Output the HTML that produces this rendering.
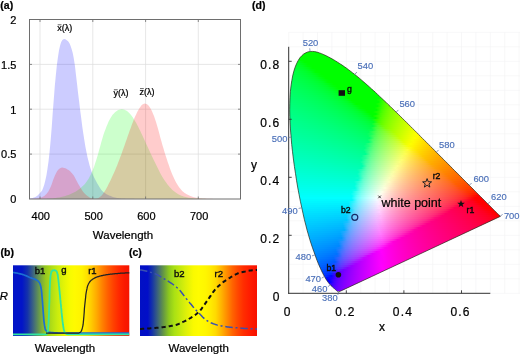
<!DOCTYPE html>
<html><head><meta charset="utf-8"><title>Figure</title>
<style>
html,body{margin:0;padding:0;background:#fff;}
body{width:520px;height:355px;overflow:hidden;}
svg{display:block;font-family:"Liberation Sans", Arial, Helvetica, sans-serif;}
svg text{fill:#000;stroke:#000;stroke-width:.22px;}
svg text.bl{fill:#4a6fb8;stroke:#4a6fb8;stroke-width:.15px;}
svg text.ml{fill:#0c0c0c;stroke:#0c0c0c;stroke-width:.38px;}

</style></head><body>
<svg width="520" height="355" viewBox="0 0 520 355">
<rect width="520" height="355" fill="#fff"/>
<g id="pa">
<line x1="40.0" y1="19.5" x2="40.0" y2="199.0" stroke="#dcdcdc" stroke-width="0.7"/>
<line x1="92.8" y1="19.5" x2="92.8" y2="199.0" stroke="#dcdcdc" stroke-width="0.7"/>
<line x1="145.6" y1="19.5" x2="145.6" y2="199.0" stroke="#dcdcdc" stroke-width="0.7"/>
<line x1="198.3" y1="19.5" x2="198.3" y2="199.0" stroke="#dcdcdc" stroke-width="0.7"/>
<line x1="29.5" y1="154.1" x2="240.5" y2="154.1" stroke="#dcdcdc" stroke-width="0.7"/>
<line x1="29.5" y1="109.2" x2="240.5" y2="109.2" stroke="#dcdcdc" stroke-width="0.7"/>
<line x1="29.5" y1="64.4" x2="240.5" y2="64.4" stroke="#dcdcdc" stroke-width="0.7"/>
<path d="M29.5,199.0 L29.5,198.4 30.6,198.3 31.6,198.2 32.7,197.9 33.7,197.6 34.8,197.2 35.8,196.7 36.9,196.1 37.9,195.3 39.0,194.1 40.0,192.9 41.1,191.7 42.2,190.2 43.2,187.8 44.3,184.5 45.3,180.4 46.4,175.4 47.4,169.3 48.5,161.6 49.5,152.4 50.6,141.1 51.7,127.5 52.7,112.9 53.8,98.9 54.8,86.1 55.9,74.6 56.9,64.8 58.0,56.8 59.0,50.3 60.1,45.5 61.1,42.2 62.2,40.2 63.3,39.2 64.3,39.0 65.4,39.3 66.4,40.0 67.5,40.7 68.5,41.7 69.6,43.4 70.6,45.9 71.7,49.2 72.8,53.3 73.8,58.6 74.9,65.6 75.9,74.3 77.0,83.4 78.0,92.4 79.1,101.2 80.1,109.8 81.2,118.1 82.2,126.0 83.3,133.5 84.4,140.5 85.4,146.7 86.5,152.3 87.5,157.3 88.6,161.6 89.6,165.5 90.7,168.9 91.7,172.0 92.8,174.6 93.9,176.9 94.9,178.9 96.0,180.9 97.0,182.9 98.1,184.8 99.1,186.6 100.2,188.2 101.2,189.7 102.3,190.9 103.3,192.0 104.4,192.8 105.5,193.5 106.5,194.2 107.6,194.7 108.6,195.2 109.7,195.7 110.7,196.1 111.8,196.5 112.8,196.9 113.9,197.2 115.0,197.5 116.0,197.7 117.1,197.9 118.1,198.1 119.2,198.2 120.2,198.3 121.3,198.4 122.3,198.5 123.4,198.6 124.5,198.6 125.5,198.7 126.6,198.7 127.6,198.8 128.7,198.8 129.7,198.8 130.8,198.8 131.8,198.8 132.9,198.8 133.9,198.8 135.0,198.9 136.1,198.9 137.1,198.9 138.2,198.9 139.2,198.9 140.3,198.9 141.3,198.9 142.4,198.9 143.4,198.9 144.5,198.9 145.6,198.9 146.6,198.9 147.7,198.9 148.7,199.0 149.8,199.0 150.8,199.0 151.9,199.0 152.9,199.0 154.0,199.0 155.0,199.0 156.1,199.0 157.2,199.0 158.2,199.0 159.3,199.0 160.3,199.0 161.4,199.0 162.4,199.0 163.5,199.0 164.5,199.0 165.6,199.0 166.7,199.0 167.7,199.0 168.8,199.0 169.8,199.0 170.9,199.0 171.9,199.0 173.0,199.0 174.0,199.0 175.1,199.0 176.1,199.0 177.2,199.0 178.3,199.0 179.3,199.0 180.4,199.0 181.4,199.0 182.5,199.0 183.5,199.0 184.6,199.0 185.6,199.0 186.7,199.0 187.8,199.0 188.8,199.0 189.9,199.0 190.9,199.0 192.0,199.0 193.0,199.0 194.1,199.0 195.1,199.0 196.2,199.0 197.2,199.0 198.3,199.0 199.4,199.0 200.4,199.0 201.5,199.0 202.5,199.0 203.6,199.0 204.6,199.0 205.7,199.0 206.7,199.0 207.8,199.0 208.8,199.0 209.9,199.0 211.0,199.0 212.0,199.0 213.1,199.0 214.1,199.0 215.2,199.0 216.2,199.0 217.3,199.0 218.3,199.0 219.4,199.0 220.5,199.0 221.5,199.0 222.6,199.0 223.6,199.0 224.7,199.0 225.7,199.0 226.8,199.0 227.8,199.0 228.9,199.0 229.9,199.0 231.0,199.0 232.1,199.0 233.1,199.0 234.2,199.0 235.2,199.0 236.3,199.0 237.3,199.0 238.4,199.0 239.4,199.0 240.5,199.0 L240.5,199.0 Z" fill="#0000ff" fill-opacity="0.2"/>
<path d="M29.5,199.0 L29.5,199.0 30.6,199.0 31.6,199.0 32.7,199.0 33.7,199.0 34.8,199.0 35.8,199.0 36.9,199.0 37.9,199.0 39.0,199.0 40.0,199.0 41.1,199.0 42.2,198.9 43.2,198.9 44.3,198.9 45.3,198.9 46.4,198.9 47.4,198.8 48.5,198.8 49.5,198.7 50.6,198.6 51.7,198.5 52.7,198.4 53.8,198.3 54.8,198.1 55.9,198.0 56.9,197.8 58.0,197.6 59.0,197.4 60.1,197.2 61.1,196.9 62.2,196.7 63.3,196.5 64.3,196.2 65.4,195.9 66.4,195.6 67.5,195.3 68.5,194.9 69.6,194.5 70.6,194.1 71.7,193.6 72.8,193.1 73.8,192.6 74.9,192.1 75.9,191.5 77.0,190.8 78.0,190.1 79.1,189.3 80.1,188.5 81.2,187.5 82.2,186.5 83.3,185.5 84.4,184.4 85.4,183.2 86.5,181.8 87.5,180.3 88.6,178.7 89.6,176.8 90.7,174.8 91.7,172.5 92.8,170.0 93.9,167.2 94.9,164.1 96.0,160.8 97.0,157.4 98.1,153.9 99.1,150.1 100.2,146.3 101.2,142.5 102.3,138.8 103.3,135.3 104.4,132.1 105.5,129.2 106.5,126.5 107.6,123.9 108.6,121.6 109.7,119.6 110.7,117.7 111.8,116.1 112.8,114.6 113.9,113.4 115.0,112.3 116.0,111.4 117.1,110.7 118.1,110.1 119.2,109.7 120.2,109.4 121.3,109.3 122.3,109.3 123.4,109.4 124.5,109.7 125.5,110.2 126.6,110.8 127.6,111.6 128.7,112.5 129.7,113.6 130.8,114.8 131.8,116.1 132.9,117.6 133.9,119.2 135.0,120.9 136.1,122.8 137.1,124.7 138.2,126.8 139.2,128.9 140.3,131.1 141.3,133.3 142.4,135.5 143.4,137.8 144.5,140.1 145.6,142.4 146.6,144.7 147.7,147.0 148.7,149.3 149.8,151.6 150.8,153.9 151.9,156.1 152.9,158.3 154.0,160.5 155.0,162.6 156.1,164.8 157.2,167.0 158.2,169.1 159.3,171.2 160.3,173.3 161.4,175.2 162.4,177.0 163.5,178.7 164.5,180.3 165.6,181.8 166.7,183.3 167.7,184.7 168.8,186.0 169.8,187.2 170.9,188.3 171.9,189.4 173.0,190.4 174.0,191.3 175.1,192.1 176.1,192.8 177.2,193.5 178.3,194.2 179.3,194.7 180.4,195.3 181.4,195.7 182.5,196.1 183.5,196.5 184.6,196.8 185.6,197.0 186.7,197.3 187.8,197.5 188.8,197.7 189.9,197.8 190.9,198.0 192.0,198.1 193.0,198.3 194.1,198.4 195.1,198.4 196.2,198.5 197.2,198.6 198.3,198.6 199.4,198.7 200.4,198.7 201.5,198.8 202.5,198.8 203.6,198.8 204.6,198.8 205.7,198.9 206.7,198.9 207.8,198.9 208.8,198.9 209.9,198.9 211.0,198.9 212.0,198.9 213.1,198.9 214.1,199.0 215.2,199.0 216.2,199.0 217.3,199.0 218.3,199.0 219.4,199.0 220.5,199.0 221.5,199.0 222.6,199.0 223.6,199.0 224.7,199.0 225.7,199.0 226.8,199.0 227.8,199.0 228.9,199.0 229.9,199.0 231.0,199.0 232.1,199.0 233.1,199.0 234.2,199.0 235.2,199.0 236.3,199.0 237.3,199.0 238.4,199.0 239.4,199.0 240.5,199.0 L240.5,199.0 Z" fill="#00ff00" fill-opacity="0.2"/>
<path d="M29.5,199.0 L29.5,198.9 30.6,198.9 31.6,198.8 32.7,198.8 33.7,198.7 34.8,198.6 35.8,198.5 36.9,198.4 37.9,198.2 39.0,198.0 40.0,197.7 41.1,197.5 42.2,197.1 43.2,196.6 44.3,196.0 45.3,195.1 46.4,194.1 47.4,192.8 48.5,191.2 49.5,189.3 50.6,186.9 51.7,184.2 52.7,181.2 53.8,178.3 54.8,175.8 55.9,173.5 56.9,171.6 58.0,170.1 59.0,169.0 60.1,168.2 61.1,167.7 62.2,167.6 63.3,167.7 64.3,167.9 65.4,168.3 66.4,168.8 67.5,169.4 68.5,170.0 69.6,170.8 70.6,171.8 71.7,172.9 72.8,174.2 73.8,175.6 74.9,177.4 75.9,179.4 77.0,181.5 78.0,183.4 79.1,185.3 80.1,187.1 81.2,188.8 82.2,190.4 83.3,191.9 84.4,193.2 85.4,194.3 86.5,195.3 87.5,196.1 88.6,196.8 89.6,197.4 90.7,197.9 91.7,198.3 92.8,198.6 93.9,198.7 94.9,198.8 96.0,198.7 97.0,198.5 98.1,198.2 99.1,197.6 100.2,196.8 101.2,195.9 102.3,194.7 103.3,193.3 104.4,191.8 105.5,190.1 106.5,188.2 107.6,186.2 108.6,184.1 109.7,182.0 110.7,179.9 111.8,177.6 112.8,175.3 113.9,172.9 115.0,170.5 116.0,168.0 117.1,165.4 118.1,162.8 119.2,160.1 120.2,157.3 121.3,154.5 122.3,151.6 123.4,148.6 124.5,145.6 125.5,142.6 126.6,139.6 127.6,136.6 128.7,133.6 129.7,130.6 130.8,127.7 131.8,124.8 132.9,122.0 133.9,119.3 135.0,116.8 136.1,114.4 137.1,112.2 138.2,110.2 139.2,108.4 140.3,106.9 141.3,105.6 142.4,104.5 143.4,103.9 144.5,103.6 145.6,103.7 146.6,104.0 147.7,104.7 148.7,105.7 149.8,107.2 150.8,109.0 151.9,111.1 152.9,113.5 154.0,116.1 155.0,119.1 156.1,122.3 157.2,125.9 158.2,129.6 159.3,133.5 160.3,137.5 161.4,141.3 162.4,145.1 163.5,148.6 164.5,152.1 165.6,155.5 166.7,158.8 167.7,162.0 168.8,165.1 169.8,168.1 170.9,170.9 171.9,173.6 173.0,176.0 174.0,178.3 175.1,180.4 176.1,182.4 177.2,184.2 178.3,185.9 179.3,187.4 180.4,188.8 181.4,190.1 182.5,191.2 183.5,192.1 184.6,192.9 185.6,193.6 186.7,194.2 187.8,194.8 188.8,195.3 189.9,195.8 190.9,196.3 192.0,196.6 193.0,197.0 194.1,197.2 195.1,197.5 196.2,197.7 197.2,197.8 198.3,198.0 199.4,198.1 200.4,198.2 201.5,198.3 202.5,198.4 203.6,198.5 204.6,198.5 205.7,198.6 206.7,198.7 207.8,198.7 208.8,198.7 209.9,198.8 211.0,198.8 212.0,198.8 213.1,198.9 214.1,198.9 215.2,198.9 216.2,198.9 217.3,198.9 218.3,198.9 219.4,198.9 220.5,198.9 221.5,199.0 222.6,199.0 223.6,199.0 224.7,199.0 225.7,199.0 226.8,199.0 227.8,199.0 228.9,199.0 229.9,199.0 231.0,199.0 232.1,199.0 233.1,199.0 234.2,199.0 235.2,199.0 236.3,199.0 237.3,199.0 238.4,199.0 239.4,199.0 240.5,199.0 L240.5,199.0 Z" fill="#ff0000" fill-opacity="0.2"/>
<rect x="29.5" y="19.5" width="211.0" height="179.5" fill="none" stroke="#6e6e6e" stroke-width="1"/>
<line x1="40.0" y1="199.0" x2="40.0" y2="196.5" stroke="#6e6e6e" stroke-width="0.8"/>
<line x1="40.0" y1="19.5" x2="40.0" y2="22.0" stroke="#6e6e6e" stroke-width="0.8"/>
<text x="40.8" y="220" font-size="11" text-anchor="middle">400</text>
<line x1="92.8" y1="199.0" x2="92.8" y2="196.5" stroke="#6e6e6e" stroke-width="0.8"/>
<line x1="92.8" y1="19.5" x2="92.8" y2="22.0" stroke="#6e6e6e" stroke-width="0.8"/>
<text x="93.6" y="220" font-size="11" text-anchor="middle">500</text>
<line x1="145.6" y1="199.0" x2="145.6" y2="196.5" stroke="#6e6e6e" stroke-width="0.8"/>
<line x1="145.6" y1="19.5" x2="145.6" y2="22.0" stroke="#6e6e6e" stroke-width="0.8"/>
<text x="146.4" y="220" font-size="11" text-anchor="middle">600</text>
<line x1="198.3" y1="199.0" x2="198.3" y2="196.5" stroke="#6e6e6e" stroke-width="0.8"/>
<line x1="198.3" y1="19.5" x2="198.3" y2="22.0" stroke="#6e6e6e" stroke-width="0.8"/>
<text x="199.1" y="220" font-size="11" text-anchor="middle">700</text>
<text x="16.4" y="203.3" font-size="11" text-anchor="end">0</text>
<line x1="29.5" y1="154.1" x2="32.0" y2="154.1" stroke="#6e6e6e" stroke-width="0.8"/>
<line x1="240.5" y1="154.1" x2="238.0" y2="154.1" stroke="#6e6e6e" stroke-width="0.8"/>
<text x="16.4" y="158.4" font-size="11" text-anchor="end">0.5</text>
<line x1="29.5" y1="109.2" x2="32.0" y2="109.2" stroke="#6e6e6e" stroke-width="0.8"/>
<line x1="240.5" y1="109.2" x2="238.0" y2="109.2" stroke="#6e6e6e" stroke-width="0.8"/>
<text x="16.4" y="113.5" font-size="11" text-anchor="end">1</text>
<line x1="29.5" y1="64.4" x2="32.0" y2="64.4" stroke="#6e6e6e" stroke-width="0.8"/>
<line x1="240.5" y1="64.4" x2="238.0" y2="64.4" stroke="#6e6e6e" stroke-width="0.8"/>
<text x="16.4" y="68.7" font-size="11" text-anchor="end">1.5</text>
<text x="16.4" y="23.8" font-size="11" text-anchor="end">2</text>
<text x="123" y="239" font-size="11.5" text-anchor="middle">Wavelength</text>
<text x="0.3" y="8.5" font-size="10.5" font-weight="bold">(a)</text>
<text x="57.3" y="31.2" font-size="9">x(&#955;)</text>
<line x1="57.7" y1="24.8" x2="61.5" y2="24.8" stroke="#222" stroke-width="0.7"/>
<text x="113.5" y="96.2" font-size="9">y(&#955;)</text>
<line x1="113.9" y1="89.8" x2="117.7" y2="89.8" stroke="#222" stroke-width="0.7"/>
<text x="139.6" y="95.0" font-size="9">z(&#955;)</text>
<line x1="140.0" y1="88.6" x2="143.8" y2="88.6" stroke="#222" stroke-width="0.7"/>
</g>
<defs>
<linearGradient id="rb" x1="0" x2="1" y1="0" y2="0">
<stop offset="0.000" stop-color="#0410be"/>
<stop offset="0.012" stop-color="#0214c8"/>
<stop offset="0.077" stop-color="#0214c8"/>
<stop offset="0.125" stop-color="#1432aa"/>
<stop offset="0.173" stop-color="#3c6482"/>
<stop offset="0.220" stop-color="#649650"/>
<stop offset="0.278" stop-color="#96c81e"/>
<stop offset="0.345" stop-color="#b6e214"/>
<stop offset="0.383" stop-color="#caec0e"/>
<stop offset="0.450" stop-color="#e8f604"/>
<stop offset="0.494" stop-color="#f8fb00"/>
<stop offset="0.530" stop-color="#fffa00"/>
<stop offset="0.593" stop-color="#fff300"/>
<stop offset="0.630" stop-color="#ffe400"/>
<stop offset="0.670" stop-color="#ffcd00"/>
<stop offset="0.719" stop-color="#ffaa00"/>
<stop offset="0.767" stop-color="#ff8200"/>
<stop offset="0.815" stop-color="#ff5f00"/>
<stop offset="0.863" stop-color="#ff4100"/>
<stop offset="0.911" stop-color="#ff2800"/>
<stop offset="0.959" stop-color="#fa1900"/>
<stop offset="1.000" stop-color="#f51400"/>
</linearGradient>
<linearGradient id="rc" x1="0" x2="1" y1="0" y2="0">
<stop offset="0.000" stop-color="#0210c4"/>
<stop offset="0.066" stop-color="#020ec8"/>
<stop offset="0.103" stop-color="#1432aa"/>
<stop offset="0.151" stop-color="#3c647a"/>
<stop offset="0.199" stop-color="#649646"/>
<stop offset="0.247" stop-color="#8cc81e"/>
<stop offset="0.294" stop-color="#aae114"/>
<stop offset="0.390" stop-color="#dcf00a"/>
<stop offset="0.456" stop-color="#fafa00"/>
<stop offset="0.500" stop-color="#fffc00"/>
<stop offset="0.560" stop-color="#fff600"/>
<stop offset="0.600" stop-color="#ffec00"/>
<stop offset="0.647" stop-color="#ffda00"/>
<stop offset="0.695" stop-color="#ffb400"/>
<stop offset="0.743" stop-color="#ff8c00"/>
<stop offset="0.790" stop-color="#ff6400"/>
<stop offset="0.838" stop-color="#ff4600"/>
<stop offset="0.885" stop-color="#ff2d00"/>
<stop offset="0.933" stop-color="#ff1e00"/>
<stop offset="0.980" stop-color="#fa1400"/>
<stop offset="1.000" stop-color="#f61200"/>
</linearGradient>
</defs>
<rect x="13.0" y="265.3" width="116.3" height="70.7" fill="url(#rb)"/>
<rect x="140.0" y="265.3" width="117.0" height="70.7" fill="url(#rc)"/>
<path d="M13.0,272.4 L13.6,272.5 L14.2,272.6 L14.7,272.7 L15.3,272.8 L15.9,272.9 L16.5,273.0 L17.1,273.1 L17.7,273.3 L18.2,273.4 L18.8,273.5 L19.4,273.7 L20.0,273.8 L20.6,273.9 L21.2,274.1 L21.7,274.3 L22.3,274.4 L22.9,274.6 L23.5,274.8 L24.1,275.0 L24.7,275.2 L25.2,275.4 L25.8,275.6 L26.4,275.9 L27.0,276.1 L27.6,276.4 L28.2,276.7 L28.7,277.0 L29.3,277.2 L29.9,277.5 L30.5,277.7 L31.1,277.9 L31.7,278.1 L32.2,278.3 L32.8,278.5 L33.4,278.7 L34.0,278.9 L34.6,279.1 L35.2,279.4 L35.7,279.6 L36.3,279.9 L36.9,280.2 L37.5,280.6 L38.1,281.1 L38.6,281.6 L39.2,282.4 L39.8,283.4 L40.4,285.0 L41.0,287.7 L41.6,291.5 L42.1,297.5 L42.7,305.1 L43.3,313.4 L43.9,321.1 L44.5,325.4 L45.1,328.5 L45.6,330.0 L46.2,330.8 L46.8,331.4 L47.4,331.8 L48.0,332.0 L48.6,332.1 L49.1,332.2 L49.7,332.3 L50.3,332.4 L50.9,332.5 L51.5,332.5 L52.1,332.6 L52.6,332.6 L53.2,332.7 L53.8,332.8 L54.4,332.8 L55.0,332.8 L55.6,332.9 L56.1,332.9 L56.7,332.9 L57.3,332.9 L57.9,333.0 L58.5,333.0 L59.1,333.0 L59.6,333.0 L60.2,333.0 L60.8,333.0 L61.4,333.0 L62.0,333.0 L62.5,333.0 L63.1,333.0 L63.7,333.0 L64.3,333.0 L64.9,333.0 L65.5,333.0 L66.0,333.0 L66.6,333.0 L67.2,333.0 L67.8,333.1 L68.4,333.1 L69.0,333.1 L69.5,333.1 L70.1,333.1 L70.7,333.1 L71.3,333.1 L71.9,333.1 L72.5,333.1 L73.0,333.1 L73.6,333.1 L74.2,333.1 L74.8,333.1 L75.4,333.1 L76.0,333.1 L76.5,333.1 L77.1,333.1 L77.7,333.1 L78.3,333.1 L78.9,333.1 L79.5,333.1 L80.0,333.1 L80.6,333.1 L81.2,333.1 L81.8,333.1 L82.4,333.1 L82.9,333.1 L83.5,333.1 L84.1,333.1 L84.7,333.1 L85.3,333.1 L85.9,333.1 L86.4,333.1 L87.0,333.1 L87.6,333.1 L88.2,333.1 L88.8,333.1 L89.4,333.1 L89.9,333.1 L90.5,333.2 L91.1,333.2 L91.7,333.2 L92.3,333.2 L92.9,333.2 L93.4,333.2 L94.0,333.2 L94.6,333.2 L95.2,333.2 L95.8,333.2 L96.4,333.2 L96.9,333.2 L97.5,333.2 L98.1,333.2 L98.7,333.2 L99.3,333.2 L99.9,333.2 L100.4,333.2 L101.0,333.2 L101.6,333.2 L102.2,333.2 L102.8,333.2 L103.4,333.2 L103.9,333.2 L104.5,333.2 L105.1,333.2 L105.7,333.2 L106.3,333.2 L106.8,333.2 L107.4,333.2 L108.0,333.2 L108.6,333.2 L109.2,333.2 L109.8,333.2 L110.3,333.2 L110.9,333.2 L111.5,333.2 L112.1,333.2 L112.7,333.2 L113.3,333.2 L113.8,333.2 L114.4,333.2 L115.0,333.2 L115.6,333.2 L116.2,333.2 L116.8,333.2 L117.3,333.2 L117.9,333.2 L118.5,333.2 L119.1,333.2 L119.7,333.2 L120.3,333.2 L120.8,333.2 L121.4,333.2 L122.0,333.2 L122.6,333.2 L123.2,333.2 L123.8,333.2 L124.3,333.2 L124.9,333.2 L125.5,333.2 L126.1,333.2 L126.7,333.2 L127.3,333.2 L127.8,333.2 L128.4,333.2 L129.0,333.2" fill="none" stroke="#1c6ed2" stroke-width="1.7"/>
<path d="M13.0,334.3 L13.1,334.3 L13.3,334.3 L13.4,334.3 L13.5,334.3 L13.6,334.3 L13.8,334.3 L13.9,334.3 L14.0,334.3 L14.2,334.3 L14.3,334.3 L14.4,334.3 L14.6,334.3 L14.7,334.3 L14.8,334.3 L14.9,334.3 L15.1,334.3 L15.2,334.3 L15.3,334.3 L15.5,334.3 L15.6,334.3 L15.7,334.3 L15.8,334.3 L16.0,334.3 L16.1,334.3 L16.2,334.3 L16.4,334.3 L16.5,334.3 L16.6,334.3 L16.8,334.3 L16.9,334.3 L17.0,334.3 L17.1,334.3 L17.3,334.3 L17.4,334.3 L17.5,334.3 L17.7,334.3 L17.8,334.3 L17.9,334.3 L18.0,334.3 L18.2,334.3 L18.3,334.3 L18.4,334.3 L18.6,334.3 L18.7,334.3 L18.8,334.3 L19.0,334.3 L19.1,334.3 L19.2,334.3 L19.3,334.3 L19.5,334.3 L19.6,334.3 L19.7,334.3 L19.9,334.3 L20.0,334.3 L20.1,334.3 L20.2,334.3 L20.4,334.3 L20.5,334.3 L20.6,334.3 L20.8,334.3 L20.9,334.3 L21.0,334.3 L21.2,334.3 L21.3,334.3 L21.4,334.3 L21.5,334.3 L21.7,334.3 L21.8,334.3 L21.9,334.3 L22.1,334.3 L22.2,334.3 L22.3,334.3 L22.4,334.3 L22.6,334.3 L22.7,334.3 L22.8,334.3 L23.0,334.3 L23.1,334.3 L23.2,334.3 L23.3,334.3 L23.5,334.3 L23.6,334.3 L23.7,334.3 L23.9,334.3 L24.0,334.3 L24.1,334.3 L24.3,334.3 L24.4,334.3 L24.5,334.3 L24.6,334.3 L24.8,334.3 L24.9,334.3 L25.0,334.3 L25.2,334.3 L25.3,334.3 L25.4,334.3 L25.5,334.3 L25.7,334.3 L25.8,334.3 L25.9,334.3 L26.1,334.3 L26.2,334.3 L26.3,334.3 L26.5,334.3 L26.6,334.3 L26.7,334.3 L26.8,334.3 L27.0,334.3 L27.1,334.3 L27.2,334.3 L27.4,334.3 L27.5,334.3 L27.6,334.3 L27.7,334.3 L27.9,334.3 L28.0,334.3 L28.1,334.3 L28.3,334.3 L28.4,334.3 L28.5,334.3 L28.7,334.3 L28.8,334.3 L28.9,334.3 L29.0,334.3 L29.2,334.3 L29.3,334.3 L29.4,334.3 L29.6,334.3 L29.7,334.3 L29.8,334.3 L29.9,334.3 L30.1,334.3 L30.2,334.3 L30.3,334.3 L30.5,334.3 L30.6,334.3 L30.7,334.3 L30.9,334.3 L31.0,334.3 L31.1,334.3 L31.2,334.3 L31.4,334.3 L31.5,334.3 L31.6,334.3 L31.8,334.3 L31.9,334.3 L32.0,334.3 L32.1,334.3 L32.3,334.3 L32.4,334.3 L32.5,334.3 L32.7,334.3 L32.8,334.3 L32.9,334.3 L33.1,334.3 L33.2,334.3 L33.3,334.3 L33.4,334.3 L33.6,334.3 L33.7,334.3 L33.8,334.3 L34.0,334.3 L34.1,334.3 L34.2,334.3 L34.3,334.3 L34.5,334.3 L34.6,334.3 L34.7,334.3 L34.9,334.3 L35.0,334.3 L35.1,334.3 L35.3,334.3 L35.4,334.3 L35.5,334.3 L35.6,334.3 L35.8,334.3 L35.9,334.3 L36.0,334.3 L36.2,334.3 L36.3,334.3 L36.4,334.3 L36.5,334.3 L36.7,334.3 L36.8,334.3 L36.9,334.3 L37.1,334.3 L37.2,334.3 L37.3,334.3 L37.5,334.3 L37.6,334.3 L37.7,334.3 L37.8,334.3 L38.0,334.3 L38.1,334.3 L38.2,334.3 L38.4,334.3 L38.5,334.3 L38.6,334.3 L38.7,334.3 L38.9,334.3 L39.0,334.3 L39.1,334.3 L39.3,334.3 L39.4,334.3 L39.5,334.3 L39.6,334.3 L39.8,334.3 L39.9,334.3 L40.0,334.3 L40.2,334.3 L40.3,334.3 L40.4,334.3 L40.6,334.3 L40.7,334.3 L40.8,334.3 L40.9,334.3 L41.1,334.3 L41.2,334.3 L41.3,334.3 L41.5,334.3 L41.6,334.3 L41.7,334.3 L41.8,334.3 L42.0,334.3 L42.1,334.3 L42.2,334.3 L42.4,334.3 L42.5,334.3 L42.6,334.3 L42.8,334.3 L42.9,334.3 L43.0,334.3 L43.1,334.3 L43.3,334.3 L43.4,334.3 L43.5,334.3 L43.7,334.3 L43.8,334.3 L43.9,334.3 L44.0,334.3 L44.2,334.3 L44.3,334.3 L44.4,334.3 L44.6,334.3 L44.7,334.3 L44.8,334.3 L45.0,334.3 L45.1,334.3 L45.2,334.3 L45.3,334.3 L45.5,334.3 L45.6,334.3 L45.7,334.3 L45.9,334.3 L46.0,334.3 L46.1,334.3 L46.2,334.3 L46.4,334.3 L46.5,334.2 L46.6,334.1 L46.8,334.0 L46.9,333.8 L47.0,333.5 L47.2,333.2 L47.3,332.9 L47.4,332.6 L47.5,332.2 L47.7,331.7 L47.8,331.0 L47.9,330.1 L48.1,328.9 L48.2,327.5 L48.3,326.0 L48.4,324.2 L48.6,322.4 L48.7,320.1 L48.8,317.0 L49.0,313.3 L49.1,309.3 L49.2,305.3 L49.4,301.5 L49.5,297.2 L49.6,292.9 L49.7,288.8 L49.9,285.6 L50.0,283.3 L50.1,281.2 L50.3,279.3 L50.4,277.7 L50.5,276.3 L50.6,275.3 L50.8,274.6 L50.9,274.0 L51.0,273.4 L51.2,272.8 L51.3,272.3 L51.4,271.9 L51.6,271.5 L51.7,271.2 L51.8,271.0 L51.9,270.8 L52.1,270.8 L52.2,270.7 L52.3,270.6 L52.5,270.6 L52.6,270.5 L52.7,270.5 L52.8,270.4 L53.0,270.4 L53.1,270.4 L53.2,270.3 L53.4,270.3 L53.5,270.3 L53.6,270.3 L53.8,270.2 L53.9,270.2 L54.0,270.2 L54.1,270.2 L54.3,270.2 L54.4,270.2 L54.5,270.2 L54.7,270.2 L54.8,270.3 L54.9,270.3 L55.0,270.3 L55.2,270.4 L55.3,270.4 L55.4,270.5 L55.6,270.5 L55.7,270.6 L55.8,270.7 L55.9,270.8 L56.1,270.8 L56.2,270.9 L56.3,271.0 L56.5,271.2 L56.6,271.4 L56.7,271.6 L56.9,272.0 L57.0,272.3 L57.1,272.7 L57.2,273.1 L57.4,273.6 L57.5,274.1 L57.6,274.6 L57.8,275.3 L57.9,276.1 L58.0,277.0 L58.1,278.1 L58.3,279.2 L58.4,280.4 L58.5,281.6 L58.7,282.8 L58.8,284.1 L58.9,285.2 L59.1,286.4 L59.2,287.6 L59.3,288.9 L59.4,290.1 L59.6,291.4 L59.7,292.7 L59.8,294.1 L60.0,295.4 L60.1,296.7 L60.2,298.1 L60.3,299.4 L60.5,300.7 L60.6,302.1 L60.7,303.4 L60.9,304.7 L61.0,306.0 L61.1,307.4 L61.3,308.8 L61.4,310.1 L61.5,311.5 L61.6,312.9 L61.8,314.2 L61.9,315.5 L62.0,316.7 L62.2,317.9 L62.3,319.1 L62.4,320.1 L62.5,321.2 L62.7,322.3 L62.8,323.3 L62.9,324.3 L63.1,325.3 L63.2,326.2 L63.3,327.1 L63.5,327.8 L63.6,328.5 L63.7,329.0 L63.8,329.5 L64.0,330.0 L64.1,330.5 L64.2,330.9 L64.4,331.3 L64.5,331.7 L64.6,332.0 L64.7,332.3 L64.9,332.6 L65.0,332.8 L65.1,333.0 L65.3,333.2 L65.4,333.3 L65.5,333.4 L65.7,333.5 L65.8,333.5 L65.9,333.6 L66.0,333.7 L66.2,333.8 L66.3,333.8 L66.4,333.9 L66.6,334.0 L66.7,334.0 L66.8,334.1 L66.9,334.1 L67.1,334.2 L67.2,334.2 L67.3,334.2 L67.5,334.3 L67.6,334.3 L67.7,334.3 L67.9,334.3 L68.0,334.3 L68.1,334.3 L68.2,334.3 L68.4,334.3 L68.5,334.3 L68.6,334.3 L68.8,334.3 L68.9,334.3 L69.0,334.3 L69.1,334.3 L69.3,334.3 L69.4,334.3 L69.5,334.3 L69.7,334.3 L69.8,334.3 L69.9,334.3 L70.1,334.3 L70.2,334.3 L70.3,334.3 L70.4,334.3 L70.6,334.3 L70.7,334.3 L70.8,334.3 L71.0,334.3 L71.1,334.3 L71.2,334.3 L71.3,334.3 L71.5,334.3 L71.6,334.3 L71.7,334.3 L71.9,334.3 L72.0,334.3 L72.1,334.3 L72.2,334.3 L72.4,334.3 L72.5,334.3 L72.6,334.3 L72.8,334.3 L72.9,334.3 L73.0,334.3 L73.2,334.3 L73.3,334.3 L73.4,334.3 L73.5,334.3 L73.7,334.3 L73.8,334.3 L73.9,334.3 L74.1,334.3 L74.2,334.3 L74.3,334.3 L74.4,334.3 L74.6,334.3 L74.7,334.3 L74.8,334.3 L75.0,334.3 L75.1,334.3 L75.2,334.3 L75.4,334.3 L75.5,334.3 L75.6,334.3 L75.7,334.3 L75.9,334.3 L76.0,334.3 L76.1,334.3 L76.3,334.3 L76.4,334.3 L76.5,334.3 L76.6,334.3 L76.8,334.3 L76.9,334.3 L77.0,334.3 L77.2,334.3 L77.3,334.3 L77.4,334.3 L77.6,334.3 L77.7,334.3 L77.8,334.3 L77.9,334.3 L78.1,334.3 L78.2,334.3 L78.3,334.3 L78.5,334.3 L78.6,334.3 L78.7,334.3 L78.8,334.3 L79.0,334.3 L79.1,334.3 L79.2,334.3 L79.4,334.3 L79.5,334.3 L79.6,334.3 L79.8,334.3 L79.9,334.3 L80.0,334.3 L80.1,334.3 L80.3,334.3 L80.4,334.3 L80.5,334.3 L80.7,334.3 L80.8,334.3 L80.9,334.3 L81.0,334.3 L81.2,334.3 L81.3,334.3 L81.4,334.3 L81.6,334.3 L81.7,334.3 L81.8,334.3 L82.0,334.3 L82.1,334.3 L82.2,334.3 L82.3,334.3 L82.5,334.3 L82.6,334.3 L82.7,334.3 L82.9,334.3 L83.0,334.3 L83.1,334.3 L83.2,334.3 L83.4,334.3 L83.5,334.3 L83.6,334.3 L83.8,334.3 L83.9,334.3 L84.0,334.3 L84.2,334.3 L84.3,334.3 L84.4,334.3 L84.5,334.3 L84.7,334.3 L84.8,334.3 L84.9,334.3 L85.1,334.3 L85.2,334.3 L85.3,334.3 L85.4,334.3 L85.6,334.3 L85.7,334.3 L85.8,334.3 L86.0,334.3 L86.1,334.3 L86.2,334.3 L86.4,334.3 L86.5,334.3 L86.6,334.3 L86.7,334.3 L86.9,334.3 L87.0,334.3 L87.1,334.3 L87.3,334.3 L87.4,334.3 L87.5,334.3 L87.6,334.3 L87.8,334.3 L87.9,334.3 L88.0,334.3 L88.2,334.3 L88.3,334.3 L88.4,334.3 L88.5,334.3 L88.7,334.3 L88.8,334.3 L88.9,334.3 L89.1,334.3 L89.2,334.3 L89.3,334.3 L89.5,334.3 L89.6,334.3 L89.7,334.3 L89.8,334.3 L90.0,334.3 L90.1,334.3 L90.2,334.3 L90.4,334.3 L90.5,334.3 L90.6,334.3 L90.7,334.3 L90.9,334.3 L91.0,334.3 L91.1,334.3 L91.3,334.3 L91.4,334.3 L91.5,334.3 L91.7,334.3 L91.8,334.3 L91.9,334.3 L92.0,334.3 L92.2,334.3 L92.3,334.3 L92.4,334.3 L92.6,334.3 L92.7,334.3 L92.8,334.3 L92.9,334.3 L93.1,334.3 L93.2,334.3 L93.3,334.3 L93.5,334.3 L93.6,334.3 L93.7,334.3 L93.9,334.3 L94.0,334.3 L94.1,334.3 L94.2,334.3 L94.4,334.3 L94.5,334.3 L94.6,334.3 L94.8,334.3 L94.9,334.3 L95.0,334.3 L95.1,334.3 L95.3,334.3 L95.4,334.3 L95.5,334.3 L95.7,334.3 L95.8,334.3 L95.9,334.3 L96.1,334.3 L96.2,334.3 L96.3,334.3 L96.4,334.3 L96.6,334.3 L96.7,334.3 L96.8,334.3 L97.0,334.3 L97.1,334.3 L97.2,334.3 L97.3,334.3 L97.5,334.3 L97.6,334.3 L97.7,334.3 L97.9,334.3 L98.0,334.3 L98.1,334.3 L98.3,334.3 L98.4,334.3 L98.5,334.3 L98.6,334.3 L98.8,334.3 L98.9,334.3 L99.0,334.3 L99.2,334.3 L99.3,334.3 L99.4,334.3 L99.5,334.3 L99.7,334.3 L99.8,334.3 L99.9,334.3 L100.1,334.3 L100.2,334.3 L100.3,334.3 L100.5,334.3 L100.6,334.3 L100.7,334.3 L100.8,334.3 L101.0,334.3 L101.1,334.3 L101.2,334.3 L101.4,334.3 L101.5,334.3 L101.6,334.3 L101.7,334.3 L101.9,334.3 L102.0,334.3 L102.1,334.3 L102.3,334.3 L102.4,334.3 L102.5,334.3 L102.7,334.3 L102.8,334.3 L102.9,334.3 L103.0,334.3 L103.2,334.3 L103.3,334.3 L103.4,334.3 L103.6,334.3 L103.7,334.3 L103.8,334.3 L103.9,334.3 L104.1,334.3 L104.2,334.3 L104.3,334.3 L104.5,334.3 L104.6,334.3 L104.7,334.3 L104.8,334.3 L105.0,334.3 L105.1,334.3 L105.2,334.3 L105.4,334.3 L105.5,334.3 L105.6,334.3 L105.8,334.3 L105.9,334.3 L106.0,334.3 L106.1,334.3 L106.3,334.3 L106.4,334.3 L106.5,334.3 L106.7,334.3 L106.8,334.3 L106.9,334.3 L107.0,334.3 L107.2,334.3 L107.3,334.3 L107.4,334.3 L107.6,334.3 L107.7,334.3 L107.8,334.3 L108.0,334.3 L108.1,334.3 L108.2,334.3 L108.3,334.3 L108.5,334.3 L108.6,334.3 L108.7,334.3 L108.9,334.3 L109.0,334.3 L109.1,334.3 L109.2,334.3 L109.4,334.3 L109.5,334.3 L109.6,334.3 L109.8,334.3 L109.9,334.3 L110.0,334.3 L110.2,334.3 L110.3,334.3 L110.4,334.3 L110.5,334.3 L110.7,334.3 L110.8,334.3 L110.9,334.3 L111.1,334.3 L111.2,334.3 L111.3,334.3 L111.4,334.3 L111.6,334.3 L111.7,334.3 L111.8,334.3 L112.0,334.3 L112.1,334.3 L112.2,334.3 L112.4,334.3 L112.5,334.3 L112.6,334.3 L112.7,334.3 L112.9,334.3 L113.0,334.3 L113.1,334.3 L113.3,334.3 L113.4,334.3 L113.5,334.3 L113.6,334.3 L113.8,334.3 L113.9,334.3 L114.0,334.3 L114.2,334.3 L114.3,334.3 L114.4,334.3 L114.6,334.3 L114.7,334.3 L114.8,334.3 L114.9,334.3 L115.1,334.3 L115.2,334.3 L115.3,334.3 L115.5,334.3 L115.6,334.3 L115.7,334.3 L115.8,334.3 L116.0,334.3 L116.1,334.3 L116.2,334.3 L116.4,334.3 L116.5,334.3 L116.6,334.3 L116.8,334.3 L116.9,334.3 L117.0,334.3 L117.1,334.3 L117.3,334.3 L117.4,334.3 L117.5,334.3 L117.7,334.3 L117.8,334.3 L117.9,334.3 L118.0,334.3 L118.2,334.3 L118.3,334.3 L118.4,334.3 L118.6,334.3 L118.7,334.3 L118.8,334.3 L119.0,334.3 L119.1,334.3 L119.2,334.3 L119.3,334.3 L119.5,334.3 L119.6,334.3 L119.7,334.3 L119.9,334.3 L120.0,334.3 L120.1,334.3 L120.2,334.3 L120.4,334.3 L120.5,334.3 L120.6,334.3 L120.8,334.3 L120.9,334.3 L121.0,334.3 L121.1,334.3 L121.3,334.3 L121.4,334.3 L121.5,334.3 L121.7,334.3 L121.8,334.3 L121.9,334.3 L122.1,334.3 L122.2,334.3 L122.3,334.3 L122.4,334.3 L122.6,334.3 L122.7,334.3 L122.8,334.3 L123.0,334.3 L123.1,334.3 L123.2,334.3 L123.3,334.3 L123.5,334.3 L123.6,334.3 L123.7,334.3 L123.9,334.3 L124.0,334.3 L124.1,334.3 L124.3,334.3 L124.4,334.3 L124.5,334.3 L124.6,334.3 L124.8,334.3 L124.9,334.3 L125.0,334.3 L125.2,334.3 L125.3,334.3 L125.4,334.3 L125.5,334.3 L125.7,334.3 L125.8,334.3 L125.9,334.3 L126.1,334.3 L126.2,334.3 L126.3,334.3 L126.5,334.3 L126.6,334.3 L126.7,334.3 L126.8,334.3 L127.0,334.3 L127.1,334.3 L127.2,334.3 L127.4,334.3 L127.5,334.3 L127.6,334.3 L127.7,334.3 L127.9,334.3 L128.0,334.3 L128.1,334.3 L128.3,334.3 L128.4,334.3 L128.5,334.3 L128.7,334.3 L128.8,334.3 L128.9,334.3 L129.0,334.3 L129.2,334.3 L129.3,334.3" fill="none" stroke="#30e6a0" stroke-width="1.8" stroke-linejoin="round"/>
<path d="M46.0,333.2 L46.3,333.2 L46.6,333.2 L46.8,333.2 L47.1,333.2 L47.4,333.2 L47.7,333.2 L48.0,333.2 L48.2,333.2 L48.5,333.2 L48.8,333.2 L49.1,333.2 L49.3,333.2 L49.6,333.2 L49.9,333.2 L50.2,333.2 L50.5,333.2 L50.7,333.2 L51.0,333.2 L51.3,333.2 L51.6,333.2 L51.9,333.2 L52.1,333.2 L52.4,333.2 L52.7,333.2 L53.0,333.2 L53.2,333.2 L53.5,333.2 L53.8,333.2 L54.1,333.2 L54.4,333.2 L54.6,333.2 L54.9,333.2 L55.2,333.2 L55.5,333.2 L55.8,333.2 L56.0,333.2 L56.3,333.2 L56.6,333.2 L56.9,333.2 L57.1,333.2 L57.4,333.2 L57.7,333.2 L58.0,333.2 L58.3,333.2 L58.5,333.2 L58.8,333.2 L59.1,333.2 L59.4,333.2 L59.7,333.2 L59.9,333.2 L60.2,333.2 L60.5,333.2 L60.8,333.2 L61.0,333.2 L61.3,333.2 L61.6,333.2 L61.9,333.2 L62.2,333.2 L62.4,333.2 L62.7,333.2 L63.0,333.2 L63.3,333.2 L63.6,333.2 L63.8,333.2 L64.1,333.2 L64.4,333.2 L64.7,333.2 L64.9,333.2 L65.2,333.2 L65.5,333.2 L65.8,333.2 L66.1,333.2 L66.3,333.2 L66.6,333.2 L66.9,333.2 L67.2,333.2 L67.5,333.2 L67.7,333.2 L68.0,333.2 L68.3,333.2 L68.6,333.2 L68.8,333.2 L69.1,333.2 L69.4,333.2 L69.7,333.2 L70.0,333.2 L70.2,333.2 L70.5,333.2 L70.8,333.2 L71.1,333.2 L71.4,333.2 L71.6,333.2 L71.9,333.2 L72.2,333.2 L72.5,333.2 L72.7,333.2 L73.0,333.2 L73.3,333.2 L73.6,333.2 L73.9,333.2 L74.1,333.2 L74.4,333.2 L74.7,333.2 L75.0,333.2 L75.3,333.2 L75.5,333.2 L75.8,333.2 L76.1,333.2 L76.4,333.2 L76.6,333.2 L76.9,333.2 L77.2,333.2 L77.5,333.2 L77.8,333.2 L78.0,333.2 L78.3,333.2 L78.6,333.1 L78.9,333.0 L79.2,332.9 L79.4,332.8 L79.7,332.6 L80.0,332.4 L80.3,332.2 L80.5,331.9 L80.8,331.7 L81.1,331.4 L81.4,330.9 L81.7,330.3 L81.9,329.5 L82.2,328.5 L82.5,327.4 L82.8,326.1 L83.1,324.7 L83.3,322.6 L83.6,319.6 L83.9,316.2 L84.2,312.5 L84.4,308.9 L84.7,305.8 L85.0,303.0 L85.3,300.3 L85.6,297.6 L85.8,295.2 L86.1,293.1 L86.4,291.5 L86.7,290.0 L87.0,288.7 L87.2,287.5 L87.5,286.4 L87.8,285.5 L88.1,284.8 L88.3,284.2 L88.6,283.7 L88.9,283.2 L89.2,282.7 L89.5,282.3 L89.7,281.9 L90.0,281.5 L90.3,281.2 L90.6,280.9 L90.9,280.6 L91.1,280.4 L91.4,280.1 L91.7,279.9 L92.0,279.7 L92.2,279.5 L92.5,279.3 L92.8,279.1 L93.1,278.9 L93.4,278.7 L93.6,278.6 L93.9,278.4 L94.2,278.2 L94.5,278.1 L94.8,278.0 L95.0,277.8 L95.3,277.7 L95.6,277.6 L95.9,277.4 L96.1,277.3 L96.4,277.2 L96.7,277.1 L97.0,277.0 L97.3,276.9 L97.5,276.8 L97.8,276.7 L98.1,276.6 L98.4,276.5 L98.7,276.5 L98.9,276.4 L99.2,276.3 L99.5,276.2 L99.8,276.1 L100.0,276.1 L100.3,276.0 L100.6,275.9 L100.9,275.9 L101.2,275.8 L101.4,275.7 L101.7,275.7 L102.0,275.6 L102.3,275.5 L102.6,275.5 L102.8,275.4 L103.1,275.4 L103.4,275.3 L103.7,275.2 L103.9,275.2 L104.2,275.1 L104.5,275.1 L104.8,275.0 L105.1,275.0 L105.3,274.9 L105.6,274.9 L105.9,274.8 L106.2,274.8 L106.5,274.7 L106.7,274.7 L107.0,274.7 L107.3,274.6 L107.6,274.6 L107.8,274.5 L108.1,274.5 L108.4,274.4 L108.7,274.4 L109.0,274.4 L109.2,274.3 L109.5,274.3 L109.8,274.3 L110.1,274.2 L110.4,274.2 L110.6,274.1 L110.9,274.1 L111.2,274.1 L111.5,274.1 L111.7,274.0 L112.0,274.0 L112.3,274.0 L112.6,273.9 L112.9,273.9 L113.1,273.9 L113.4,273.9 L113.7,273.8 L114.0,273.8 L114.3,273.8 L114.5,273.8 L114.8,273.7 L115.1,273.7 L115.4,273.7 L115.6,273.6 L115.9,273.6 L116.2,273.6 L116.5,273.6 L116.8,273.5 L117.0,273.5 L117.3,273.5 L117.6,273.5 L117.9,273.4 L118.2,273.4 L118.4,273.4 L118.7,273.4 L119.0,273.4 L119.3,273.3 L119.5,273.3 L119.8,273.3 L120.1,273.3 L120.4,273.2 L120.7,273.2 L120.9,273.2 L121.2,273.2 L121.5,273.2 L121.8,273.1 L122.1,273.1 L122.3,273.1 L122.6,273.1 L122.9,273.1 L123.2,273.1 L123.4,273.0 L123.7,273.0 L124.0,273.0 L124.3,273.0 L124.6,273.0 L124.8,273.0 L125.1,272.9 L125.4,272.9 L125.7,272.9 L126.0,272.9 L126.2,272.9 L126.5,272.9 L126.8,272.9 L127.1,272.9 L127.3,272.8 L127.6,272.8 L127.9,272.8 L128.2,272.8 L128.5,272.8 L128.7,272.8 L129.0,272.8 L129.3,272.8" fill="none" stroke="#222" stroke-width="1.25"/>
<path d="M140.0,328.9 L141.2,328.9 L142.4,328.8 L143.5,328.8 L144.7,328.7 L145.9,328.6 L147.1,328.6 L148.3,328.5 L149.5,328.4 L150.6,328.3 L151.8,328.2 L153.0,328.1 L154.2,328.0 L155.4,327.9 L156.5,327.8 L157.7,327.7 L158.9,327.6 L160.1,327.4 L161.3,327.3 L162.5,327.2 L163.6,327.1 L164.8,326.9 L166.0,326.7 L167.2,326.6 L168.4,326.4 L169.5,326.2 L170.7,326.0 L171.9,325.8 L173.1,325.6 L174.3,325.3 L175.5,325.0 L176.6,324.7 L177.8,324.3 L179.0,323.8 L180.2,323.3 L181.4,322.8 L182.5,322.2 L183.7,321.7 L184.9,321.1 L186.1,320.5 L187.3,319.9 L188.5,319.2 L189.6,318.5 L190.8,317.8 L192.0,317.0 L193.2,316.2 L194.4,315.5 L195.5,314.7 L196.7,313.8 L197.9,312.8 L199.1,311.7 L200.3,310.4 L201.5,308.9 L202.6,307.3 L203.8,305.6 L205.0,303.9 L206.2,302.2 L207.4,300.5 L208.5,298.9 L209.7,297.1 L210.9,295.4 L212.1,293.6 L213.3,291.9 L214.5,290.3 L215.6,288.9 L216.8,287.7 L218.0,286.5 L219.2,285.4 L220.4,284.4 L221.5,283.4 L222.7,282.5 L223.9,281.6 L225.1,280.8 L226.3,280.0 L227.5,279.2 L228.6,278.5 L229.8,277.8 L231.0,277.0 L232.2,276.3 L233.4,275.6 L234.5,275.0 L235.7,274.4 L236.9,273.8 L238.1,273.3 L239.3,272.9 L240.5,272.5 L241.6,272.3 L242.8,272.0 L244.0,271.7 L245.2,271.5 L246.4,271.2 L247.5,271.0 L248.7,270.8 L249.9,270.6 L251.1,270.4 L252.3,270.3 L253.5,270.2 L254.6,270.1 L255.8,270.0 L257.0,270.0" fill="none" stroke="#111" stroke-width="2" stroke-dasharray="4.2,3"/>
<path d="M140.0,270.0 L141.2,270.1 L142.4,270.3 L143.5,270.5 L144.7,270.7 L145.9,271.0 L147.1,271.3 L148.3,271.6 L149.5,271.9 L150.6,272.3 L151.8,272.6 L153.0,273.0 L154.2,273.4 L155.4,273.9 L156.5,274.4 L157.7,275.0 L158.9,275.7 L160.1,276.4 L161.3,277.1 L162.5,277.8 L163.6,278.5 L164.8,279.2 L166.0,279.9 L167.2,280.6 L168.4,281.4 L169.5,282.1 L170.7,282.9 L171.9,283.7 L173.1,284.5 L174.3,285.4 L175.5,286.3 L176.6,287.3 L177.8,288.3 L179.0,289.5 L180.2,290.8 L181.4,292.2 L182.5,293.7 L183.7,295.3 L184.9,296.8 L186.1,298.4 L187.3,299.9 L188.5,301.3 L189.6,302.7 L190.8,304.1 L192.0,305.5 L193.2,306.9 L194.4,308.2 L195.5,309.6 L196.7,310.9 L197.9,312.1 L199.1,313.3 L200.3,314.6 L201.5,315.8 L202.6,317.0 L203.8,318.1 L205.0,319.2 L206.2,320.1 L207.4,320.8 L208.5,321.5 L209.7,322.1 L210.9,322.7 L212.1,323.2 L213.3,323.7 L214.5,324.1 L215.6,324.5 L216.8,324.9 L218.0,325.2 L219.2,325.4 L220.4,325.7 L221.5,325.9 L222.7,326.1 L223.9,326.3 L225.1,326.5 L226.3,326.7 L227.5,326.9 L228.6,327.0 L229.8,327.2 L231.0,327.3 L232.2,327.4 L233.4,327.5 L234.5,327.6 L235.7,327.7 L236.9,327.8 L238.1,327.9 L239.3,328.0 L240.5,328.1 L241.6,328.2 L242.8,328.3 L244.0,328.4 L245.2,328.4 L246.4,328.5 L247.5,328.6 L248.7,328.7 L249.9,328.7 L251.1,328.8 L252.3,328.8 L253.5,328.8 L254.6,328.9 L255.8,328.9 L257.0,328.9" fill="none" stroke="#3a50b0" stroke-width="1.5" stroke-dasharray="7.5,2.8,2,2.8"/>
<text x="0.5" y="255.5" font-size="10.5" font-weight="bold">(b)</text>
<text x="129" y="255.5" font-size="10.5" font-weight="bold">(c)</text>
<text x="-0.3" y="300.3" font-size="11.3" font-style="italic">R</text>
<text x="65" y="351.8" font-size="11.5" text-anchor="middle">Wavelength</text>
<text x="198.7" y="351.8" font-size="11.5" text-anchor="middle">Wavelength</text>
<text x="34.8" y="274.0" font-size="9.5" class="ml">b1</text>
<text x="61.3" y="272.5" font-size="9.5" class="ml">g</text>
<text x="88.2" y="274.0" font-size="9.5" class="ml">r1</text>
<text x="173.9" y="276.9" font-size="9.5" class="ml">b2</text>
<text x="214.5" y="276.9" font-size="9.5" class="ml">r2</text>
<defs><clipPath id="lc"><path d="M338.8,291.9 L338.8,291.9 L338.8,291.9 L338.8,291.9 L338.8,291.9 L338.8,291.9 L338.8,291.9 L338.8,291.9 L338.8,291.9 L338.8,291.9 L338.8,291.9 L338.7,291.9 L338.7,291.9 L338.7,291.9 L338.7,291.9 L338.7,291.9 L338.7,291.9 L338.7,291.9 L338.6,291.9 L338.6,291.9 L338.6,291.9 L338.6,291.9 L338.6,291.9 L338.6,291.9 L338.6,291.9 L338.5,291.9 L338.5,291.9 L338.5,291.9 L338.5,291.9 L338.4,291.9 L338.4,291.9 L338.4,291.9 L338.3,291.9 L338.3,291.9 L338.3,291.9 L338.3,291.9 L338.2,291.9 L338.2,291.9 L338.2,291.9 L338.1,291.8 L338.1,291.8 L338.0,291.8 L337.9,291.8 L337.9,291.7 L337.8,291.7 L337.7,291.6 L337.7,291.6 L337.6,291.5 L337.5,291.4 L337.4,291.4 L337.3,291.3 L337.2,291.2 L337.1,291.1 L337.0,291.0 L336.9,290.9 L336.8,290.8 L336.6,290.7 L336.5,290.6 L336.4,290.4 L336.2,290.3 L336.1,290.2 L335.9,290.0 L335.7,289.8 L335.5,289.7 L335.3,289.5 L335.1,289.3 L334.9,289.1 L334.6,288.9 L334.4,288.7 L334.1,288.4 L333.8,288.2 L333.5,287.9 L333.2,287.6 L332.9,287.3 L332.5,287.0 L332.2,286.7 L331.8,286.4 L331.4,286.0 L331.0,285.6 L330.6,285.1 L330.2,284.7 L329.7,284.2 L329.2,283.7 L328.8,283.1 L328.3,282.5 L327.7,281.7 L327.2,280.9 L326.5,280.0 L325.9,279.0 L325.2,277.8 L324.4,276.5 L323.7,275.1 L322.9,273.6 L322.1,272.0 L321.2,270.1 L320.3,268.1 L319.3,265.9 L318.3,263.5 L317.2,260.8 L316.1,257.9 L315.0,254.8 L313.8,251.4 L312.5,247.8 L311.2,243.9 L309.8,239.6 L308.5,235.1 L307.1,230.2 L305.8,225.1 L304.4,219.6 L303.1,213.8 L301.8,207.8 L300.4,201.4 L299.1,194.7 L297.8,187.9 L296.6,180.8 L295.5,173.6 L294.4,166.4 L293.4,159.0 L292.5,151.7 L291.7,144.4 L291.1,137.2 L290.5,130.0 L290.1,123.0 L289.8,116.3 L289.7,109.7 L289.8,103.4 L290.0,97.3 L290.4,91.4 L291.0,85.9 L291.8,80.6 L292.7,75.7 L293.8,71.3 L295.1,67.2 L296.6,63.6 L298.2,60.5 L299.9,57.8 L301.8,55.7 L303.7,54.0 L305.8,52.8 L307.9,51.9 L310.1,51.5 L312.3,51.4 L314.6,51.6 L316.9,52.1 L319.2,52.8 L321.6,53.7 L323.9,54.7 L326.3,55.8 L328.6,57.0 L331.0,58.3 L333.3,59.6 L335.5,60.9 L337.7,62.3 L339.9,63.7 L342.1,65.1 L344.2,66.6 L346.4,68.1 L348.5,69.7 L350.6,71.3 L352.7,72.9 L354.8,74.5 L356.9,76.2 L359.0,77.9 L361.1,79.7 L363.2,81.5 L365.2,83.2 L367.3,85.1 L369.4,86.9 L371.4,88.8 L373.5,90.6 L375.6,92.5 L377.6,94.4 L379.7,96.4 L381.7,98.3 L383.8,100.3 L385.9,102.2 L387.9,104.2 L390.0,106.2 L392.0,108.2 L394.1,110.2 L396.2,112.2 L398.2,114.2 L400.3,116.2 L402.3,118.3 L404.4,120.3 L406.4,122.3 L408.5,124.3 L410.5,126.4 L412.5,128.4 L414.6,130.4 L416.6,132.4 L418.6,134.4 L420.6,136.5 L422.6,138.5 L424.6,140.5 L426.6,142.4 L428.6,144.4 L430.5,146.4 L432.5,148.3 L434.4,150.3 L436.3,152.2 L438.2,154.1 L440.1,156.0 L441.9,157.8 L443.8,159.7 L445.6,161.5 L447.4,163.3 L449.2,165.1 L450.9,166.8 L452.6,168.6 L454.3,170.3 L456.0,172.0 L457.7,173.6 L459.3,175.2 L460.8,176.8 L462.3,178.3 L463.8,179.8 L465.2,181.2 L466.6,182.6 L468.0,184.0 L469.3,185.3 L470.6,186.6 L471.8,187.8 L473.1,189.1 L474.3,190.3 L475.4,191.4 L476.5,192.5 L477.5,193.5 L478.5,194.5 L479.5,195.5 L480.4,196.4 L481.3,197.3 L482.2,198.2 L483.0,199.0 L483.8,199.8 L484.6,200.6 L485.3,201.3 L486.0,202.0 L486.6,202.7 L487.3,203.3 L487.9,203.9 L488.4,204.5 L489.0,205.0 L489.5,205.5 L490.0,206.0 L490.5,206.5 L490.9,207.0 L491.4,207.4 L491.8,207.8 L492.2,208.2 L492.6,208.6 L493.0,209.0 L493.3,209.4 L493.7,209.7 L494.0,210.1 L494.3,210.4 L494.7,210.7 L495.0,211.0 L495.2,211.3 L495.5,211.6 L495.8,211.8 L496.0,212.1 L496.3,212.3 L496.5,212.6 L496.7,212.8 L496.9,213.0 L497.1,213.2 L497.3,213.4 L497.5,213.5 L497.6,213.7 L497.8,213.8 L497.9,214.0 L498.1,214.1 L498.2,214.3 L498.3,214.4 L498.4,214.5 L498.6,214.6 L498.7,214.7 L498.8,214.8 L498.8,214.9 L498.9,215.0 L499.0,215.1 L499.1,215.1 L499.1,215.2 L499.2,215.3 L499.3,215.3 L499.3,215.4 L499.4,215.4 L499.4,215.5 L499.5,215.5 L499.5,215.6 L499.6,215.6 L499.6,215.7 L499.6,215.7 L499.7,215.7 L499.7,215.8 L499.8,215.8 L499.8,215.9 L499.8,215.9 L499.9,216.0 L499.9,216.0 L500.0,216.0 L500.0,216.1 L500.0,216.1 L500.1,216.1 L500.1,216.2 L500.1,216.2 L500.2,216.2 L500.2,216.2 L500.2,216.3 L500.2,216.3 L500.2,216.3 L500.2,216.3 L500.2,216.3 L500.3,216.3 L500.3,216.3 L500.3,216.3 L500.3,216.3 L500.3,216.4 L500.3,216.4 L500.3,216.4 Z"/></clipPath>
<linearGradient id="g0" gradientUnits="userSpaceOnUse" x1="305.0" x2="319.0" y1="0" y2="0">
<stop offset="0.000" stop-color="#00ff00"/>
<stop offset="0.333" stop-color="#00ff00"/>
<stop offset="0.667" stop-color="#00ff00"/>
<stop offset="1.000" stop-color="#00ff00"/>
</linearGradient>
<linearGradient id="g1" gradientUnits="userSpaceOnUse" x1="301.0" x2="325.0" y1="0" y2="0">
<stop offset="0.000" stop-color="#00ff00"/>
<stop offset="0.200" stop-color="#00ff00"/>
<stop offset="0.400" stop-color="#00ff00"/>
<stop offset="0.600" stop-color="#00ff00"/>
<stop offset="0.800" stop-color="#00ff00"/>
<stop offset="1.000" stop-color="#00ff00"/>
</linearGradient>
<linearGradient id="g2" gradientUnits="userSpaceOnUse" x1="298.5" x2="329.5" y1="0" y2="0">
<stop offset="0.000" stop-color="#00ff00"/>
<stop offset="0.167" stop-color="#00ff00"/>
<stop offset="0.333" stop-color="#00ff00"/>
<stop offset="0.500" stop-color="#00ff00"/>
<stop offset="0.667" stop-color="#00ff00"/>
<stop offset="0.833" stop-color="#00ff00"/>
<stop offset="1.000" stop-color="#00ff00"/>
</linearGradient>
<linearGradient id="g3" gradientUnits="userSpaceOnUse" x1="297.0" x2="333.0" y1="0" y2="0">
<stop offset="0.000" stop-color="#00ff0b"/>
<stop offset="0.143" stop-color="#00ff00"/>
<stop offset="0.286" stop-color="#00ff00"/>
<stop offset="0.429" stop-color="#00ff00"/>
<stop offset="0.571" stop-color="#00ff00"/>
<stop offset="0.714" stop-color="#00ff00"/>
<stop offset="0.857" stop-color="#00ff00"/>
<stop offset="1.000" stop-color="#00ff00"/>
</linearGradient>
<linearGradient id="g4" gradientUnits="userSpaceOnUse" x1="295.5" x2="336.5" y1="0" y2="0">
<stop offset="0.000" stop-color="#00ff1e"/>
<stop offset="0.125" stop-color="#00ff02"/>
<stop offset="0.250" stop-color="#00ff00"/>
<stop offset="0.375" stop-color="#00ff00"/>
<stop offset="0.500" stop-color="#00ff00"/>
<stop offset="0.625" stop-color="#00ff00"/>
<stop offset="0.750" stop-color="#00ff00"/>
<stop offset="0.875" stop-color="#00ff00"/>
<stop offset="1.000" stop-color="#00ff00"/>
</linearGradient>
<linearGradient id="g5" gradientUnits="userSpaceOnUse" x1="294.5" x2="340.0" y1="0" y2="0">
<stop offset="0.000" stop-color="#00ff28"/>
<stop offset="0.111" stop-color="#00ff18"/>
<stop offset="0.222" stop-color="#00ff00"/>
<stop offset="0.333" stop-color="#00ff00"/>
<stop offset="0.444" stop-color="#00ff00"/>
<stop offset="0.556" stop-color="#00ff00"/>
<stop offset="0.667" stop-color="#00ff00"/>
<stop offset="0.778" stop-color="#00ff00"/>
<stop offset="0.889" stop-color="#00ff00"/>
<stop offset="1.000" stop-color="#00ff00"/>
</linearGradient>
<linearGradient id="g6" gradientUnits="userSpaceOnUse" x1="293.5" x2="343.0" y1="0" y2="0">
<stop offset="0.000" stop-color="#00ff30"/>
<stop offset="0.100" stop-color="#00ff24"/>
<stop offset="0.200" stop-color="#00ff12"/>
<stop offset="0.300" stop-color="#00ff00"/>
<stop offset="0.400" stop-color="#00ff00"/>
<stop offset="0.500" stop-color="#00ff00"/>
<stop offset="0.600" stop-color="#00ff00"/>
<stop offset="0.700" stop-color="#00ff00"/>
<stop offset="0.800" stop-color="#00ff00"/>
<stop offset="0.900" stop-color="#00ff00"/>
<stop offset="1.000" stop-color="#00ff00"/>
</linearGradient>
<linearGradient id="g7" gradientUnits="userSpaceOnUse" x1="293.0" x2="346.0" y1="0" y2="0">
<stop offset="0.000" stop-color="#00ff36"/>
<stop offset="0.091" stop-color="#00ff2c"/>
<stop offset="0.182" stop-color="#00ff20"/>
<stop offset="0.273" stop-color="#00ff08"/>
<stop offset="0.364" stop-color="#00ff00"/>
<stop offset="0.455" stop-color="#00ff00"/>
<stop offset="0.545" stop-color="#00ff00"/>
<stop offset="0.636" stop-color="#00ff00"/>
<stop offset="0.727" stop-color="#00ff00"/>
<stop offset="0.818" stop-color="#00ff00"/>
<stop offset="0.909" stop-color="#00ff00"/>
<stop offset="1.000" stop-color="#00ff00"/>
</linearGradient>
<linearGradient id="g8" gradientUnits="userSpaceOnUse" x1="292.0" x2="349.0" y1="0" y2="0">
<stop offset="0.000" stop-color="#00ff3c"/>
<stop offset="0.091" stop-color="#00ff33"/>
<stop offset="0.182" stop-color="#00ff28"/>
<stop offset="0.273" stop-color="#00ff17"/>
<stop offset="0.364" stop-color="#00ff00"/>
<stop offset="0.455" stop-color="#00ff00"/>
<stop offset="0.545" stop-color="#00ff00"/>
<stop offset="0.636" stop-color="#00ff00"/>
<stop offset="0.727" stop-color="#00ff00"/>
<stop offset="0.818" stop-color="#00ff00"/>
<stop offset="0.909" stop-color="#00ff00"/>
<stop offset="1.000" stop-color="#00ff00"/>
</linearGradient>
<linearGradient id="g9" gradientUnits="userSpaceOnUse" x1="291.5" x2="351.5" y1="0" y2="0">
<stop offset="0.000" stop-color="#00ff41"/>
<stop offset="0.083" stop-color="#00ff39"/>
<stop offset="0.167" stop-color="#00ff30"/>
<stop offset="0.250" stop-color="#00ff24"/>
<stop offset="0.333" stop-color="#00ff0f"/>
<stop offset="0.417" stop-color="#00ff00"/>
<stop offset="0.500" stop-color="#00ff00"/>
<stop offset="0.583" stop-color="#00ff00"/>
<stop offset="0.667" stop-color="#00ff00"/>
<stop offset="0.750" stop-color="#00ff00"/>
<stop offset="0.833" stop-color="#00ff00"/>
<stop offset="0.917" stop-color="#00ff00"/>
<stop offset="1.000" stop-color="#00ff00"/>
</linearGradient>
<linearGradient id="g10" gradientUnits="userSpaceOnUse" x1="291.0" x2="354.5" y1="0" y2="0">
<stop offset="0.000" stop-color="#00ff46"/>
<stop offset="0.077" stop-color="#00ff3f"/>
<stop offset="0.154" stop-color="#00ff37"/>
<stop offset="0.231" stop-color="#00ff2d"/>
<stop offset="0.308" stop-color="#00ff1f"/>
<stop offset="0.385" stop-color="#00ff04"/>
<stop offset="0.462" stop-color="#00ff00"/>
<stop offset="0.538" stop-color="#00ff00"/>
<stop offset="0.615" stop-color="#00ff00"/>
<stop offset="0.692" stop-color="#00ff00"/>
<stop offset="0.769" stop-color="#00ff00"/>
<stop offset="0.846" stop-color="#00ff00"/>
<stop offset="0.923" stop-color="#00ff00"/>
<stop offset="1.000" stop-color="#00ff00"/>
</linearGradient>
<linearGradient id="g11" gradientUnits="userSpaceOnUse" x1="290.5" x2="357.0" y1="0" y2="0">
<stop offset="0.000" stop-color="#00ff4a"/>
<stop offset="0.077" stop-color="#00ff43"/>
<stop offset="0.154" stop-color="#00ff3b"/>
<stop offset="0.231" stop-color="#00ff32"/>
<stop offset="0.308" stop-color="#00ff26"/>
<stop offset="0.385" stop-color="#00ff12"/>
<stop offset="0.462" stop-color="#00ff00"/>
<stop offset="0.538" stop-color="#00ff00"/>
<stop offset="0.615" stop-color="#00ff00"/>
<stop offset="0.692" stop-color="#00ff00"/>
<stop offset="0.769" stop-color="#00ff00"/>
<stop offset="0.846" stop-color="#00ff00"/>
<stop offset="0.923" stop-color="#00ff00"/>
<stop offset="1.000" stop-color="#00ff00"/>
</linearGradient>
<linearGradient id="g12" gradientUnits="userSpaceOnUse" x1="290.0" x2="359.5" y1="0" y2="0">
<stop offset="0.000" stop-color="#00ff4e"/>
<stop offset="0.071" stop-color="#00ff48"/>
<stop offset="0.143" stop-color="#00ff41"/>
<stop offset="0.214" stop-color="#00ff39"/>
<stop offset="0.286" stop-color="#00ff2f"/>
<stop offset="0.357" stop-color="#00ff22"/>
<stop offset="0.429" stop-color="#00ff0a"/>
<stop offset="0.500" stop-color="#00ff00"/>
<stop offset="0.571" stop-color="#00ff00"/>
<stop offset="0.643" stop-color="#00ff00"/>
<stop offset="0.714" stop-color="#00ff00"/>
<stop offset="0.786" stop-color="#00ff00"/>
<stop offset="0.857" stop-color="#00ff00"/>
<stop offset="0.929" stop-color="#00ff00"/>
<stop offset="1.000" stop-color="#00ff00"/>
</linearGradient>
<linearGradient id="g13" gradientUnits="userSpaceOnUse" x1="289.5" x2="362.0" y1="0" y2="0">
<stop offset="0.000" stop-color="#00ff52"/>
<stop offset="0.071" stop-color="#00ff4c"/>
<stop offset="0.143" stop-color="#00ff45"/>
<stop offset="0.214" stop-color="#00ff3e"/>
<stop offset="0.286" stop-color="#00ff34"/>
<stop offset="0.357" stop-color="#00ff28"/>
<stop offset="0.429" stop-color="#00ff15"/>
<stop offset="0.500" stop-color="#00ff00"/>
<stop offset="0.571" stop-color="#00ff00"/>
<stop offset="0.643" stop-color="#00ff00"/>
<stop offset="0.714" stop-color="#00ff00"/>
<stop offset="0.786" stop-color="#00ff00"/>
<stop offset="0.857" stop-color="#00ff00"/>
<stop offset="0.929" stop-color="#00ff00"/>
<stop offset="1.000" stop-color="#00ff00"/>
</linearGradient>
<linearGradient id="g14" gradientUnits="userSpaceOnUse" x1="289.0" x2="364.0" y1="0" y2="0">
<stop offset="0.000" stop-color="#00ff56"/>
<stop offset="0.067" stop-color="#00ff50"/>
<stop offset="0.133" stop-color="#00ff4a"/>
<stop offset="0.200" stop-color="#00ff44"/>
<stop offset="0.267" stop-color="#00ff3c"/>
<stop offset="0.333" stop-color="#00ff32"/>
<stop offset="0.400" stop-color="#00ff25"/>
<stop offset="0.467" stop-color="#00ff10"/>
<stop offset="0.533" stop-color="#00ff00"/>
<stop offset="0.600" stop-color="#00ff00"/>
<stop offset="0.667" stop-color="#00ff00"/>
<stop offset="0.733" stop-color="#00ff00"/>
<stop offset="0.800" stop-color="#00ff00"/>
<stop offset="0.867" stop-color="#00ff00"/>
<stop offset="0.933" stop-color="#00ff00"/>
<stop offset="1.000" stop-color="#00ff00"/>
</linearGradient>
<linearGradient id="g15" gradientUnits="userSpaceOnUse" x1="289.0" x2="366.5" y1="0" y2="0">
<stop offset="0.000" stop-color="#00ff59"/>
<stop offset="0.062" stop-color="#00ff54"/>
<stop offset="0.125" stop-color="#00ff4e"/>
<stop offset="0.188" stop-color="#00ff48"/>
<stop offset="0.250" stop-color="#00ff41"/>
<stop offset="0.312" stop-color="#00ff39"/>
<stop offset="0.375" stop-color="#00ff2f"/>
<stop offset="0.438" stop-color="#00ff21"/>
<stop offset="0.500" stop-color="#00ff06"/>
<stop offset="0.562" stop-color="#00ff00"/>
<stop offset="0.625" stop-color="#00ff00"/>
<stop offset="0.688" stop-color="#00ff00"/>
<stop offset="0.750" stop-color="#00ff00"/>
<stop offset="0.812" stop-color="#00ff00"/>
<stop offset="0.875" stop-color="#00ff00"/>
<stop offset="0.938" stop-color="#00ff00"/>
<stop offset="1.000" stop-color="#00ff00"/>
</linearGradient>
<linearGradient id="g16" gradientUnits="userSpaceOnUse" x1="288.5" x2="369.0" y1="0" y2="0">
<stop offset="0.000" stop-color="#00ff5c"/>
<stop offset="0.062" stop-color="#00ff58"/>
<stop offset="0.125" stop-color="#00ff52"/>
<stop offset="0.188" stop-color="#00ff4c"/>
<stop offset="0.250" stop-color="#00ff45"/>
<stop offset="0.312" stop-color="#00ff3d"/>
<stop offset="0.375" stop-color="#00ff34"/>
<stop offset="0.438" stop-color="#00ff27"/>
<stop offset="0.500" stop-color="#00ff12"/>
<stop offset="0.562" stop-color="#00ff00"/>
<stop offset="0.625" stop-color="#00ff00"/>
<stop offset="0.688" stop-color="#00ff00"/>
<stop offset="0.750" stop-color="#00ff00"/>
<stop offset="0.812" stop-color="#00ff00"/>
<stop offset="0.875" stop-color="#00ff00"/>
<stop offset="0.938" stop-color="#00ff00"/>
<stop offset="1.000" stop-color="#00ff00"/>
</linearGradient>
<linearGradient id="g17" gradientUnits="userSpaceOnUse" x1="288.0" x2="371.0" y1="0" y2="0">
<stop offset="0.000" stop-color="#00ff60"/>
<stop offset="0.059" stop-color="#00ff5b"/>
<stop offset="0.118" stop-color="#00ff56"/>
<stop offset="0.176" stop-color="#00ff51"/>
<stop offset="0.235" stop-color="#00ff4b"/>
<stop offset="0.294" stop-color="#00ff44"/>
<stop offset="0.353" stop-color="#00ff3c"/>
<stop offset="0.412" stop-color="#00ff32"/>
<stop offset="0.471" stop-color="#00ff25"/>
<stop offset="0.529" stop-color="#00ff0e"/>
<stop offset="0.588" stop-color="#00ff00"/>
<stop offset="0.647" stop-color="#00ff00"/>
<stop offset="0.706" stop-color="#00ff00"/>
<stop offset="0.765" stop-color="#00ff00"/>
<stop offset="0.824" stop-color="#00ff00"/>
<stop offset="0.882" stop-color="#00ff00"/>
<stop offset="0.941" stop-color="#00ff00"/>
<stop offset="1.000" stop-color="#00ff00"/>
</linearGradient>
<linearGradient id="g18" gradientUnits="userSpaceOnUse" x1="288.0" x2="373.5" y1="0" y2="0">
<stop offset="0.000" stop-color="#00ff63"/>
<stop offset="0.059" stop-color="#00ff5e"/>
<stop offset="0.118" stop-color="#00ff59"/>
<stop offset="0.176" stop-color="#00ff54"/>
<stop offset="0.235" stop-color="#00ff4e"/>
<stop offset="0.294" stop-color="#00ff47"/>
<stop offset="0.353" stop-color="#00ff3f"/>
<stop offset="0.412" stop-color="#00ff36"/>
<stop offset="0.471" stop-color="#00ff29"/>
<stop offset="0.529" stop-color="#00ff16"/>
<stop offset="0.588" stop-color="#00ff00"/>
<stop offset="0.647" stop-color="#00ff00"/>
<stop offset="0.706" stop-color="#00ff00"/>
<stop offset="0.765" stop-color="#00ff00"/>
<stop offset="0.824" stop-color="#00ff00"/>
<stop offset="0.882" stop-color="#00ff00"/>
<stop offset="0.941" stop-color="#00ff00"/>
<stop offset="1.000" stop-color="#00ff00"/>
</linearGradient>
<linearGradient id="g19" gradientUnits="userSpaceOnUse" x1="288.0" x2="375.5" y1="0" y2="0">
<stop offset="0.000" stop-color="#00ff66"/>
<stop offset="0.056" stop-color="#00ff61"/>
<stop offset="0.111" stop-color="#00ff5d"/>
<stop offset="0.167" stop-color="#00ff58"/>
<stop offset="0.222" stop-color="#00ff53"/>
<stop offset="0.278" stop-color="#00ff4c"/>
<stop offset="0.333" stop-color="#00ff45"/>
<stop offset="0.389" stop-color="#00ff3d"/>
<stop offset="0.444" stop-color="#00ff33"/>
<stop offset="0.500" stop-color="#00ff26"/>
<stop offset="0.556" stop-color="#00ff11"/>
<stop offset="0.611" stop-color="#00ff00"/>
<stop offset="0.667" stop-color="#00ff00"/>
<stop offset="0.722" stop-color="#00ff00"/>
<stop offset="0.778" stop-color="#00ff00"/>
<stop offset="0.833" stop-color="#00ff00"/>
<stop offset="0.889" stop-color="#00ff00"/>
<stop offset="0.944" stop-color="#00ff00"/>
<stop offset="1.000" stop-color="#00ff00"/>
</linearGradient>
<linearGradient id="g20" gradientUnits="userSpaceOnUse" x1="287.5" x2="377.5" y1="0" y2="0">
<stop offset="0.000" stop-color="#00ff69"/>
<stop offset="0.056" stop-color="#00ff65"/>
<stop offset="0.111" stop-color="#00ff60"/>
<stop offset="0.167" stop-color="#00ff5b"/>
<stop offset="0.222" stop-color="#00ff56"/>
<stop offset="0.278" stop-color="#00ff50"/>
<stop offset="0.333" stop-color="#00ff49"/>
<stop offset="0.389" stop-color="#00ff41"/>
<stop offset="0.444" stop-color="#00ff38"/>
<stop offset="0.500" stop-color="#00ff2c"/>
<stop offset="0.556" stop-color="#00ff1a"/>
<stop offset="0.611" stop-color="#00ff00"/>
<stop offset="0.667" stop-color="#00ff00"/>
<stop offset="0.722" stop-color="#00ff00"/>
<stop offset="0.778" stop-color="#00ff00"/>
<stop offset="0.833" stop-color="#00ff00"/>
<stop offset="0.889" stop-color="#00ff00"/>
<stop offset="0.944" stop-color="#00ff00"/>
<stop offset="1.000" stop-color="#00ff00"/>
</linearGradient>
<linearGradient id="g21" gradientUnits="userSpaceOnUse" x1="287.5" x2="380.0" y1="0" y2="0">
<stop offset="0.000" stop-color="#00ff6c"/>
<stop offset="0.056" stop-color="#00ff68"/>
<stop offset="0.111" stop-color="#00ff63"/>
<stop offset="0.167" stop-color="#00ff5e"/>
<stop offset="0.222" stop-color="#00ff59"/>
<stop offset="0.278" stop-color="#00ff53"/>
<stop offset="0.333" stop-color="#00ff4c"/>
<stop offset="0.389" stop-color="#00ff45"/>
<stop offset="0.444" stop-color="#00ff3b"/>
<stop offset="0.500" stop-color="#00ff30"/>
<stop offset="0.556" stop-color="#00ff20"/>
<stop offset="0.611" stop-color="#00ff00"/>
<stop offset="0.667" stop-color="#00ff00"/>
<stop offset="0.722" stop-color="#00ff00"/>
<stop offset="0.778" stop-color="#00ff00"/>
<stop offset="0.833" stop-color="#00ff00"/>
<stop offset="0.889" stop-color="#00ff00"/>
<stop offset="0.944" stop-color="#00ff00"/>
<stop offset="1.000" stop-color="#00ff00"/>
</linearGradient>
<linearGradient id="g22" gradientUnits="userSpaceOnUse" x1="287.5" x2="382.0" y1="0" y2="0">
<stop offset="0.000" stop-color="#00ff6e"/>
<stop offset="0.053" stop-color="#00ff6b"/>
<stop offset="0.105" stop-color="#00ff66"/>
<stop offset="0.158" stop-color="#00ff62"/>
<stop offset="0.211" stop-color="#00ff5d"/>
<stop offset="0.263" stop-color="#00ff58"/>
<stop offset="0.316" stop-color="#00ff52"/>
<stop offset="0.368" stop-color="#00ff4b"/>
<stop offset="0.421" stop-color="#00ff43"/>
<stop offset="0.474" stop-color="#00ff3a"/>
<stop offset="0.526" stop-color="#00ff2e"/>
<stop offset="0.579" stop-color="#00ff1c"/>
<stop offset="0.632" stop-color="#00ff00"/>
<stop offset="0.684" stop-color="#00ff00"/>
<stop offset="0.737" stop-color="#00ff00"/>
<stop offset="0.789" stop-color="#00ff00"/>
<stop offset="0.842" stop-color="#00ff00"/>
<stop offset="0.895" stop-color="#00ff00"/>
<stop offset="0.947" stop-color="#00ff00"/>
<stop offset="1.000" stop-color="#13ff00"/>
</linearGradient>
<linearGradient id="g23" gradientUnits="userSpaceOnUse" x1="287.5" x2="384.0" y1="0" y2="0">
<stop offset="0.000" stop-color="#00ff71"/>
<stop offset="0.053" stop-color="#00ff6d"/>
<stop offset="0.105" stop-color="#00ff69"/>
<stop offset="0.158" stop-color="#00ff65"/>
<stop offset="0.211" stop-color="#00ff60"/>
<stop offset="0.263" stop-color="#00ff5b"/>
<stop offset="0.316" stop-color="#00ff55"/>
<stop offset="0.368" stop-color="#00ff4e"/>
<stop offset="0.421" stop-color="#00ff46"/>
<stop offset="0.474" stop-color="#00ff3d"/>
<stop offset="0.526" stop-color="#00ff32"/>
<stop offset="0.579" stop-color="#00ff22"/>
<stop offset="0.632" stop-color="#00ff00"/>
<stop offset="0.684" stop-color="#00ff00"/>
<stop offset="0.737" stop-color="#00ff00"/>
<stop offset="0.789" stop-color="#00ff00"/>
<stop offset="0.842" stop-color="#00ff00"/>
<stop offset="0.895" stop-color="#00ff00"/>
<stop offset="0.947" stop-color="#00ff00"/>
<stop offset="1.000" stop-color="#3aff00"/>
</linearGradient>
<linearGradient id="g24" gradientUnits="userSpaceOnUse" x1="287.0" x2="386.5" y1="0" y2="0">
<stop offset="0.000" stop-color="#00ff74"/>
<stop offset="0.050" stop-color="#00ff71"/>
<stop offset="0.100" stop-color="#00ff6d"/>
<stop offset="0.150" stop-color="#00ff69"/>
<stop offset="0.200" stop-color="#00ff64"/>
<stop offset="0.250" stop-color="#00ff5f"/>
<stop offset="0.300" stop-color="#00ff5a"/>
<stop offset="0.350" stop-color="#00ff54"/>
<stop offset="0.400" stop-color="#00ff4d"/>
<stop offset="0.450" stop-color="#00ff45"/>
<stop offset="0.500" stop-color="#00ff3c"/>
<stop offset="0.550" stop-color="#00ff30"/>
<stop offset="0.600" stop-color="#00ff1f"/>
<stop offset="0.650" stop-color="#00ff00"/>
<stop offset="0.700" stop-color="#00ff00"/>
<stop offset="0.750" stop-color="#00ff00"/>
<stop offset="0.800" stop-color="#00ff00"/>
<stop offset="0.850" stop-color="#00ff00"/>
<stop offset="0.900" stop-color="#00ff00"/>
<stop offset="0.950" stop-color="#21ff00"/>
<stop offset="1.000" stop-color="#53ff00"/>
</linearGradient>
<linearGradient id="g25" gradientUnits="userSpaceOnUse" x1="287.0" x2="388.5" y1="0" y2="0">
<stop offset="0.000" stop-color="#00ff77"/>
<stop offset="0.050" stop-color="#00ff73"/>
<stop offset="0.100" stop-color="#00ff6f"/>
<stop offset="0.150" stop-color="#00ff6b"/>
<stop offset="0.200" stop-color="#00ff67"/>
<stop offset="0.250" stop-color="#00ff62"/>
<stop offset="0.300" stop-color="#00ff5d"/>
<stop offset="0.350" stop-color="#00ff57"/>
<stop offset="0.400" stop-color="#00ff50"/>
<stop offset="0.450" stop-color="#00ff49"/>
<stop offset="0.500" stop-color="#00ff40"/>
<stop offset="0.550" stop-color="#00ff34"/>
<stop offset="0.600" stop-color="#00ff25"/>
<stop offset="0.650" stop-color="#00ff05"/>
<stop offset="0.700" stop-color="#00ff00"/>
<stop offset="0.750" stop-color="#00ff00"/>
<stop offset="0.800" stop-color="#00ff00"/>
<stop offset="0.850" stop-color="#00ff00"/>
<stop offset="0.900" stop-color="#00ff00"/>
<stop offset="0.950" stop-color="#3fff00"/>
<stop offset="1.000" stop-color="#63ff00"/>
</linearGradient>
<linearGradient id="g26" gradientUnits="userSpaceOnUse" x1="287.0" x2="390.5" y1="0" y2="0">
<stop offset="0.000" stop-color="#00ff79"/>
<stop offset="0.048" stop-color="#00ff76"/>
<stop offset="0.095" stop-color="#00ff72"/>
<stop offset="0.143" stop-color="#00ff6f"/>
<stop offset="0.190" stop-color="#00ff6b"/>
<stop offset="0.238" stop-color="#00ff66"/>
<stop offset="0.286" stop-color="#00ff61"/>
<stop offset="0.333" stop-color="#00ff5c"/>
<stop offset="0.381" stop-color="#00ff56"/>
<stop offset="0.429" stop-color="#00ff4f"/>
<stop offset="0.476" stop-color="#00ff47"/>
<stop offset="0.524" stop-color="#00ff3e"/>
<stop offset="0.571" stop-color="#00ff33"/>
<stop offset="0.619" stop-color="#00ff23"/>
<stop offset="0.667" stop-color="#00ff00"/>
<stop offset="0.714" stop-color="#00ff00"/>
<stop offset="0.762" stop-color="#00ff00"/>
<stop offset="0.810" stop-color="#00ff00"/>
<stop offset="0.857" stop-color="#00ff00"/>
<stop offset="0.905" stop-color="#25ff00"/>
<stop offset="0.952" stop-color="#55ff00"/>
<stop offset="1.000" stop-color="#71ff00"/>
</linearGradient>
<linearGradient id="g27" gradientUnits="userSpaceOnUse" x1="287.0" x2="392.5" y1="0" y2="0">
<stop offset="0.000" stop-color="#00ff7c"/>
<stop offset="0.048" stop-color="#00ff79"/>
<stop offset="0.095" stop-color="#00ff75"/>
<stop offset="0.143" stop-color="#00ff71"/>
<stop offset="0.190" stop-color="#00ff6d"/>
<stop offset="0.238" stop-color="#00ff69"/>
<stop offset="0.286" stop-color="#00ff64"/>
<stop offset="0.333" stop-color="#00ff5f"/>
<stop offset="0.381" stop-color="#00ff59"/>
<stop offset="0.429" stop-color="#00ff52"/>
<stop offset="0.476" stop-color="#00ff4b"/>
<stop offset="0.524" stop-color="#00ff42"/>
<stop offset="0.571" stop-color="#00ff37"/>
<stop offset="0.619" stop-color="#00ff28"/>
<stop offset="0.667" stop-color="#00ff0d"/>
<stop offset="0.714" stop-color="#00ff00"/>
<stop offset="0.762" stop-color="#00ff00"/>
<stop offset="0.810" stop-color="#00ff00"/>
<stop offset="0.857" stop-color="#00ff00"/>
<stop offset="0.905" stop-color="#41ff00"/>
<stop offset="0.952" stop-color="#64ff00"/>
<stop offset="1.000" stop-color="#7dff00"/>
</linearGradient>
<linearGradient id="g28" gradientUnits="userSpaceOnUse" x1="287.0" x2="394.5" y1="0" y2="0">
<stop offset="0.000" stop-color="#00ff7f"/>
<stop offset="0.045" stop-color="#00ff7b"/>
<stop offset="0.091" stop-color="#00ff78"/>
<stop offset="0.136" stop-color="#00ff75"/>
<stop offset="0.182" stop-color="#00ff71"/>
<stop offset="0.227" stop-color="#00ff6d"/>
<stop offset="0.273" stop-color="#00ff68"/>
<stop offset="0.318" stop-color="#00ff63"/>
<stop offset="0.364" stop-color="#00ff5e"/>
<stop offset="0.409" stop-color="#00ff58"/>
<stop offset="0.455" stop-color="#00ff51"/>
<stop offset="0.500" stop-color="#00ff4a"/>
<stop offset="0.545" stop-color="#00ff41"/>
<stop offset="0.591" stop-color="#00ff36"/>
<stop offset="0.636" stop-color="#00ff26"/>
<stop offset="0.682" stop-color="#00ff08"/>
<stop offset="0.727" stop-color="#00ff00"/>
<stop offset="0.773" stop-color="#00ff00"/>
<stop offset="0.818" stop-color="#00ff00"/>
<stop offset="0.864" stop-color="#2aff00"/>
<stop offset="0.909" stop-color="#57ff00"/>
<stop offset="0.955" stop-color="#73ff00"/>
<stop offset="1.000" stop-color="#89ff00"/>
</linearGradient>
<linearGradient id="g29" gradientUnits="userSpaceOnUse" x1="287.0" x2="396.5" y1="0" y2="0">
<stop offset="0.000" stop-color="#00ff81"/>
<stop offset="0.045" stop-color="#00ff7e"/>
<stop offset="0.091" stop-color="#00ff7b"/>
<stop offset="0.136" stop-color="#00ff77"/>
<stop offset="0.182" stop-color="#00ff73"/>
<stop offset="0.227" stop-color="#00ff6f"/>
<stop offset="0.273" stop-color="#00ff6b"/>
<stop offset="0.318" stop-color="#00ff66"/>
<stop offset="0.364" stop-color="#00ff61"/>
<stop offset="0.409" stop-color="#00ff5b"/>
<stop offset="0.455" stop-color="#00ff55"/>
<stop offset="0.500" stop-color="#00ff4d"/>
<stop offset="0.545" stop-color="#00ff44"/>
<stop offset="0.591" stop-color="#00ff3a"/>
<stop offset="0.636" stop-color="#00ff2b"/>
<stop offset="0.682" stop-color="#00ff13"/>
<stop offset="0.727" stop-color="#00ff00"/>
<stop offset="0.773" stop-color="#00ff00"/>
<stop offset="0.818" stop-color="#00ff00"/>
<stop offset="0.864" stop-color="#44ff00"/>
<stop offset="0.909" stop-color="#67ff00"/>
<stop offset="0.955" stop-color="#80ff00"/>
<stop offset="1.000" stop-color="#94ff00"/>
</linearGradient>
<linearGradient id="g30" gradientUnits="userSpaceOnUse" x1="287.0" x2="398.5" y1="0" y2="0">
<stop offset="0.000" stop-color="#00ff84"/>
<stop offset="0.045" stop-color="#00ff81"/>
<stop offset="0.091" stop-color="#00ff7d"/>
<stop offset="0.136" stop-color="#00ff7a"/>
<stop offset="0.182" stop-color="#00ff76"/>
<stop offset="0.227" stop-color="#00ff72"/>
<stop offset="0.273" stop-color="#00ff6e"/>
<stop offset="0.318" stop-color="#00ff69"/>
<stop offset="0.364" stop-color="#00ff64"/>
<stop offset="0.409" stop-color="#00ff5e"/>
<stop offset="0.455" stop-color="#00ff58"/>
<stop offset="0.500" stop-color="#00ff50"/>
<stop offset="0.545" stop-color="#00ff48"/>
<stop offset="0.591" stop-color="#00ff3d"/>
<stop offset="0.636" stop-color="#00ff30"/>
<stop offset="0.682" stop-color="#00ff1b"/>
<stop offset="0.727" stop-color="#00ff00"/>
<stop offset="0.773" stop-color="#00ff00"/>
<stop offset="0.818" stop-color="#23ff00"/>
<stop offset="0.864" stop-color="#56ff00"/>
<stop offset="0.909" stop-color="#74ff00"/>
<stop offset="0.955" stop-color="#8bff00"/>
<stop offset="1.000" stop-color="#9fff00"/>
</linearGradient>
<linearGradient id="g31" gradientUnits="userSpaceOnUse" x1="287.0" x2="400.5" y1="0" y2="0">
<stop offset="0.000" stop-color="#00ff86"/>
<stop offset="0.043" stop-color="#00ff83"/>
<stop offset="0.087" stop-color="#00ff80"/>
<stop offset="0.130" stop-color="#00ff7d"/>
<stop offset="0.174" stop-color="#00ff7a"/>
<stop offset="0.217" stop-color="#00ff76"/>
<stop offset="0.261" stop-color="#00ff72"/>
<stop offset="0.304" stop-color="#00ff6d"/>
<stop offset="0.348" stop-color="#00ff69"/>
<stop offset="0.391" stop-color="#00ff63"/>
<stop offset="0.435" stop-color="#00ff5e"/>
<stop offset="0.478" stop-color="#00ff57"/>
<stop offset="0.522" stop-color="#00ff50"/>
<stop offset="0.565" stop-color="#00ff47"/>
<stop offset="0.609" stop-color="#00ff3c"/>
<stop offset="0.652" stop-color="#00ff2f"/>
<stop offset="0.696" stop-color="#00ff19"/>
<stop offset="0.739" stop-color="#00ff00"/>
<stop offset="0.783" stop-color="#00ff00"/>
<stop offset="0.826" stop-color="#48ff00"/>
<stop offset="0.870" stop-color="#69ff00"/>
<stop offset="0.913" stop-color="#82ff00"/>
<stop offset="0.957" stop-color="#97ff00"/>
<stop offset="1.000" stop-color="#a9ff00"/>
</linearGradient>
<linearGradient id="g32" gradientUnits="userSpaceOnUse" x1="287.0" x2="403.0" y1="0" y2="0">
<stop offset="0.000" stop-color="#00ff89"/>
<stop offset="0.043" stop-color="#00ff86"/>
<stop offset="0.087" stop-color="#00ff83"/>
<stop offset="0.130" stop-color="#00ff80"/>
<stop offset="0.174" stop-color="#00ff7c"/>
<stop offset="0.217" stop-color="#00ff78"/>
<stop offset="0.261" stop-color="#00ff74"/>
<stop offset="0.304" stop-color="#00ff70"/>
<stop offset="0.348" stop-color="#00ff6b"/>
<stop offset="0.391" stop-color="#00ff66"/>
<stop offset="0.435" stop-color="#00ff60"/>
<stop offset="0.478" stop-color="#00ff5a"/>
<stop offset="0.522" stop-color="#00ff52"/>
<stop offset="0.565" stop-color="#00ff4a"/>
<stop offset="0.609" stop-color="#00ff3f"/>
<stop offset="0.652" stop-color="#00ff32"/>
<stop offset="0.696" stop-color="#00ff1e"/>
<stop offset="0.739" stop-color="#00ff00"/>
<stop offset="0.783" stop-color="#2eff00"/>
<stop offset="0.826" stop-color="#5cff00"/>
<stop offset="0.870" stop-color="#78ff00"/>
<stop offset="0.913" stop-color="#8fff00"/>
<stop offset="0.957" stop-color="#a3ff00"/>
<stop offset="1.000" stop-color="#b5ff00"/>
</linearGradient>
<linearGradient id="g33" gradientUnits="userSpaceOnUse" x1="287.0" x2="405.0" y1="0" y2="0">
<stop offset="0.000" stop-color="#00ff8b"/>
<stop offset="0.042" stop-color="#00ff89"/>
<stop offset="0.083" stop-color="#00ff86"/>
<stop offset="0.125" stop-color="#00ff83"/>
<stop offset="0.167" stop-color="#00ff7f"/>
<stop offset="0.208" stop-color="#00ff7c"/>
<stop offset="0.250" stop-color="#00ff78"/>
<stop offset="0.292" stop-color="#00ff74"/>
<stop offset="0.333" stop-color="#00ff70"/>
<stop offset="0.375" stop-color="#00ff6b"/>
<stop offset="0.417" stop-color="#00ff66"/>
<stop offset="0.458" stop-color="#00ff60"/>
<stop offset="0.500" stop-color="#00ff59"/>
<stop offset="0.542" stop-color="#00ff52"/>
<stop offset="0.583" stop-color="#00ff49"/>
<stop offset="0.625" stop-color="#00ff3f"/>
<stop offset="0.667" stop-color="#00ff31"/>
<stop offset="0.708" stop-color="#00ff1c"/>
<stop offset="0.750" stop-color="#02ff00"/>
<stop offset="0.792" stop-color="#4fff00"/>
<stop offset="0.833" stop-color="#6fff00"/>
<stop offset="0.875" stop-color="#87ff00"/>
<stop offset="0.917" stop-color="#9bff00"/>
<stop offset="0.958" stop-color="#aeff00"/>
<stop offset="1.000" stop-color="#beff00"/>
</linearGradient>
<linearGradient id="g34" gradientUnits="userSpaceOnUse" x1="287.0" x2="407.0" y1="0" y2="0">
<stop offset="0.000" stop-color="#00ff8e"/>
<stop offset="0.042" stop-color="#00ff8b"/>
<stop offset="0.083" stop-color="#00ff88"/>
<stop offset="0.125" stop-color="#00ff85"/>
<stop offset="0.167" stop-color="#00ff82"/>
<stop offset="0.208" stop-color="#00ff7f"/>
<stop offset="0.250" stop-color="#00ff7b"/>
<stop offset="0.292" stop-color="#00ff77"/>
<stop offset="0.333" stop-color="#00ff72"/>
<stop offset="0.375" stop-color="#00ff6e"/>
<stop offset="0.417" stop-color="#00ff69"/>
<stop offset="0.458" stop-color="#00ff63"/>
<stop offset="0.500" stop-color="#00ff5c"/>
<stop offset="0.542" stop-color="#00ff55"/>
<stop offset="0.583" stop-color="#00ff4d"/>
<stop offset="0.625" stop-color="#00ff42"/>
<stop offset="0.667" stop-color="#00ff35"/>
<stop offset="0.708" stop-color="#00ff22"/>
<stop offset="0.750" stop-color="#33ff00"/>
<stop offset="0.792" stop-color="#5fff00"/>
<stop offset="0.833" stop-color="#7bff00"/>
<stop offset="0.875" stop-color="#92ff00"/>
<stop offset="0.917" stop-color="#a5ff00"/>
<stop offset="0.958" stop-color="#b7ff00"/>
<stop offset="1.000" stop-color="#c8ff00"/>
</linearGradient>
<linearGradient id="g35" gradientUnits="userSpaceOnUse" x1="287.5" x2="409.0" y1="0" y2="0">
<stop offset="0.000" stop-color="#00ff90"/>
<stop offset="0.042" stop-color="#00ff8e"/>
<stop offset="0.083" stop-color="#00ff8b"/>
<stop offset="0.125" stop-color="#00ff88"/>
<stop offset="0.167" stop-color="#00ff84"/>
<stop offset="0.208" stop-color="#00ff81"/>
<stop offset="0.250" stop-color="#00ff7d"/>
<stop offset="0.292" stop-color="#00ff79"/>
<stop offset="0.333" stop-color="#00ff75"/>
<stop offset="0.375" stop-color="#00ff70"/>
<stop offset="0.417" stop-color="#00ff6b"/>
<stop offset="0.458" stop-color="#00ff65"/>
<stop offset="0.500" stop-color="#00ff5f"/>
<stop offset="0.542" stop-color="#00ff58"/>
<stop offset="0.583" stop-color="#00ff50"/>
<stop offset="0.625" stop-color="#00ff46"/>
<stop offset="0.667" stop-color="#00ff39"/>
<stop offset="0.708" stop-color="#00ff27"/>
<stop offset="0.750" stop-color="#4aff00"/>
<stop offset="0.792" stop-color="#6dff00"/>
<stop offset="0.833" stop-color="#87ff00"/>
<stop offset="0.875" stop-color="#9cff00"/>
<stop offset="0.917" stop-color="#afff00"/>
<stop offset="0.958" stop-color="#c1ff00"/>
<stop offset="1.000" stop-color="#d1ff00"/>
</linearGradient>
<linearGradient id="g36" gradientUnits="userSpaceOnUse" x1="287.5" x2="411.0" y1="0" y2="0">
<stop offset="0.000" stop-color="#00ff93"/>
<stop offset="0.040" stop-color="#00ff90"/>
<stop offset="0.080" stop-color="#00ff8e"/>
<stop offset="0.120" stop-color="#00ff8b"/>
<stop offset="0.160" stop-color="#00ff88"/>
<stop offset="0.200" stop-color="#00ff84"/>
<stop offset="0.240" stop-color="#00ff81"/>
<stop offset="0.280" stop-color="#00ff7d"/>
<stop offset="0.320" stop-color="#00ff79"/>
<stop offset="0.360" stop-color="#00ff75"/>
<stop offset="0.400" stop-color="#00ff70"/>
<stop offset="0.440" stop-color="#00ff6b"/>
<stop offset="0.480" stop-color="#00ff65"/>
<stop offset="0.520" stop-color="#00ff5f"/>
<stop offset="0.560" stop-color="#00ff58"/>
<stop offset="0.600" stop-color="#00ff4f"/>
<stop offset="0.640" stop-color="#00ff45"/>
<stop offset="0.680" stop-color="#00ff38"/>
<stop offset="0.720" stop-color="#3aff26"/>
<stop offset="0.760" stop-color="#63ff00"/>
<stop offset="0.800" stop-color="#7fff00"/>
<stop offset="0.840" stop-color="#95ff00"/>
<stop offset="0.880" stop-color="#a9ff00"/>
<stop offset="0.920" stop-color="#bbff00"/>
<stop offset="0.960" stop-color="#cbff00"/>
<stop offset="1.000" stop-color="#dbff00"/>
</linearGradient>
<linearGradient id="g37" gradientUnits="userSpaceOnUse" x1="287.5" x2="413.0" y1="0" y2="0">
<stop offset="0.000" stop-color="#00ff95"/>
<stop offset="0.040" stop-color="#00ff93"/>
<stop offset="0.080" stop-color="#00ff90"/>
<stop offset="0.120" stop-color="#00ff8d"/>
<stop offset="0.160" stop-color="#00ff8a"/>
<stop offset="0.200" stop-color="#00ff87"/>
<stop offset="0.240" stop-color="#00ff84"/>
<stop offset="0.280" stop-color="#00ff80"/>
<stop offset="0.320" stop-color="#00ff7c"/>
<stop offset="0.360" stop-color="#00ff78"/>
<stop offset="0.400" stop-color="#00ff73"/>
<stop offset="0.440" stop-color="#00ff6e"/>
<stop offset="0.480" stop-color="#00ff68"/>
<stop offset="0.520" stop-color="#00ff62"/>
<stop offset="0.560" stop-color="#00ff5b"/>
<stop offset="0.600" stop-color="#00ff53"/>
<stop offset="0.640" stop-color="#00ff49"/>
<stop offset="0.680" stop-color="#00ff3d"/>
<stop offset="0.720" stop-color="#4eff2c"/>
<stop offset="0.760" stop-color="#70ff09"/>
<stop offset="0.800" stop-color="#8aff00"/>
<stop offset="0.840" stop-color="#9fff00"/>
<stop offset="0.880" stop-color="#b2ff00"/>
<stop offset="0.920" stop-color="#c4ff00"/>
<stop offset="0.960" stop-color="#d4ff00"/>
<stop offset="1.000" stop-color="#e4ff00"/>
</linearGradient>
<linearGradient id="g38" gradientUnits="userSpaceOnUse" x1="287.5" x2="415.0" y1="0" y2="0">
<stop offset="0.000" stop-color="#00ff98"/>
<stop offset="0.038" stop-color="#00ff96"/>
<stop offset="0.077" stop-color="#00ff93"/>
<stop offset="0.115" stop-color="#00ff90"/>
<stop offset="0.154" stop-color="#00ff8d"/>
<stop offset="0.192" stop-color="#00ff8a"/>
<stop offset="0.231" stop-color="#00ff87"/>
<stop offset="0.269" stop-color="#00ff84"/>
<stop offset="0.308" stop-color="#00ff80"/>
<stop offset="0.346" stop-color="#00ff7c"/>
<stop offset="0.385" stop-color="#00ff78"/>
<stop offset="0.423" stop-color="#00ff73"/>
<stop offset="0.462" stop-color="#00ff6e"/>
<stop offset="0.500" stop-color="#00ff68"/>
<stop offset="0.538" stop-color="#00ff62"/>
<stop offset="0.577" stop-color="#00ff5b"/>
<stop offset="0.615" stop-color="#00ff52"/>
<stop offset="0.654" stop-color="#00ff49"/>
<stop offset="0.692" stop-color="#40ff3c"/>
<stop offset="0.731" stop-color="#67ff2b"/>
<stop offset="0.769" stop-color="#82ff06"/>
<stop offset="0.808" stop-color="#98ff00"/>
<stop offset="0.846" stop-color="#acff00"/>
<stop offset="0.885" stop-color="#beff00"/>
<stop offset="0.923" stop-color="#cfff00"/>
<stop offset="0.962" stop-color="#dfff00"/>
<stop offset="1.000" stop-color="#eeff00"/>
</linearGradient>
<linearGradient id="g39" gradientUnits="userSpaceOnUse" x1="288.0" x2="417.0" y1="0" y2="0">
<stop offset="0.000" stop-color="#00ff9a"/>
<stop offset="0.038" stop-color="#00ff98"/>
<stop offset="0.077" stop-color="#00ff95"/>
<stop offset="0.115" stop-color="#00ff93"/>
<stop offset="0.154" stop-color="#00ff90"/>
<stop offset="0.192" stop-color="#00ff8d"/>
<stop offset="0.231" stop-color="#00ff8a"/>
<stop offset="0.269" stop-color="#00ff86"/>
<stop offset="0.308" stop-color="#00ff83"/>
<stop offset="0.346" stop-color="#00ff7f"/>
<stop offset="0.385" stop-color="#00ff7a"/>
<stop offset="0.423" stop-color="#00ff76"/>
<stop offset="0.462" stop-color="#00ff71"/>
<stop offset="0.500" stop-color="#00ff6b"/>
<stop offset="0.538" stop-color="#00ff65"/>
<stop offset="0.577" stop-color="#00ff5e"/>
<stop offset="0.615" stop-color="#00ff55"/>
<stop offset="0.654" stop-color="#0bff4c"/>
<stop offset="0.692" stop-color="#54ff40"/>
<stop offset="0.731" stop-color="#74ff2f"/>
<stop offset="0.769" stop-color="#8eff12"/>
<stop offset="0.808" stop-color="#a3ff00"/>
<stop offset="0.846" stop-color="#b6ff00"/>
<stop offset="0.885" stop-color="#c8ff00"/>
<stop offset="0.923" stop-color="#d8ff00"/>
<stop offset="0.962" stop-color="#e8ff00"/>
<stop offset="1.000" stop-color="#f7ff00"/>
</linearGradient>
<linearGradient id="g40" gradientUnits="userSpaceOnUse" x1="288.0" x2="419.0" y1="0" y2="0">
<stop offset="0.000" stop-color="#00ff9d"/>
<stop offset="0.038" stop-color="#00ff9a"/>
<stop offset="0.077" stop-color="#00ff98"/>
<stop offset="0.115" stop-color="#00ff95"/>
<stop offset="0.154" stop-color="#00ff93"/>
<stop offset="0.192" stop-color="#00ff90"/>
<stop offset="0.231" stop-color="#00ff8c"/>
<stop offset="0.269" stop-color="#00ff89"/>
<stop offset="0.308" stop-color="#00ff85"/>
<stop offset="0.346" stop-color="#00ff82"/>
<stop offset="0.385" stop-color="#00ff7d"/>
<stop offset="0.423" stop-color="#00ff79"/>
<stop offset="0.462" stop-color="#00ff74"/>
<stop offset="0.500" stop-color="#00ff6e"/>
<stop offset="0.538" stop-color="#00ff68"/>
<stop offset="0.577" stop-color="#00ff61"/>
<stop offset="0.615" stop-color="#00ff59"/>
<stop offset="0.654" stop-color="#35ff4f"/>
<stop offset="0.692" stop-color="#63ff44"/>
<stop offset="0.731" stop-color="#80ff34"/>
<stop offset="0.769" stop-color="#98ff1b"/>
<stop offset="0.808" stop-color="#adff00"/>
<stop offset="0.846" stop-color="#bfff00"/>
<stop offset="0.885" stop-color="#d1ff00"/>
<stop offset="0.923" stop-color="#e2ff00"/>
<stop offset="0.962" stop-color="#f2ff00"/>
<stop offset="1.000" stop-color="#fffd00"/>
</linearGradient>
<linearGradient id="g41" gradientUnits="userSpaceOnUse" x1="288.0" x2="421.0" y1="0" y2="0">
<stop offset="0.000" stop-color="#00ff9f"/>
<stop offset="0.037" stop-color="#00ff9d"/>
<stop offset="0.074" stop-color="#00ff9b"/>
<stop offset="0.111" stop-color="#00ff98"/>
<stop offset="0.148" stop-color="#00ff96"/>
<stop offset="0.185" stop-color="#00ff93"/>
<stop offset="0.222" stop-color="#00ff90"/>
<stop offset="0.259" stop-color="#00ff8d"/>
<stop offset="0.296" stop-color="#00ff89"/>
<stop offset="0.333" stop-color="#00ff86"/>
<stop offset="0.370" stop-color="#00ff82"/>
<stop offset="0.407" stop-color="#00ff7e"/>
<stop offset="0.444" stop-color="#00ff79"/>
<stop offset="0.481" stop-color="#00ff74"/>
<stop offset="0.519" stop-color="#00ff6e"/>
<stop offset="0.556" stop-color="#00ff68"/>
<stop offset="0.593" stop-color="#00ff61"/>
<stop offset="0.630" stop-color="#1cff59"/>
<stop offset="0.667" stop-color="#58ff4f"/>
<stop offset="0.704" stop-color="#78ff44"/>
<stop offset="0.741" stop-color="#91ff34"/>
<stop offset="0.778" stop-color="#a7ff1a"/>
<stop offset="0.815" stop-color="#baff00"/>
<stop offset="0.852" stop-color="#cbff00"/>
<stop offset="0.889" stop-color="#dcff00"/>
<stop offset="0.926" stop-color="#ecff00"/>
<stop offset="0.963" stop-color="#fcff00"/>
<stop offset="1.000" stop-color="#fff400"/>
</linearGradient>
<linearGradient id="g42" gradientUnits="userSpaceOnUse" x1="288.0" x2="423.0" y1="0" y2="0">
<stop offset="0.000" stop-color="#00ffa2"/>
<stop offset="0.037" stop-color="#00ffa0"/>
<stop offset="0.074" stop-color="#00ff9d"/>
<stop offset="0.111" stop-color="#00ff9b"/>
<stop offset="0.148" stop-color="#00ff98"/>
<stop offset="0.185" stop-color="#00ff96"/>
<stop offset="0.222" stop-color="#00ff93"/>
<stop offset="0.259" stop-color="#00ff90"/>
<stop offset="0.296" stop-color="#00ff8c"/>
<stop offset="0.333" stop-color="#00ff89"/>
<stop offset="0.370" stop-color="#00ff85"/>
<stop offset="0.407" stop-color="#00ff81"/>
<stop offset="0.444" stop-color="#00ff7c"/>
<stop offset="0.481" stop-color="#00ff77"/>
<stop offset="0.519" stop-color="#00ff71"/>
<stop offset="0.556" stop-color="#00ff6b"/>
<stop offset="0.593" stop-color="#00ff64"/>
<stop offset="0.630" stop-color="#3bff5c"/>
<stop offset="0.667" stop-color="#67ff53"/>
<stop offset="0.704" stop-color="#84ff48"/>
<stop offset="0.741" stop-color="#9cff39"/>
<stop offset="0.778" stop-color="#b0ff21"/>
<stop offset="0.815" stop-color="#c3ff00"/>
<stop offset="0.852" stop-color="#d5ff00"/>
<stop offset="0.889" stop-color="#e6ff00"/>
<stop offset="0.926" stop-color="#f6ff00"/>
<stop offset="0.963" stop-color="#fff900"/>
<stop offset="1.000" stop-color="#ffeb00"/>
</linearGradient>
<linearGradient id="g43" gradientUnits="userSpaceOnUse" x1="288.5" x2="425.0" y1="0" y2="0">
<stop offset="0.000" stop-color="#00ffa4"/>
<stop offset="0.037" stop-color="#00ffa2"/>
<stop offset="0.074" stop-color="#00ffa0"/>
<stop offset="0.111" stop-color="#00ff9d"/>
<stop offset="0.148" stop-color="#00ff9b"/>
<stop offset="0.185" stop-color="#00ff98"/>
<stop offset="0.222" stop-color="#00ff95"/>
<stop offset="0.259" stop-color="#00ff92"/>
<stop offset="0.296" stop-color="#00ff8f"/>
<stop offset="0.333" stop-color="#00ff8b"/>
<stop offset="0.370" stop-color="#00ff87"/>
<stop offset="0.407" stop-color="#00ff83"/>
<stop offset="0.444" stop-color="#00ff7f"/>
<stop offset="0.481" stop-color="#00ff7a"/>
<stop offset="0.519" stop-color="#00ff74"/>
<stop offset="0.556" stop-color="#00ff6e"/>
<stop offset="0.593" stop-color="#00ff67"/>
<stop offset="0.630" stop-color="#50ff5f"/>
<stop offset="0.667" stop-color="#74ff56"/>
<stop offset="0.704" stop-color="#8fff4b"/>
<stop offset="0.741" stop-color="#a6ff3d"/>
<stop offset="0.778" stop-color="#baff27"/>
<stop offset="0.815" stop-color="#cdff00"/>
<stop offset="0.852" stop-color="#deff00"/>
<stop offset="0.889" stop-color="#efff00"/>
<stop offset="0.926" stop-color="#ffff00"/>
<stop offset="0.963" stop-color="#fff000"/>
<stop offset="1.000" stop-color="#ffe200"/>
</linearGradient>
<linearGradient id="g44" gradientUnits="userSpaceOnUse" x1="288.5" x2="427.0" y1="0" y2="0">
<stop offset="0.000" stop-color="#00ffa7"/>
<stop offset="0.036" stop-color="#00ffa5"/>
<stop offset="0.071" stop-color="#00ffa3"/>
<stop offset="0.107" stop-color="#00ffa0"/>
<stop offset="0.143" stop-color="#00ff9e"/>
<stop offset="0.179" stop-color="#00ff9b"/>
<stop offset="0.214" stop-color="#00ff99"/>
<stop offset="0.250" stop-color="#00ff96"/>
<stop offset="0.286" stop-color="#00ff93"/>
<stop offset="0.321" stop-color="#00ff8f"/>
<stop offset="0.357" stop-color="#00ff8c"/>
<stop offset="0.393" stop-color="#00ff88"/>
<stop offset="0.429" stop-color="#00ff84"/>
<stop offset="0.464" stop-color="#00ff7f"/>
<stop offset="0.500" stop-color="#00ff7a"/>
<stop offset="0.536" stop-color="#00ff75"/>
<stop offset="0.571" stop-color="#00ff6f"/>
<stop offset="0.607" stop-color="#44ff68"/>
<stop offset="0.643" stop-color="#6cff60"/>
<stop offset="0.679" stop-color="#89ff57"/>
<stop offset="0.714" stop-color="#a0ff4b"/>
<stop offset="0.750" stop-color="#b5ff3d"/>
<stop offset="0.786" stop-color="#c8ff27"/>
<stop offset="0.821" stop-color="#d9ff00"/>
<stop offset="0.857" stop-color="#eaff00"/>
<stop offset="0.893" stop-color="#fbff00"/>
<stop offset="0.929" stop-color="#fff400"/>
<stop offset="0.964" stop-color="#ffe600"/>
<stop offset="1.000" stop-color="#ffda00"/>
</linearGradient>
<linearGradient id="g45" gradientUnits="userSpaceOnUse" x1="288.5" x2="429.0" y1="0" y2="0">
<stop offset="0.000" stop-color="#00ffaa"/>
<stop offset="0.036" stop-color="#00ffa8"/>
<stop offset="0.071" stop-color="#00ffa5"/>
<stop offset="0.107" stop-color="#00ffa3"/>
<stop offset="0.143" stop-color="#00ffa1"/>
<stop offset="0.179" stop-color="#00ff9e"/>
<stop offset="0.214" stop-color="#00ff9c"/>
<stop offset="0.250" stop-color="#00ff99"/>
<stop offset="0.286" stop-color="#00ff96"/>
<stop offset="0.321" stop-color="#00ff92"/>
<stop offset="0.357" stop-color="#00ff8f"/>
<stop offset="0.393" stop-color="#00ff8b"/>
<stop offset="0.429" stop-color="#00ff87"/>
<stop offset="0.464" stop-color="#00ff82"/>
<stop offset="0.500" stop-color="#00ff7d"/>
<stop offset="0.536" stop-color="#00ff78"/>
<stop offset="0.571" stop-color="#00ff72"/>
<stop offset="0.607" stop-color="#56ff6b"/>
<stop offset="0.643" stop-color="#79ff63"/>
<stop offset="0.679" stop-color="#93ff5a"/>
<stop offset="0.714" stop-color="#aaff4f"/>
<stop offset="0.750" stop-color="#beff41"/>
<stop offset="0.786" stop-color="#d1ff2d"/>
<stop offset="0.821" stop-color="#e3ff00"/>
<stop offset="0.857" stop-color="#f4ff00"/>
<stop offset="0.893" stop-color="#fffa00"/>
<stop offset="0.929" stop-color="#ffeb00"/>
<stop offset="0.964" stop-color="#ffde00"/>
<stop offset="1.000" stop-color="#ffd300"/>
</linearGradient>
<linearGradient id="g46" gradientUnits="userSpaceOnUse" x1="289.0" x2="431.0" y1="0" y2="0">
<stop offset="0.000" stop-color="#00ffac"/>
<stop offset="0.036" stop-color="#00ffaa"/>
<stop offset="0.071" stop-color="#00ffa8"/>
<stop offset="0.107" stop-color="#00ffa6"/>
<stop offset="0.143" stop-color="#00ffa3"/>
<stop offset="0.179" stop-color="#00ffa1"/>
<stop offset="0.214" stop-color="#00ff9e"/>
<stop offset="0.250" stop-color="#00ff9b"/>
<stop offset="0.286" stop-color="#00ff98"/>
<stop offset="0.321" stop-color="#00ff95"/>
<stop offset="0.357" stop-color="#00ff92"/>
<stop offset="0.393" stop-color="#00ff8e"/>
<stop offset="0.429" stop-color="#00ff8a"/>
<stop offset="0.464" stop-color="#00ff85"/>
<stop offset="0.500" stop-color="#00ff80"/>
<stop offset="0.536" stop-color="#00ff7b"/>
<stop offset="0.571" stop-color="#34ff75"/>
<stop offset="0.607" stop-color="#66ff6e"/>
<stop offset="0.643" stop-color="#85ff67"/>
<stop offset="0.679" stop-color="#9eff5e"/>
<stop offset="0.714" stop-color="#b4ff53"/>
<stop offset="0.750" stop-color="#c8ff45"/>
<stop offset="0.786" stop-color="#dbff32"/>
<stop offset="0.821" stop-color="#ecff07"/>
<stop offset="0.857" stop-color="#feff00"/>
<stop offset="0.893" stop-color="#fff100"/>
<stop offset="0.929" stop-color="#ffe300"/>
<stop offset="0.964" stop-color="#ffd600"/>
<stop offset="1.000" stop-color="#ffcb00"/>
</linearGradient>
<linearGradient id="g47" gradientUnits="userSpaceOnUse" x1="289.0" x2="433.0" y1="0" y2="0">
<stop offset="0.000" stop-color="#00ffaf"/>
<stop offset="0.034" stop-color="#00ffad"/>
<stop offset="0.069" stop-color="#00ffab"/>
<stop offset="0.103" stop-color="#00ffa9"/>
<stop offset="0.138" stop-color="#00ffa7"/>
<stop offset="0.172" stop-color="#00ffa4"/>
<stop offset="0.207" stop-color="#00ffa2"/>
<stop offset="0.241" stop-color="#00ff9f"/>
<stop offset="0.276" stop-color="#00ff9c"/>
<stop offset="0.310" stop-color="#00ff99"/>
<stop offset="0.345" stop-color="#00ff96"/>
<stop offset="0.379" stop-color="#00ff92"/>
<stop offset="0.414" stop-color="#00ff8f"/>
<stop offset="0.448" stop-color="#00ff8b"/>
<stop offset="0.483" stop-color="#00ff86"/>
<stop offset="0.517" stop-color="#00ff81"/>
<stop offset="0.552" stop-color="#1fff7c"/>
<stop offset="0.586" stop-color="#5dff76"/>
<stop offset="0.621" stop-color="#7eff6f"/>
<stop offset="0.655" stop-color="#98ff67"/>
<stop offset="0.690" stop-color="#afff5e"/>
<stop offset="0.724" stop-color="#c3ff53"/>
<stop offset="0.759" stop-color="#d6ff46"/>
<stop offset="0.793" stop-color="#e8ff32"/>
<stop offset="0.828" stop-color="#f9ff07"/>
<stop offset="0.862" stop-color="#fff500"/>
<stop offset="0.897" stop-color="#ffe600"/>
<stop offset="0.931" stop-color="#ffda00"/>
<stop offset="0.966" stop-color="#ffce00"/>
<stop offset="1.000" stop-color="#ffc400"/>
</linearGradient>
<linearGradient id="g48" gradientUnits="userSpaceOnUse" x1="289.5" x2="435.0" y1="0" y2="0">
<stop offset="0.000" stop-color="#00ffb1"/>
<stop offset="0.034" stop-color="#00ffaf"/>
<stop offset="0.069" stop-color="#00ffad"/>
<stop offset="0.103" stop-color="#00ffab"/>
<stop offset="0.138" stop-color="#00ffa9"/>
<stop offset="0.172" stop-color="#00ffa7"/>
<stop offset="0.207" stop-color="#00ffa4"/>
<stop offset="0.241" stop-color="#00ffa2"/>
<stop offset="0.276" stop-color="#00ff9f"/>
<stop offset="0.310" stop-color="#00ff9c"/>
<stop offset="0.345" stop-color="#00ff99"/>
<stop offset="0.379" stop-color="#00ff95"/>
<stop offset="0.414" stop-color="#00ff92"/>
<stop offset="0.448" stop-color="#00ff8e"/>
<stop offset="0.483" stop-color="#00ff89"/>
<stop offset="0.517" stop-color="#00ff84"/>
<stop offset="0.552" stop-color="#3fff7f"/>
<stop offset="0.586" stop-color="#6cff79"/>
<stop offset="0.621" stop-color="#8aff72"/>
<stop offset="0.655" stop-color="#a3ff6b"/>
<stop offset="0.690" stop-color="#b9ff62"/>
<stop offset="0.724" stop-color="#cdff57"/>
<stop offset="0.759" stop-color="#e0ff4a"/>
<stop offset="0.793" stop-color="#f2ff37"/>
<stop offset="0.828" stop-color="#fffb14"/>
<stop offset="0.862" stop-color="#ffec00"/>
<stop offset="0.897" stop-color="#ffde00"/>
<stop offset="0.931" stop-color="#ffd200"/>
<stop offset="0.966" stop-color="#ffc700"/>
<stop offset="1.000" stop-color="#ffbd00"/>
</linearGradient>
<linearGradient id="g49" gradientUnits="userSpaceOnUse" x1="289.5" x2="437.0" y1="0" y2="0">
<stop offset="0.000" stop-color="#00ffb4"/>
<stop offset="0.033" stop-color="#00ffb2"/>
<stop offset="0.067" stop-color="#00ffb0"/>
<stop offset="0.100" stop-color="#00ffae"/>
<stop offset="0.133" stop-color="#00ffac"/>
<stop offset="0.167" stop-color="#00ffaa"/>
<stop offset="0.200" stop-color="#00ffa8"/>
<stop offset="0.233" stop-color="#00ffa5"/>
<stop offset="0.267" stop-color="#00ffa3"/>
<stop offset="0.300" stop-color="#00ffa0"/>
<stop offset="0.333" stop-color="#00ff9d"/>
<stop offset="0.367" stop-color="#00ff9a"/>
<stop offset="0.400" stop-color="#00ff96"/>
<stop offset="0.433" stop-color="#00ff93"/>
<stop offset="0.467" stop-color="#00ff8f"/>
<stop offset="0.500" stop-color="#00ff8a"/>
<stop offset="0.533" stop-color="#30ff85"/>
<stop offset="0.567" stop-color="#64ff80"/>
<stop offset="0.600" stop-color="#84ff7a"/>
<stop offset="0.633" stop-color="#9eff73"/>
<stop offset="0.667" stop-color="#b4ff6c"/>
<stop offset="0.700" stop-color="#c9ff63"/>
<stop offset="0.733" stop-color="#dcff58"/>
<stop offset="0.767" stop-color="#eeff4a"/>
<stop offset="0.800" stop-color="#ffff38"/>
<stop offset="0.833" stop-color="#ffef13"/>
<stop offset="0.867" stop-color="#ffe100"/>
<stop offset="0.900" stop-color="#ffd500"/>
<stop offset="0.933" stop-color="#ffca00"/>
<stop offset="0.967" stop-color="#ffbf00"/>
<stop offset="1.000" stop-color="#ffb600"/>
</linearGradient>
<linearGradient id="g50" gradientUnits="userSpaceOnUse" x1="290.0" x2="439.0" y1="0" y2="0">
<stop offset="0.000" stop-color="#00ffb7"/>
<stop offset="0.033" stop-color="#00ffb5"/>
<stop offset="0.067" stop-color="#00ffb3"/>
<stop offset="0.100" stop-color="#00ffb1"/>
<stop offset="0.133" stop-color="#00ffaf"/>
<stop offset="0.167" stop-color="#00ffad"/>
<stop offset="0.200" stop-color="#00ffab"/>
<stop offset="0.233" stop-color="#00ffa8"/>
<stop offset="0.267" stop-color="#00ffa6"/>
<stop offset="0.300" stop-color="#00ffa3"/>
<stop offset="0.333" stop-color="#00ffa0"/>
<stop offset="0.367" stop-color="#00ff9d"/>
<stop offset="0.400" stop-color="#00ff99"/>
<stop offset="0.433" stop-color="#00ff96"/>
<stop offset="0.467" stop-color="#00ff92"/>
<stop offset="0.500" stop-color="#00ff8d"/>
<stop offset="0.533" stop-color="#49ff89"/>
<stop offset="0.567" stop-color="#73ff83"/>
<stop offset="0.600" stop-color="#90ff7d"/>
<stop offset="0.633" stop-color="#a9ff77"/>
<stop offset="0.667" stop-color="#bfff6f"/>
<stop offset="0.700" stop-color="#d3ff66"/>
<stop offset="0.733" stop-color="#e5ff5c"/>
<stop offset="0.767" stop-color="#f8ff4f"/>
<stop offset="0.800" stop-color="#fff53a"/>
<stop offset="0.833" stop-color="#ffe61a"/>
<stop offset="0.867" stop-color="#ffd900"/>
<stop offset="0.900" stop-color="#ffcd00"/>
<stop offset="0.933" stop-color="#ffc200"/>
<stop offset="0.967" stop-color="#ffb800"/>
<stop offset="1.000" stop-color="#ffaf00"/>
</linearGradient>
<linearGradient id="g51" gradientUnits="userSpaceOnUse" x1="290.0" x2="441.0" y1="0" y2="0">
<stop offset="0.000" stop-color="#00ffb9"/>
<stop offset="0.033" stop-color="#00ffb8"/>
<stop offset="0.067" stop-color="#00ffb6"/>
<stop offset="0.100" stop-color="#00ffb4"/>
<stop offset="0.133" stop-color="#00ffb2"/>
<stop offset="0.167" stop-color="#00ffb0"/>
<stop offset="0.200" stop-color="#00ffae"/>
<stop offset="0.233" stop-color="#00ffab"/>
<stop offset="0.267" stop-color="#00ffa9"/>
<stop offset="0.300" stop-color="#00ffa6"/>
<stop offset="0.333" stop-color="#00ffa3"/>
<stop offset="0.367" stop-color="#00ffa0"/>
<stop offset="0.400" stop-color="#00ff9d"/>
<stop offset="0.433" stop-color="#00ff99"/>
<stop offset="0.467" stop-color="#00ff95"/>
<stop offset="0.500" stop-color="#00ff91"/>
<stop offset="0.533" stop-color="#5aff8c"/>
<stop offset="0.567" stop-color="#7fff87"/>
<stop offset="0.600" stop-color="#9bff81"/>
<stop offset="0.633" stop-color="#b3ff7a"/>
<stop offset="0.667" stop-color="#c8ff73"/>
<stop offset="0.700" stop-color="#dcff6a"/>
<stop offset="0.733" stop-color="#efff60"/>
<stop offset="0.767" stop-color="#fffd52"/>
<stop offset="0.800" stop-color="#ffec3c"/>
<stop offset="0.833" stop-color="#ffde20"/>
<stop offset="0.867" stop-color="#ffd100"/>
<stop offset="0.900" stop-color="#ffc600"/>
<stop offset="0.933" stop-color="#ffbb00"/>
<stop offset="0.967" stop-color="#ffb200"/>
<stop offset="1.000" stop-color="#ffa900"/>
</linearGradient>
<linearGradient id="g52" gradientUnits="userSpaceOnUse" x1="290.5" x2="443.0" y1="0" y2="0">
<stop offset="0.000" stop-color="#00ffbc"/>
<stop offset="0.033" stop-color="#00ffba"/>
<stop offset="0.067" stop-color="#00ffb8"/>
<stop offset="0.100" stop-color="#00ffb7"/>
<stop offset="0.133" stop-color="#00ffb5"/>
<stop offset="0.167" stop-color="#00ffb3"/>
<stop offset="0.200" stop-color="#00ffb0"/>
<stop offset="0.233" stop-color="#00ffae"/>
<stop offset="0.267" stop-color="#00ffac"/>
<stop offset="0.300" stop-color="#00ffa9"/>
<stop offset="0.333" stop-color="#00ffa6"/>
<stop offset="0.367" stop-color="#00ffa3"/>
<stop offset="0.400" stop-color="#00ffa0"/>
<stop offset="0.433" stop-color="#00ff9c"/>
<stop offset="0.467" stop-color="#00ff98"/>
<stop offset="0.500" stop-color="#35ff94"/>
<stop offset="0.533" stop-color="#6aff8f"/>
<stop offset="0.567" stop-color="#8bff8a"/>
<stop offset="0.600" stop-color="#a6ff85"/>
<stop offset="0.633" stop-color="#bdff7e"/>
<stop offset="0.667" stop-color="#d2ff77"/>
<stop offset="0.700" stop-color="#e6ff6e"/>
<stop offset="0.733" stop-color="#f9ff64"/>
<stop offset="0.767" stop-color="#fff353"/>
<stop offset="0.800" stop-color="#ffe33e"/>
<stop offset="0.833" stop-color="#ffd624"/>
<stop offset="0.867" stop-color="#ffc900"/>
<stop offset="0.900" stop-color="#ffbe00"/>
<stop offset="0.933" stop-color="#ffb400"/>
<stop offset="0.967" stop-color="#ffab00"/>
<stop offset="1.000" stop-color="#ffa300"/>
</linearGradient>
<linearGradient id="g53" gradientUnits="userSpaceOnUse" x1="290.5" x2="445.0" y1="0" y2="0">
<stop offset="0.000" stop-color="#00ffbf"/>
<stop offset="0.032" stop-color="#00ffbd"/>
<stop offset="0.065" stop-color="#00ffbb"/>
<stop offset="0.097" stop-color="#00ffba"/>
<stop offset="0.129" stop-color="#00ffb8"/>
<stop offset="0.161" stop-color="#00ffb6"/>
<stop offset="0.194" stop-color="#00ffb4"/>
<stop offset="0.226" stop-color="#00ffb2"/>
<stop offset="0.258" stop-color="#00ffaf"/>
<stop offset="0.290" stop-color="#00ffad"/>
<stop offset="0.323" stop-color="#00ffaa"/>
<stop offset="0.355" stop-color="#00ffa8"/>
<stop offset="0.387" stop-color="#00ffa4"/>
<stop offset="0.419" stop-color="#00ffa1"/>
<stop offset="0.452" stop-color="#00ff9e"/>
<stop offset="0.484" stop-color="#23ff9a"/>
<stop offset="0.516" stop-color="#63ff96"/>
<stop offset="0.548" stop-color="#85ff91"/>
<stop offset="0.581" stop-color="#a1ff8c"/>
<stop offset="0.613" stop-color="#b9ff86"/>
<stop offset="0.645" stop-color="#ceff80"/>
<stop offset="0.677" stop-color="#e2ff78"/>
<stop offset="0.710" stop-color="#f5ff6f"/>
<stop offset="0.742" stop-color="#fff662"/>
<stop offset="0.774" stop-color="#ffe64f"/>
<stop offset="0.806" stop-color="#ffd83b"/>
<stop offset="0.839" stop-color="#ffcc23"/>
<stop offset="0.871" stop-color="#ffc100"/>
<stop offset="0.903" stop-color="#ffb700"/>
<stop offset="0.935" stop-color="#ffad00"/>
<stop offset="0.968" stop-color="#ffa400"/>
<stop offset="1.000" stop-color="#ff9c00"/>
</linearGradient>
<linearGradient id="g54" gradientUnits="userSpaceOnUse" x1="291.0" x2="447.0" y1="0" y2="0">
<stop offset="0.000" stop-color="#00ffc1"/>
<stop offset="0.032" stop-color="#00ffc0"/>
<stop offset="0.065" stop-color="#00ffbe"/>
<stop offset="0.097" stop-color="#00ffbd"/>
<stop offset="0.129" stop-color="#00ffbb"/>
<stop offset="0.161" stop-color="#00ffb9"/>
<stop offset="0.194" stop-color="#00ffb7"/>
<stop offset="0.226" stop-color="#00ffb5"/>
<stop offset="0.258" stop-color="#00ffb3"/>
<stop offset="0.290" stop-color="#00ffb0"/>
<stop offset="0.323" stop-color="#00ffae"/>
<stop offset="0.355" stop-color="#00ffab"/>
<stop offset="0.387" stop-color="#00ffa8"/>
<stop offset="0.419" stop-color="#00ffa5"/>
<stop offset="0.452" stop-color="#00ffa1"/>
<stop offset="0.484" stop-color="#43ff9d"/>
<stop offset="0.516" stop-color="#72ff99"/>
<stop offset="0.548" stop-color="#92ff94"/>
<stop offset="0.581" stop-color="#acff8f"/>
<stop offset="0.613" stop-color="#c3ff8a"/>
<stop offset="0.645" stop-color="#d8ff83"/>
<stop offset="0.677" stop-color="#ecff7c"/>
<stop offset="0.710" stop-color="#fffe73"/>
<stop offset="0.742" stop-color="#ffed61"/>
<stop offset="0.774" stop-color="#ffde50"/>
<stop offset="0.806" stop-color="#ffd03d"/>
<stop offset="0.839" stop-color="#ffc426"/>
<stop offset="0.871" stop-color="#ffba00"/>
<stop offset="0.903" stop-color="#ffb000"/>
<stop offset="0.935" stop-color="#ffa700"/>
<stop offset="0.968" stop-color="#ff9e00"/>
<stop offset="1.000" stop-color="#ff9600"/>
</linearGradient>
<linearGradient id="g55" gradientUnits="userSpaceOnUse" x1="291.0" x2="449.0" y1="0" y2="0">
<stop offset="0.000" stop-color="#00ffc4"/>
<stop offset="0.031" stop-color="#00ffc3"/>
<stop offset="0.062" stop-color="#00ffc1"/>
<stop offset="0.094" stop-color="#00ffc0"/>
<stop offset="0.125" stop-color="#00ffbe"/>
<stop offset="0.156" stop-color="#00ffbc"/>
<stop offset="0.188" stop-color="#00ffba"/>
<stop offset="0.219" stop-color="#00ffb8"/>
<stop offset="0.250" stop-color="#00ffb6"/>
<stop offset="0.281" stop-color="#00ffb4"/>
<stop offset="0.312" stop-color="#00ffb2"/>
<stop offset="0.344" stop-color="#00ffaf"/>
<stop offset="0.375" stop-color="#00ffac"/>
<stop offset="0.406" stop-color="#00ffa9"/>
<stop offset="0.438" stop-color="#00ffa6"/>
<stop offset="0.469" stop-color="#36ffa3"/>
<stop offset="0.500" stop-color="#6bff9f"/>
<stop offset="0.531" stop-color="#8dff9b"/>
<stop offset="0.562" stop-color="#a8ff96"/>
<stop offset="0.594" stop-color="#bfff91"/>
<stop offset="0.625" stop-color="#d5ff8c"/>
<stop offset="0.656" stop-color="#e9ff85"/>
<stop offset="0.688" stop-color="#fcff7e"/>
<stop offset="0.719" stop-color="#fff06e"/>
<stop offset="0.750" stop-color="#ffe05d"/>
<stop offset="0.781" stop-color="#ffd34d"/>
<stop offset="0.812" stop-color="#ffc73b"/>
<stop offset="0.844" stop-color="#ffbc25"/>
<stop offset="0.875" stop-color="#ffb200"/>
<stop offset="0.906" stop-color="#ffa800"/>
<stop offset="0.938" stop-color="#ffa000"/>
<stop offset="0.969" stop-color="#ff9800"/>
<stop offset="1.000" stop-color="#ff9000"/>
</linearGradient>
<linearGradient id="g56" gradientUnits="userSpaceOnUse" x1="291.5" x2="451.0" y1="0" y2="0">
<stop offset="0.000" stop-color="#00ffc7"/>
<stop offset="0.031" stop-color="#00ffc6"/>
<stop offset="0.062" stop-color="#00ffc4"/>
<stop offset="0.094" stop-color="#00ffc3"/>
<stop offset="0.125" stop-color="#00ffc1"/>
<stop offset="0.156" stop-color="#00ffbf"/>
<stop offset="0.188" stop-color="#00ffbd"/>
<stop offset="0.219" stop-color="#00ffbc"/>
<stop offset="0.250" stop-color="#00ffba"/>
<stop offset="0.281" stop-color="#00ffb7"/>
<stop offset="0.312" stop-color="#00ffb5"/>
<stop offset="0.344" stop-color="#00ffb3"/>
<stop offset="0.375" stop-color="#00ffb0"/>
<stop offset="0.406" stop-color="#00ffad"/>
<stop offset="0.438" stop-color="#00ffaa"/>
<stop offset="0.469" stop-color="#4fffa6"/>
<stop offset="0.500" stop-color="#7affa3"/>
<stop offset="0.531" stop-color="#99ff9f"/>
<stop offset="0.562" stop-color="#b2ff9a"/>
<stop offset="0.594" stop-color="#caff95"/>
<stop offset="0.625" stop-color="#dfff90"/>
<stop offset="0.656" stop-color="#f3ff89"/>
<stop offset="0.688" stop-color="#fff77e"/>
<stop offset="0.719" stop-color="#ffe66d"/>
<stop offset="0.750" stop-color="#ffd85d"/>
<stop offset="0.781" stop-color="#ffcb4d"/>
<stop offset="0.812" stop-color="#ffbf3c"/>
<stop offset="0.844" stop-color="#ffb428"/>
<stop offset="0.875" stop-color="#ffab00"/>
<stop offset="0.906" stop-color="#ffa200"/>
<stop offset="0.938" stop-color="#ff9900"/>
<stop offset="0.969" stop-color="#ff9100"/>
<stop offset="1.000" stop-color="#ff8a00"/>
</linearGradient>
<linearGradient id="g57" gradientUnits="userSpaceOnUse" x1="291.5" x2="453.0" y1="0" y2="0">
<stop offset="0.000" stop-color="#00ffca"/>
<stop offset="0.031" stop-color="#00ffc9"/>
<stop offset="0.062" stop-color="#00ffc7"/>
<stop offset="0.094" stop-color="#00ffc6"/>
<stop offset="0.125" stop-color="#00ffc4"/>
<stop offset="0.156" stop-color="#00ffc2"/>
<stop offset="0.188" stop-color="#00ffc1"/>
<stop offset="0.219" stop-color="#00ffbf"/>
<stop offset="0.250" stop-color="#00ffbd"/>
<stop offset="0.281" stop-color="#00ffbb"/>
<stop offset="0.312" stop-color="#00ffb9"/>
<stop offset="0.344" stop-color="#00ffb6"/>
<stop offset="0.375" stop-color="#00ffb3"/>
<stop offset="0.406" stop-color="#00ffb1"/>
<stop offset="0.438" stop-color="#00ffae"/>
<stop offset="0.469" stop-color="#5fffaa"/>
<stop offset="0.500" stop-color="#85ffa7"/>
<stop offset="0.531" stop-color="#a3ffa3"/>
<stop offset="0.562" stop-color="#bcff9e"/>
<stop offset="0.594" stop-color="#d3ff99"/>
<stop offset="0.625" stop-color="#e9ff94"/>
<stop offset="0.656" stop-color="#fdff8e"/>
<stop offset="0.688" stop-color="#ffee7d"/>
<stop offset="0.719" stop-color="#ffde6d"/>
<stop offset="0.750" stop-color="#ffd05e"/>
<stop offset="0.781" stop-color="#ffc34e"/>
<stop offset="0.812" stop-color="#ffb83e"/>
<stop offset="0.844" stop-color="#ffae2a"/>
<stop offset="0.875" stop-color="#ffa409"/>
<stop offset="0.906" stop-color="#ff9b00"/>
<stop offset="0.938" stop-color="#ff9300"/>
<stop offset="0.969" stop-color="#ff8b00"/>
<stop offset="1.000" stop-color="#ff8400"/>
</linearGradient>
<linearGradient id="g58" gradientUnits="userSpaceOnUse" x1="292.0" x2="455.0" y1="0" y2="0">
<stop offset="0.000" stop-color="#00ffcd"/>
<stop offset="0.030" stop-color="#00ffcc"/>
<stop offset="0.061" stop-color="#00ffca"/>
<stop offset="0.091" stop-color="#00ffc9"/>
<stop offset="0.121" stop-color="#00ffc7"/>
<stop offset="0.152" stop-color="#00ffc6"/>
<stop offset="0.182" stop-color="#00ffc4"/>
<stop offset="0.212" stop-color="#00ffc3"/>
<stop offset="0.242" stop-color="#00ffc1"/>
<stop offset="0.273" stop-color="#00ffbf"/>
<stop offset="0.303" stop-color="#00ffbd"/>
<stop offset="0.333" stop-color="#00ffba"/>
<stop offset="0.364" stop-color="#00ffb8"/>
<stop offset="0.394" stop-color="#00ffb5"/>
<stop offset="0.424" stop-color="#00ffb3"/>
<stop offset="0.455" stop-color="#5affb0"/>
<stop offset="0.485" stop-color="#82ffac"/>
<stop offset="0.515" stop-color="#a0ffa9"/>
<stop offset="0.545" stop-color="#baffa5"/>
<stop offset="0.576" stop-color="#d1ffa0"/>
<stop offset="0.606" stop-color="#e6ff9c"/>
<stop offset="0.636" stop-color="#fbff96"/>
<stop offset="0.667" stop-color="#fff087"/>
<stop offset="0.697" stop-color="#ffe077"/>
<stop offset="0.727" stop-color="#ffd168"/>
<stop offset="0.758" stop-color="#ffc55a"/>
<stop offset="0.788" stop-color="#ffb94b"/>
<stop offset="0.818" stop-color="#ffaf3c"/>
<stop offset="0.848" stop-color="#ffa529"/>
<stop offset="0.879" stop-color="#ff9d09"/>
<stop offset="0.909" stop-color="#ff9400"/>
<stop offset="0.939" stop-color="#ff8c00"/>
<stop offset="0.970" stop-color="#ff8500"/>
<stop offset="1.000" stop-color="#ff7d00"/>
</linearGradient>
<linearGradient id="g59" gradientUnits="userSpaceOnUse" x1="292.0" x2="457.0" y1="0" y2="0">
<stop offset="0.000" stop-color="#00ffd0"/>
<stop offset="0.030" stop-color="#00ffcf"/>
<stop offset="0.061" stop-color="#00ffcd"/>
<stop offset="0.091" stop-color="#00ffcc"/>
<stop offset="0.121" stop-color="#00ffcb"/>
<stop offset="0.152" stop-color="#00ffc9"/>
<stop offset="0.182" stop-color="#00ffc8"/>
<stop offset="0.212" stop-color="#00ffc6"/>
<stop offset="0.242" stop-color="#00ffc4"/>
<stop offset="0.273" stop-color="#00ffc2"/>
<stop offset="0.303" stop-color="#00ffc0"/>
<stop offset="0.333" stop-color="#00ffbe"/>
<stop offset="0.364" stop-color="#00ffbc"/>
<stop offset="0.394" stop-color="#00ffb9"/>
<stop offset="0.424" stop-color="#27ffb7"/>
<stop offset="0.455" stop-color="#68ffb4"/>
<stop offset="0.485" stop-color="#8dffb1"/>
<stop offset="0.515" stop-color="#aaffad"/>
<stop offset="0.545" stop-color="#c3ffa9"/>
<stop offset="0.576" stop-color="#dbffa5"/>
<stop offset="0.606" stop-color="#f0ffa0"/>
<stop offset="0.636" stop-color="#fff997"/>
<stop offset="0.667" stop-color="#ffe786"/>
<stop offset="0.697" stop-color="#ffd777"/>
<stop offset="0.727" stop-color="#ffca68"/>
<stop offset="0.758" stop-color="#ffbd5a"/>
<stop offset="0.788" stop-color="#ffb24c"/>
<stop offset="0.818" stop-color="#ffa83d"/>
<stop offset="0.848" stop-color="#ff9f2b"/>
<stop offset="0.879" stop-color="#ff9610"/>
<stop offset="0.909" stop-color="#ff8e00"/>
<stop offset="0.939" stop-color="#ff8600"/>
<stop offset="0.970" stop-color="#ff7f00"/>
<stop offset="1.000" stop-color="#ff7700"/>
</linearGradient>
<linearGradient id="g60" gradientUnits="userSpaceOnUse" x1="292.5" x2="459.0" y1="0" y2="0">
<stop offset="0.000" stop-color="#00ffd3"/>
<stop offset="0.030" stop-color="#00ffd2"/>
<stop offset="0.061" stop-color="#00ffd0"/>
<stop offset="0.091" stop-color="#00ffcf"/>
<stop offset="0.121" stop-color="#00ffce"/>
<stop offset="0.152" stop-color="#00ffcc"/>
<stop offset="0.182" stop-color="#00ffcb"/>
<stop offset="0.212" stop-color="#00ffc9"/>
<stop offset="0.242" stop-color="#00ffc8"/>
<stop offset="0.273" stop-color="#00ffc6"/>
<stop offset="0.303" stop-color="#00ffc4"/>
<stop offset="0.333" stop-color="#00ffc2"/>
<stop offset="0.364" stop-color="#00ffc0"/>
<stop offset="0.394" stop-color="#00ffbd"/>
<stop offset="0.424" stop-color="#46ffbb"/>
<stop offset="0.455" stop-color="#78ffb8"/>
<stop offset="0.485" stop-color="#9affb5"/>
<stop offset="0.515" stop-color="#b6ffb1"/>
<stop offset="0.545" stop-color="#ceffae"/>
<stop offset="0.576" stop-color="#e5ffa9"/>
<stop offset="0.606" stop-color="#fbffa5"/>
<stop offset="0.636" stop-color="#ffef95"/>
<stop offset="0.667" stop-color="#ffde85"/>
<stop offset="0.697" stop-color="#ffcf76"/>
<stop offset="0.727" stop-color="#ffc268"/>
<stop offset="0.758" stop-color="#ffb65a"/>
<stop offset="0.788" stop-color="#ffab4d"/>
<stop offset="0.818" stop-color="#ffa13e"/>
<stop offset="0.848" stop-color="#ff982d"/>
<stop offset="0.879" stop-color="#ff9015"/>
<stop offset="0.909" stop-color="#ff8800"/>
<stop offset="0.939" stop-color="#ff8000"/>
<stop offset="0.970" stop-color="#ff7800"/>
<stop offset="1.000" stop-color="#ff7100"/>
</linearGradient>
<linearGradient id="g61" gradientUnits="userSpaceOnUse" x1="293.0" x2="461.0" y1="0" y2="0">
<stop offset="0.000" stop-color="#00ffd6"/>
<stop offset="0.029" stop-color="#00ffd5"/>
<stop offset="0.059" stop-color="#00ffd4"/>
<stop offset="0.088" stop-color="#00ffd2"/>
<stop offset="0.118" stop-color="#00ffd1"/>
<stop offset="0.147" stop-color="#00ffd0"/>
<stop offset="0.176" stop-color="#00ffcf"/>
<stop offset="0.206" stop-color="#00ffcd"/>
<stop offset="0.235" stop-color="#00ffcc"/>
<stop offset="0.265" stop-color="#00ffca"/>
<stop offset="0.294" stop-color="#00ffc8"/>
<stop offset="0.324" stop-color="#00ffc6"/>
<stop offset="0.353" stop-color="#00ffc4"/>
<stop offset="0.382" stop-color="#00ffc2"/>
<stop offset="0.412" stop-color="#41ffc0"/>
<stop offset="0.441" stop-color="#75ffbd"/>
<stop offset="0.471" stop-color="#97ffba"/>
<stop offset="0.500" stop-color="#b3ffb7"/>
<stop offset="0.529" stop-color="#ccffb4"/>
<stop offset="0.559" stop-color="#e4ffb0"/>
<stop offset="0.588" stop-color="#f9ffac"/>
<stop offset="0.618" stop-color="#fff09e"/>
<stop offset="0.647" stop-color="#ffdf8e"/>
<stop offset="0.676" stop-color="#ffd07f"/>
<stop offset="0.706" stop-color="#ffc371"/>
<stop offset="0.735" stop-color="#ffb764"/>
<stop offset="0.765" stop-color="#ffac57"/>
<stop offset="0.794" stop-color="#ffa24a"/>
<stop offset="0.824" stop-color="#ff993c"/>
<stop offset="0.853" stop-color="#ff902c"/>
<stop offset="0.882" stop-color="#ff8815"/>
<stop offset="0.912" stop-color="#ff8000"/>
<stop offset="0.941" stop-color="#ff7900"/>
<stop offset="0.971" stop-color="#ff7200"/>
<stop offset="1.000" stop-color="#ff6b00"/>
</linearGradient>
<linearGradient id="g62" gradientUnits="userSpaceOnUse" x1="293.0" x2="463.0" y1="0" y2="0">
<stop offset="0.000" stop-color="#00ffd9"/>
<stop offset="0.029" stop-color="#00ffd8"/>
<stop offset="0.059" stop-color="#00ffd7"/>
<stop offset="0.088" stop-color="#00ffd6"/>
<stop offset="0.118" stop-color="#00ffd5"/>
<stop offset="0.147" stop-color="#00ffd3"/>
<stop offset="0.176" stop-color="#00ffd2"/>
<stop offset="0.206" stop-color="#00ffd1"/>
<stop offset="0.235" stop-color="#00ffcf"/>
<stop offset="0.265" stop-color="#00ffce"/>
<stop offset="0.294" stop-color="#00ffcc"/>
<stop offset="0.324" stop-color="#00ffca"/>
<stop offset="0.353" stop-color="#00ffc8"/>
<stop offset="0.382" stop-color="#00ffc6"/>
<stop offset="0.412" stop-color="#54ffc4"/>
<stop offset="0.441" stop-color="#81ffc2"/>
<stop offset="0.471" stop-color="#a2ffbf"/>
<stop offset="0.500" stop-color="#beffbc"/>
<stop offset="0.529" stop-color="#d6ffb9"/>
<stop offset="0.559" stop-color="#eeffb5"/>
<stop offset="0.588" stop-color="#fffaae"/>
<stop offset="0.618" stop-color="#ffe79c"/>
<stop offset="0.647" stop-color="#ffd78d"/>
<stop offset="0.676" stop-color="#ffc87e"/>
<stop offset="0.706" stop-color="#ffbb71"/>
<stop offset="0.735" stop-color="#ffb064"/>
<stop offset="0.765" stop-color="#ffa558"/>
<stop offset="0.794" stop-color="#ff9c4b"/>
<stop offset="0.824" stop-color="#ff933d"/>
<stop offset="0.853" stop-color="#ff8a2e"/>
<stop offset="0.882" stop-color="#ff8219"/>
<stop offset="0.912" stop-color="#ff7a00"/>
<stop offset="0.941" stop-color="#ff7300"/>
<stop offset="0.971" stop-color="#ff6b00"/>
<stop offset="1.000" stop-color="#ff6400"/>
</linearGradient>
<linearGradient id="g63" gradientUnits="userSpaceOnUse" x1="293.5" x2="465.0" y1="0" y2="0">
<stop offset="0.000" stop-color="#00ffdc"/>
<stop offset="0.029" stop-color="#00ffdb"/>
<stop offset="0.059" stop-color="#00ffda"/>
<stop offset="0.088" stop-color="#00ffd9"/>
<stop offset="0.118" stop-color="#00ffd8"/>
<stop offset="0.147" stop-color="#00ffd7"/>
<stop offset="0.176" stop-color="#00ffd6"/>
<stop offset="0.206" stop-color="#00ffd4"/>
<stop offset="0.235" stop-color="#00ffd3"/>
<stop offset="0.265" stop-color="#00ffd1"/>
<stop offset="0.294" stop-color="#00ffd0"/>
<stop offset="0.324" stop-color="#00ffce"/>
<stop offset="0.353" stop-color="#00ffcc"/>
<stop offset="0.382" stop-color="#0dffca"/>
<stop offset="0.412" stop-color="#66ffc8"/>
<stop offset="0.441" stop-color="#8effc6"/>
<stop offset="0.471" stop-color="#aeffc3"/>
<stop offset="0.500" stop-color="#c9ffc1"/>
<stop offset="0.529" stop-color="#e2ffbe"/>
<stop offset="0.559" stop-color="#f9ffba"/>
<stop offset="0.588" stop-color="#fff0ab"/>
<stop offset="0.618" stop-color="#ffdd9a"/>
<stop offset="0.647" stop-color="#ffce8b"/>
<stop offset="0.676" stop-color="#ffc07d"/>
<stop offset="0.706" stop-color="#ffb470"/>
<stop offset="0.735" stop-color="#ffa964"/>
<stop offset="0.765" stop-color="#ff9e58"/>
<stop offset="0.794" stop-color="#ff954b"/>
<stop offset="0.824" stop-color="#ff8c3e"/>
<stop offset="0.853" stop-color="#ff842f"/>
<stop offset="0.882" stop-color="#ff7c1c"/>
<stop offset="0.912" stop-color="#ff7400"/>
<stop offset="0.941" stop-color="#ff6c00"/>
<stop offset="0.971" stop-color="#ff6500"/>
<stop offset="1.000" stop-color="#ff5d00"/>
</linearGradient>
<linearGradient id="g64" gradientUnits="userSpaceOnUse" x1="293.5" x2="467.0" y1="0" y2="0">
<stop offset="0.000" stop-color="#00ffdf"/>
<stop offset="0.029" stop-color="#00ffde"/>
<stop offset="0.057" stop-color="#00ffdd"/>
<stop offset="0.086" stop-color="#00ffdd"/>
<stop offset="0.114" stop-color="#00ffdc"/>
<stop offset="0.143" stop-color="#00ffdb"/>
<stop offset="0.171" stop-color="#00ffda"/>
<stop offset="0.200" stop-color="#00ffd8"/>
<stop offset="0.229" stop-color="#00ffd7"/>
<stop offset="0.257" stop-color="#00ffd6"/>
<stop offset="0.286" stop-color="#00ffd4"/>
<stop offset="0.314" stop-color="#00ffd3"/>
<stop offset="0.343" stop-color="#00ffd1"/>
<stop offset="0.371" stop-color="#00ffd0"/>
<stop offset="0.400" stop-color="#61ffce"/>
<stop offset="0.429" stop-color="#8bffcc"/>
<stop offset="0.457" stop-color="#abffc9"/>
<stop offset="0.486" stop-color="#c6ffc7"/>
<stop offset="0.514" stop-color="#dfffc4"/>
<stop offset="0.543" stop-color="#f7ffc1"/>
<stop offset="0.571" stop-color="#fff2b4"/>
<stop offset="0.600" stop-color="#ffdfa3"/>
<stop offset="0.629" stop-color="#ffcf93"/>
<stop offset="0.657" stop-color="#ffc186"/>
<stop offset="0.686" stop-color="#ffb579"/>
<stop offset="0.714" stop-color="#ffaa6d"/>
<stop offset="0.743" stop-color="#ff9f61"/>
<stop offset="0.771" stop-color="#ff9655"/>
<stop offset="0.800" stop-color="#ff8d4a"/>
<stop offset="0.829" stop-color="#ff843d"/>
<stop offset="0.857" stop-color="#ff7c2f"/>
<stop offset="0.886" stop-color="#ff741c"/>
<stop offset="0.914" stop-color="#ff6d00"/>
<stop offset="0.943" stop-color="#ff6500"/>
<stop offset="0.971" stop-color="#ff5e00"/>
<stop offset="1.000" stop-color="#ff5600"/>
</linearGradient>
<linearGradient id="g65" gradientUnits="userSpaceOnUse" x1="294.0" x2="469.0" y1="0" y2="0">
<stop offset="0.000" stop-color="#00ffe2"/>
<stop offset="0.029" stop-color="#00ffe2"/>
<stop offset="0.057" stop-color="#00ffe1"/>
<stop offset="0.086" stop-color="#00ffe0"/>
<stop offset="0.114" stop-color="#00ffdf"/>
<stop offset="0.143" stop-color="#00ffde"/>
<stop offset="0.171" stop-color="#00ffdd"/>
<stop offset="0.200" stop-color="#00ffdc"/>
<stop offset="0.229" stop-color="#00ffdb"/>
<stop offset="0.257" stop-color="#00ffda"/>
<stop offset="0.286" stop-color="#00ffd9"/>
<stop offset="0.314" stop-color="#00ffd7"/>
<stop offset="0.343" stop-color="#00ffd6"/>
<stop offset="0.371" stop-color="#31ffd4"/>
<stop offset="0.400" stop-color="#72ffd2"/>
<stop offset="0.429" stop-color="#98ffd0"/>
<stop offset="0.457" stop-color="#b7ffce"/>
<stop offset="0.486" stop-color="#d2ffcc"/>
<stop offset="0.514" stop-color="#ebffca"/>
<stop offset="0.543" stop-color="#fffcc4"/>
<stop offset="0.571" stop-color="#ffe7b1"/>
<stop offset="0.600" stop-color="#ffd6a1"/>
<stop offset="0.629" stop-color="#ffc792"/>
<stop offset="0.657" stop-color="#ffb985"/>
<stop offset="0.686" stop-color="#ffad78"/>
<stop offset="0.714" stop-color="#ffa26c"/>
<stop offset="0.743" stop-color="#ff9861"/>
<stop offset="0.771" stop-color="#ff8f56"/>
<stop offset="0.800" stop-color="#ff864a"/>
<stop offset="0.829" stop-color="#ff7e3e"/>
<stop offset="0.857" stop-color="#ff7530"/>
<stop offset="0.886" stop-color="#ff6e1e"/>
<stop offset="0.914" stop-color="#ff6600"/>
<stop offset="0.943" stop-color="#ff5e00"/>
<stop offset="0.971" stop-color="#ff5700"/>
<stop offset="1.000" stop-color="#ff4f00"/>
</linearGradient>
<linearGradient id="g66" gradientUnits="userSpaceOnUse" x1="294.5" x2="471.0" y1="0" y2="0">
<stop offset="0.000" stop-color="#00ffe6"/>
<stop offset="0.029" stop-color="#00ffe5"/>
<stop offset="0.057" stop-color="#00ffe4"/>
<stop offset="0.086" stop-color="#00ffe3"/>
<stop offset="0.114" stop-color="#00ffe3"/>
<stop offset="0.143" stop-color="#00ffe2"/>
<stop offset="0.171" stop-color="#00ffe1"/>
<stop offset="0.200" stop-color="#00ffe0"/>
<stop offset="0.229" stop-color="#00ffdf"/>
<stop offset="0.257" stop-color="#00ffde"/>
<stop offset="0.286" stop-color="#00ffdd"/>
<stop offset="0.314" stop-color="#00ffdc"/>
<stop offset="0.343" stop-color="#00ffda"/>
<stop offset="0.371" stop-color="#4effd9"/>
<stop offset="0.400" stop-color="#81ffd7"/>
<stop offset="0.429" stop-color="#a5ffd5"/>
<stop offset="0.457" stop-color="#c2ffd3"/>
<stop offset="0.486" stop-color="#ddffd1"/>
<stop offset="0.514" stop-color="#f6ffcf"/>
<stop offset="0.543" stop-color="#fff1c1"/>
<stop offset="0.571" stop-color="#ffddaf"/>
<stop offset="0.600" stop-color="#ffcd9f"/>
<stop offset="0.629" stop-color="#ffbe91"/>
<stop offset="0.657" stop-color="#ffb184"/>
<stop offset="0.686" stop-color="#ffa677"/>
<stop offset="0.714" stop-color="#ff9b6c"/>
<stop offset="0.743" stop-color="#ff9161"/>
<stop offset="0.771" stop-color="#ff8856"/>
<stop offset="0.800" stop-color="#ff7f4a"/>
<stop offset="0.829" stop-color="#ff773f"/>
<stop offset="0.857" stop-color="#ff6f31"/>
<stop offset="0.886" stop-color="#ff6721"/>
<stop offset="0.914" stop-color="#ff5f01"/>
<stop offset="0.943" stop-color="#ff5700"/>
<stop offset="0.971" stop-color="#ff4f00"/>
<stop offset="1.000" stop-color="#ff4700"/>
</linearGradient>
<linearGradient id="g67" gradientUnits="userSpaceOnUse" x1="295.0" x2="473.0" y1="0" y2="0">
<stop offset="0.000" stop-color="#00ffe9"/>
<stop offset="0.028" stop-color="#00ffe8"/>
<stop offset="0.056" stop-color="#00ffe8"/>
<stop offset="0.083" stop-color="#00ffe7"/>
<stop offset="0.111" stop-color="#00ffe6"/>
<stop offset="0.139" stop-color="#00ffe6"/>
<stop offset="0.167" stop-color="#00ffe5"/>
<stop offset="0.194" stop-color="#00ffe4"/>
<stop offset="0.222" stop-color="#00ffe3"/>
<stop offset="0.250" stop-color="#00ffe2"/>
<stop offset="0.278" stop-color="#00ffe1"/>
<stop offset="0.306" stop-color="#00ffe0"/>
<stop offset="0.333" stop-color="#00ffdf"/>
<stop offset="0.361" stop-color="#4bffde"/>
<stop offset="0.389" stop-color="#80ffdd"/>
<stop offset="0.417" stop-color="#a4ffdb"/>
<stop offset="0.444" stop-color="#c2ffda"/>
<stop offset="0.472" stop-color="#ddffd8"/>
<stop offset="0.500" stop-color="#f6ffd6"/>
<stop offset="0.528" stop-color="#fff1c8"/>
<stop offset="0.556" stop-color="#ffdeb6"/>
<stop offset="0.583" stop-color="#ffcda6"/>
<stop offset="0.611" stop-color="#ffbe97"/>
<stop offset="0.639" stop-color="#ffb28b"/>
<stop offset="0.667" stop-color="#ffa67f"/>
<stop offset="0.694" stop-color="#ff9b73"/>
<stop offset="0.722" stop-color="#ff9169"/>
<stop offset="0.750" stop-color="#ff885e"/>
<stop offset="0.778" stop-color="#ff7f53"/>
<stop offset="0.806" stop-color="#ff7749"/>
<stop offset="0.833" stop-color="#ff6f3d"/>
<stop offset="0.861" stop-color="#ff6730"/>
<stop offset="0.889" stop-color="#ff5f20"/>
<stop offset="0.917" stop-color="#ff5703"/>
<stop offset="0.944" stop-color="#ff4f00"/>
<stop offset="0.972" stop-color="#ff4700"/>
<stop offset="1.000" stop-color="#ff3e00"/>
</linearGradient>
<linearGradient id="g68" gradientUnits="userSpaceOnUse" x1="295.0" x2="475.0" y1="0" y2="0">
<stop offset="0.000" stop-color="#00ffec"/>
<stop offset="0.028" stop-color="#00ffec"/>
<stop offset="0.056" stop-color="#00ffeb"/>
<stop offset="0.083" stop-color="#00ffeb"/>
<stop offset="0.111" stop-color="#00ffea"/>
<stop offset="0.139" stop-color="#00ffea"/>
<stop offset="0.167" stop-color="#00ffe9"/>
<stop offset="0.194" stop-color="#00ffe8"/>
<stop offset="0.222" stop-color="#00ffe8"/>
<stop offset="0.250" stop-color="#00ffe7"/>
<stop offset="0.278" stop-color="#00ffe6"/>
<stop offset="0.306" stop-color="#00ffe5"/>
<stop offset="0.333" stop-color="#00ffe4"/>
<stop offset="0.361" stop-color="#5dffe3"/>
<stop offset="0.389" stop-color="#8cffe2"/>
<stop offset="0.417" stop-color="#aeffe1"/>
<stop offset="0.444" stop-color="#ccffdf"/>
<stop offset="0.472" stop-color="#e7ffde"/>
<stop offset="0.500" stop-color="#fffedb"/>
<stop offset="0.528" stop-color="#ffe7c6"/>
<stop offset="0.556" stop-color="#ffd5b4"/>
<stop offset="0.583" stop-color="#ffc5a4"/>
<stop offset="0.611" stop-color="#ffb796"/>
<stop offset="0.639" stop-color="#ffaa8a"/>
<stop offset="0.667" stop-color="#ff9f7e"/>
<stop offset="0.694" stop-color="#ff9473"/>
<stop offset="0.722" stop-color="#ff8b69"/>
<stop offset="0.750" stop-color="#ff815e"/>
<stop offset="0.778" stop-color="#ff7954"/>
<stop offset="0.806" stop-color="#ff7049"/>
<stop offset="0.833" stop-color="#ff683e"/>
<stop offset="0.861" stop-color="#ff6032"/>
<stop offset="0.889" stop-color="#ff5822"/>
<stop offset="0.917" stop-color="#ff4f09"/>
<stop offset="0.944" stop-color="#ff4700"/>
<stop offset="0.972" stop-color="#ff3e00"/>
<stop offset="1.000" stop-color="#ff3400"/>
</linearGradient>
<linearGradient id="g69" gradientUnits="userSpaceOnUse" x1="295.5" x2="476.5" y1="0" y2="0">
<stop offset="0.000" stop-color="#00fff0"/>
<stop offset="0.028" stop-color="#00fff0"/>
<stop offset="0.056" stop-color="#00ffef"/>
<stop offset="0.083" stop-color="#00ffef"/>
<stop offset="0.111" stop-color="#00ffee"/>
<stop offset="0.139" stop-color="#00ffee"/>
<stop offset="0.167" stop-color="#00ffed"/>
<stop offset="0.194" stop-color="#00ffed"/>
<stop offset="0.222" stop-color="#00ffec"/>
<stop offset="0.250" stop-color="#00ffeb"/>
<stop offset="0.278" stop-color="#00ffeb"/>
<stop offset="0.306" stop-color="#00ffea"/>
<stop offset="0.333" stop-color="#13ffe9"/>
<stop offset="0.361" stop-color="#6effe8"/>
<stop offset="0.389" stop-color="#98ffe7"/>
<stop offset="0.417" stop-color="#baffe6"/>
<stop offset="0.444" stop-color="#d7ffe5"/>
<stop offset="0.472" stop-color="#f2ffe4"/>
<stop offset="0.500" stop-color="#fff3d7"/>
<stop offset="0.528" stop-color="#ffdec3"/>
<stop offset="0.556" stop-color="#ffccb2"/>
<stop offset="0.583" stop-color="#ffbda3"/>
<stop offset="0.611" stop-color="#ffaf96"/>
<stop offset="0.639" stop-color="#ffa38a"/>
<stop offset="0.667" stop-color="#ff987e"/>
<stop offset="0.694" stop-color="#ff8e73"/>
<stop offset="0.722" stop-color="#ff8469"/>
<stop offset="0.750" stop-color="#ff7b5f"/>
<stop offset="0.778" stop-color="#ff7255"/>
<stop offset="0.806" stop-color="#ff6a4b"/>
<stop offset="0.833" stop-color="#ff6140"/>
<stop offset="0.861" stop-color="#ff5934"/>
<stop offset="0.889" stop-color="#ff5126"/>
<stop offset="0.917" stop-color="#ff4810"/>
<stop offset="0.944" stop-color="#ff3f00"/>
<stop offset="0.972" stop-color="#ff3500"/>
<stop offset="1.000" stop-color="#ff2a00"/>
</linearGradient>
<linearGradient id="g70" gradientUnits="userSpaceOnUse" x1="296.0" x2="478.5" y1="0" y2="0">
<stop offset="0.000" stop-color="#00fff3"/>
<stop offset="0.028" stop-color="#00fff3"/>
<stop offset="0.056" stop-color="#00fff3"/>
<stop offset="0.083" stop-color="#00fff3"/>
<stop offset="0.111" stop-color="#00fff2"/>
<stop offset="0.139" stop-color="#00fff2"/>
<stop offset="0.167" stop-color="#00fff1"/>
<stop offset="0.194" stop-color="#00fff1"/>
<stop offset="0.222" stop-color="#00fff0"/>
<stop offset="0.250" stop-color="#00fff0"/>
<stop offset="0.278" stop-color="#00ffef"/>
<stop offset="0.306" stop-color="#00ffef"/>
<stop offset="0.333" stop-color="#41ffee"/>
<stop offset="0.361" stop-color="#7effee"/>
<stop offset="0.389" stop-color="#a6ffed"/>
<stop offset="0.417" stop-color="#c6ffec"/>
<stop offset="0.444" stop-color="#e3ffeb"/>
<stop offset="0.472" stop-color="#feffea"/>
<stop offset="0.500" stop-color="#ffe8d4"/>
<stop offset="0.528" stop-color="#ffd4c0"/>
<stop offset="0.556" stop-color="#ffc3b0"/>
<stop offset="0.583" stop-color="#ffb5a2"/>
<stop offset="0.611" stop-color="#ffa895"/>
<stop offset="0.639" stop-color="#ff9c89"/>
<stop offset="0.667" stop-color="#ff917d"/>
<stop offset="0.694" stop-color="#ff8773"/>
<stop offset="0.722" stop-color="#ff7d69"/>
<stop offset="0.750" stop-color="#ff745f"/>
<stop offset="0.778" stop-color="#ff6b55"/>
<stop offset="0.806" stop-color="#ff624b"/>
<stop offset="0.833" stop-color="#ff5a40"/>
<stop offset="0.861" stop-color="#ff5135"/>
<stop offset="0.889" stop-color="#ff4827"/>
<stop offset="0.917" stop-color="#ff3f13"/>
<stop offset="0.944" stop-color="#ff3500"/>
<stop offset="0.972" stop-color="#ff2900"/>
<stop offset="1.000" stop-color="#ff1a00"/>
</linearGradient>
<linearGradient id="g71" gradientUnits="userSpaceOnUse" x1="296.0" x2="480.5" y1="0" y2="0">
<stop offset="0.000" stop-color="#00fff7"/>
<stop offset="0.027" stop-color="#00fff7"/>
<stop offset="0.054" stop-color="#00fff7"/>
<stop offset="0.081" stop-color="#00fff7"/>
<stop offset="0.108" stop-color="#00fff6"/>
<stop offset="0.135" stop-color="#00fff6"/>
<stop offset="0.162" stop-color="#00fff6"/>
<stop offset="0.189" stop-color="#00fff6"/>
<stop offset="0.216" stop-color="#00fff5"/>
<stop offset="0.243" stop-color="#00fff5"/>
<stop offset="0.270" stop-color="#00fff5"/>
<stop offset="0.297" stop-color="#00fff4"/>
<stop offset="0.324" stop-color="#38fff4"/>
<stop offset="0.351" stop-color="#7bfff3"/>
<stop offset="0.378" stop-color="#a3fff3"/>
<stop offset="0.405" stop-color="#c4fff2"/>
<stop offset="0.432" stop-color="#e2fff2"/>
<stop offset="0.459" stop-color="#fdfff1"/>
<stop offset="0.486" stop-color="#ffe8db"/>
<stop offset="0.514" stop-color="#ffd5c8"/>
<stop offset="0.541" stop-color="#ffc4b7"/>
<stop offset="0.568" stop-color="#ffb5a8"/>
<stop offset="0.595" stop-color="#ffa89b"/>
<stop offset="0.622" stop-color="#ff9c8f"/>
<stop offset="0.649" stop-color="#ff9184"/>
<stop offset="0.676" stop-color="#ff877a"/>
<stop offset="0.703" stop-color="#ff7d70"/>
<stop offset="0.730" stop-color="#ff7466"/>
<stop offset="0.757" stop-color="#ff6b5d"/>
<stop offset="0.784" stop-color="#ff6253"/>
<stop offset="0.811" stop-color="#ff5949"/>
<stop offset="0.838" stop-color="#ff513f"/>
<stop offset="0.865" stop-color="#ff4834"/>
<stop offset="0.892" stop-color="#ff3e27"/>
<stop offset="0.919" stop-color="#ff3414"/>
<stop offset="0.946" stop-color="#ff2800"/>
<stop offset="0.973" stop-color="#ff1800"/>
<stop offset="1.000" stop-color="#ff0000"/>
</linearGradient>
<linearGradient id="g72" gradientUnits="userSpaceOnUse" x1="296.5" x2="483.0" y1="0" y2="0">
<stop offset="0.000" stop-color="#00fffb"/>
<stop offset="0.027" stop-color="#00fffb"/>
<stop offset="0.054" stop-color="#00fffb"/>
<stop offset="0.081" stop-color="#00fffb"/>
<stop offset="0.108" stop-color="#00fffb"/>
<stop offset="0.135" stop-color="#00fffa"/>
<stop offset="0.162" stop-color="#00fffa"/>
<stop offset="0.189" stop-color="#00fffa"/>
<stop offset="0.216" stop-color="#00fffa"/>
<stop offset="0.243" stop-color="#00fffa"/>
<stop offset="0.270" stop-color="#00fffa"/>
<stop offset="0.297" stop-color="#00fffa"/>
<stop offset="0.324" stop-color="#57fff9"/>
<stop offset="0.351" stop-color="#8cfff9"/>
<stop offset="0.378" stop-color="#b2fff9"/>
<stop offset="0.405" stop-color="#d2fff9"/>
<stop offset="0.432" stop-color="#f0fff8"/>
<stop offset="0.459" stop-color="#fff3ec"/>
<stop offset="0.486" stop-color="#ffddd6"/>
<stop offset="0.514" stop-color="#ffcac4"/>
<stop offset="0.541" stop-color="#ffbab4"/>
<stop offset="0.568" stop-color="#ffaca6"/>
<stop offset="0.595" stop-color="#ff9f99"/>
<stop offset="0.622" stop-color="#ff938d"/>
<stop offset="0.649" stop-color="#ff8983"/>
<stop offset="0.676" stop-color="#ff7f78"/>
<stop offset="0.703" stop-color="#ff756f"/>
<stop offset="0.730" stop-color="#ff6c65"/>
<stop offset="0.757" stop-color="#ff635c"/>
<stop offset="0.784" stop-color="#ff5a53"/>
<stop offset="0.811" stop-color="#ff5149"/>
<stop offset="0.838" stop-color="#ff473f"/>
<stop offset="0.865" stop-color="#ff3d34"/>
<stop offset="0.892" stop-color="#ff3227"/>
<stop offset="0.919" stop-color="#ff2615"/>
<stop offset="0.946" stop-color="#ff1400"/>
<stop offset="0.973" stop-color="#ff0000"/>
<stop offset="1.000" stop-color="#ff0000"/>
</linearGradient>
<linearGradient id="g73" gradientUnits="userSpaceOnUse" x1="297.0" x2="485.0" y1="0" y2="0">
<stop offset="0.000" stop-color="#00ffff"/>
<stop offset="0.026" stop-color="#00ffff"/>
<stop offset="0.053" stop-color="#00ffff"/>
<stop offset="0.079" stop-color="#00ffff"/>
<stop offset="0.105" stop-color="#00ffff"/>
<stop offset="0.132" stop-color="#00ffff"/>
<stop offset="0.158" stop-color="#00ffff"/>
<stop offset="0.184" stop-color="#00ffff"/>
<stop offset="0.211" stop-color="#00ffff"/>
<stop offset="0.237" stop-color="#00ffff"/>
<stop offset="0.263" stop-color="#00ffff"/>
<stop offset="0.289" stop-color="#00ffff"/>
<stop offset="0.316" stop-color="#57ffff"/>
<stop offset="0.342" stop-color="#8cffff"/>
<stop offset="0.368" stop-color="#b3ffff"/>
<stop offset="0.395" stop-color="#d3ffff"/>
<stop offset="0.421" stop-color="#f0ffff"/>
<stop offset="0.447" stop-color="#fff2f3"/>
<stop offset="0.474" stop-color="#ffdcdc"/>
<stop offset="0.500" stop-color="#ffc9ca"/>
<stop offset="0.526" stop-color="#ffb9ba"/>
<stop offset="0.553" stop-color="#ffabab"/>
<stop offset="0.579" stop-color="#ff9e9f"/>
<stop offset="0.605" stop-color="#ff9393"/>
<stop offset="0.632" stop-color="#ff8889"/>
<stop offset="0.658" stop-color="#ff7e7e"/>
<stop offset="0.684" stop-color="#ff7475"/>
<stop offset="0.711" stop-color="#ff6b6c"/>
<stop offset="0.737" stop-color="#ff6263"/>
<stop offset="0.763" stop-color="#ff595a"/>
<stop offset="0.789" stop-color="#ff4f51"/>
<stop offset="0.816" stop-color="#ff4648"/>
<stop offset="0.842" stop-color="#ff3c3e"/>
<stop offset="0.868" stop-color="#ff3133"/>
<stop offset="0.895" stop-color="#ff2327"/>
<stop offset="0.921" stop-color="#ff0f15"/>
<stop offset="0.947" stop-color="#ff0000"/>
<stop offset="0.974" stop-color="#ff0000"/>
<stop offset="1.000" stop-color="#ff0000"/>
</linearGradient>
<linearGradient id="g74" gradientUnits="userSpaceOnUse" x1="297.5" x2="486.5" y1="0" y2="0">
<stop offset="0.000" stop-color="#00fbff"/>
<stop offset="0.026" stop-color="#00fbff"/>
<stop offset="0.053" stop-color="#00fbff"/>
<stop offset="0.079" stop-color="#00fbff"/>
<stop offset="0.105" stop-color="#00fbff"/>
<stop offset="0.132" stop-color="#00fbff"/>
<stop offset="0.158" stop-color="#00faff"/>
<stop offset="0.184" stop-color="#00faff"/>
<stop offset="0.211" stop-color="#00faff"/>
<stop offset="0.237" stop-color="#00faff"/>
<stop offset="0.263" stop-color="#00faff"/>
<stop offset="0.289" stop-color="#00f9ff"/>
<stop offset="0.316" stop-color="#67f9ff"/>
<stop offset="0.342" stop-color="#96f9ff"/>
<stop offset="0.368" stop-color="#baf8ff"/>
<stop offset="0.395" stop-color="#d9f8ff"/>
<stop offset="0.421" stop-color="#f5f8ff"/>
<stop offset="0.447" stop-color="#ffe7ef"/>
<stop offset="0.474" stop-color="#ffd2d9"/>
<stop offset="0.500" stop-color="#ffc0c8"/>
<stop offset="0.526" stop-color="#ffb1b8"/>
<stop offset="0.553" stop-color="#ffa3aa"/>
<stop offset="0.579" stop-color="#ff979e"/>
<stop offset="0.605" stop-color="#ff8b93"/>
<stop offset="0.632" stop-color="#ff8188"/>
<stop offset="0.658" stop-color="#ff777e"/>
<stop offset="0.684" stop-color="#ff6d75"/>
<stop offset="0.711" stop-color="#ff646c"/>
<stop offset="0.737" stop-color="#ff5a63"/>
<stop offset="0.763" stop-color="#ff515a"/>
<stop offset="0.789" stop-color="#ff4752"/>
<stop offset="0.816" stop-color="#ff3d49"/>
<stop offset="0.842" stop-color="#ff323f"/>
<stop offset="0.868" stop-color="#ff2435"/>
<stop offset="0.895" stop-color="#ff0f29"/>
<stop offset="0.921" stop-color="#ff0019"/>
<stop offset="0.947" stop-color="#ff0000"/>
<stop offset="0.974" stop-color="#ff0000"/>
<stop offset="1.000" stop-color="#ff0000"/>
</linearGradient>
<linearGradient id="g75" gradientUnits="userSpaceOnUse" x1="298.0" x2="488.5" y1="0" y2="0">
<stop offset="0.000" stop-color="#00f7ff"/>
<stop offset="0.026" stop-color="#00f7ff"/>
<stop offset="0.053" stop-color="#00f7ff"/>
<stop offset="0.079" stop-color="#00f7ff"/>
<stop offset="0.105" stop-color="#00f6ff"/>
<stop offset="0.132" stop-color="#00f6ff"/>
<stop offset="0.158" stop-color="#00f6ff"/>
<stop offset="0.184" stop-color="#00f5ff"/>
<stop offset="0.211" stop-color="#00f5ff"/>
<stop offset="0.237" stop-color="#00f5ff"/>
<stop offset="0.263" stop-color="#00f4ff"/>
<stop offset="0.289" stop-color="#2cf4ff"/>
<stop offset="0.316" stop-color="#76f3ff"/>
<stop offset="0.342" stop-color="#a0f2ff"/>
<stop offset="0.368" stop-color="#c2f2ff"/>
<stop offset="0.395" stop-color="#dff1ff"/>
<stop offset="0.421" stop-color="#fbf0ff"/>
<stop offset="0.447" stop-color="#ffdcea"/>
<stop offset="0.474" stop-color="#ffc8d6"/>
<stop offset="0.500" stop-color="#ffb7c5"/>
<stop offset="0.526" stop-color="#ffa8b6"/>
<stop offset="0.553" stop-color="#ff9ba9"/>
<stop offset="0.579" stop-color="#ff8f9d"/>
<stop offset="0.605" stop-color="#ff8492"/>
<stop offset="0.632" stop-color="#ff7988"/>
<stop offset="0.658" stop-color="#ff6f7e"/>
<stop offset="0.684" stop-color="#ff6575"/>
<stop offset="0.711" stop-color="#ff5c6c"/>
<stop offset="0.737" stop-color="#ff5263"/>
<stop offset="0.763" stop-color="#ff485a"/>
<stop offset="0.789" stop-color="#ff3d52"/>
<stop offset="0.816" stop-color="#ff3149"/>
<stop offset="0.842" stop-color="#ff2340"/>
<stop offset="0.868" stop-color="#ff0d36"/>
<stop offset="0.895" stop-color="#ff002a"/>
<stop offset="0.921" stop-color="#ff001b"/>
<stop offset="0.947" stop-color="#ff0000"/>
<stop offset="0.974" stop-color="#ff0000"/>
<stop offset="1.000" stop-color="#ff0000"/>
</linearGradient>
<linearGradient id="g76" gradientUnits="userSpaceOnUse" x1="298.0" x2="490.5" y1="0" y2="0">
<stop offset="0.000" stop-color="#00f4ff"/>
<stop offset="0.026" stop-color="#00f3ff"/>
<stop offset="0.053" stop-color="#00f3ff"/>
<stop offset="0.079" stop-color="#00f2ff"/>
<stop offset="0.105" stop-color="#00f2ff"/>
<stop offset="0.132" stop-color="#00f2ff"/>
<stop offset="0.158" stop-color="#00f1ff"/>
<stop offset="0.184" stop-color="#00f1ff"/>
<stop offset="0.211" stop-color="#00f0ff"/>
<stop offset="0.237" stop-color="#00efff"/>
<stop offset="0.263" stop-color="#00efff"/>
<stop offset="0.289" stop-color="#44eeff"/>
<stop offset="0.316" stop-color="#80edff"/>
<stop offset="0.342" stop-color="#a7ecff"/>
<stop offset="0.368" stop-color="#c7ebff"/>
<stop offset="0.395" stop-color="#e4eaff"/>
<stop offset="0.421" stop-color="#ffe9ff"/>
<stop offset="0.447" stop-color="#ffd2e7"/>
<stop offset="0.474" stop-color="#ffbfd4"/>
<stop offset="0.500" stop-color="#ffafc3"/>
<stop offset="0.526" stop-color="#ffa0b5"/>
<stop offset="0.553" stop-color="#ff93a8"/>
<stop offset="0.579" stop-color="#ff879c"/>
<stop offset="0.605" stop-color="#ff7c91"/>
<stop offset="0.632" stop-color="#ff7287"/>
<stop offset="0.658" stop-color="#ff677e"/>
<stop offset="0.684" stop-color="#ff5d75"/>
<stop offset="0.711" stop-color="#ff536c"/>
<stop offset="0.737" stop-color="#ff4963"/>
<stop offset="0.763" stop-color="#ff3e5b"/>
<stop offset="0.789" stop-color="#ff3252"/>
<stop offset="0.816" stop-color="#ff2349"/>
<stop offset="0.842" stop-color="#ff0b40"/>
<stop offset="0.868" stop-color="#ff0036"/>
<stop offset="0.895" stop-color="#ff002b"/>
<stop offset="0.921" stop-color="#ff001d"/>
<stop offset="0.947" stop-color="#ff0004"/>
<stop offset="0.974" stop-color="#ff0000"/>
<stop offset="1.000" stop-color="#ff0000"/>
</linearGradient>
<linearGradient id="g77" gradientUnits="userSpaceOnUse" x1="298.5" x2="492.5" y1="0" y2="0">
<stop offset="0.000" stop-color="#00f0ff"/>
<stop offset="0.026" stop-color="#00efff"/>
<stop offset="0.051" stop-color="#00efff"/>
<stop offset="0.077" stop-color="#00eeff"/>
<stop offset="0.103" stop-color="#00eeff"/>
<stop offset="0.128" stop-color="#00edff"/>
<stop offset="0.154" stop-color="#00ecff"/>
<stop offset="0.179" stop-color="#00ecff"/>
<stop offset="0.205" stop-color="#00ebff"/>
<stop offset="0.231" stop-color="#00eaff"/>
<stop offset="0.256" stop-color="#00e9ff"/>
<stop offset="0.282" stop-color="#44e8ff"/>
<stop offset="0.308" stop-color="#7ee7ff"/>
<stop offset="0.333" stop-color="#a4e6ff"/>
<stop offset="0.359" stop-color="#c3e5ff"/>
<stop offset="0.385" stop-color="#dfe4ff"/>
<stop offset="0.410" stop-color="#fae2ff"/>
<stop offset="0.436" stop-color="#ffd1ed"/>
<stop offset="0.462" stop-color="#ffbed9"/>
<stop offset="0.487" stop-color="#ffadc8"/>
<stop offset="0.513" stop-color="#ff9fba"/>
<stop offset="0.538" stop-color="#ff92ad"/>
<stop offset="0.564" stop-color="#ff86a1"/>
<stop offset="0.590" stop-color="#ff7b96"/>
<stop offset="0.615" stop-color="#ff708c"/>
<stop offset="0.641" stop-color="#ff6683"/>
<stop offset="0.667" stop-color="#ff5c7a"/>
<stop offset="0.692" stop-color="#ff5171"/>
<stop offset="0.718" stop-color="#ff4769"/>
<stop offset="0.744" stop-color="#ff3c61"/>
<stop offset="0.769" stop-color="#ff2f59"/>
<stop offset="0.795" stop-color="#ff1f51"/>
<stop offset="0.821" stop-color="#ff0248"/>
<stop offset="0.846" stop-color="#ff003f"/>
<stop offset="0.872" stop-color="#ff0036"/>
<stop offset="0.897" stop-color="#ff002b"/>
<stop offset="0.923" stop-color="#ff001d"/>
<stop offset="0.949" stop-color="#ff0007"/>
<stop offset="0.974" stop-color="#ff0000"/>
<stop offset="1.000" stop-color="#ff0000"/>
</linearGradient>
<linearGradient id="g78" gradientUnits="userSpaceOnUse" x1="299.0" x2="494.5" y1="0" y2="0">
<stop offset="0.000" stop-color="#00ecff"/>
<stop offset="0.026" stop-color="#00ebff"/>
<stop offset="0.051" stop-color="#00ebff"/>
<stop offset="0.077" stop-color="#00eaff"/>
<stop offset="0.103" stop-color="#00e9ff"/>
<stop offset="0.128" stop-color="#00e9ff"/>
<stop offset="0.154" stop-color="#00e8ff"/>
<stop offset="0.179" stop-color="#00e7ff"/>
<stop offset="0.205" stop-color="#00e6ff"/>
<stop offset="0.231" stop-color="#00e5ff"/>
<stop offset="0.256" stop-color="#00e4ff"/>
<stop offset="0.282" stop-color="#59e3ff"/>
<stop offset="0.308" stop-color="#89e1ff"/>
<stop offset="0.333" stop-color="#ace0ff"/>
<stop offset="0.359" stop-color="#cadfff"/>
<stop offset="0.385" stop-color="#e5ddff"/>
<stop offset="0.410" stop-color="#ffdbff"/>
<stop offset="0.436" stop-color="#ffc6e9"/>
<stop offset="0.462" stop-color="#ffb4d6"/>
<stop offset="0.487" stop-color="#ffa4c6"/>
<stop offset="0.513" stop-color="#ff96b8"/>
<stop offset="0.538" stop-color="#ff89ab"/>
<stop offset="0.564" stop-color="#ff7ea0"/>
<stop offset="0.590" stop-color="#ff7295"/>
<stop offset="0.615" stop-color="#ff688c"/>
<stop offset="0.641" stop-color="#ff5d82"/>
<stop offset="0.667" stop-color="#ff537a"/>
<stop offset="0.692" stop-color="#ff4871"/>
<stop offset="0.718" stop-color="#ff3c69"/>
<stop offset="0.744" stop-color="#ff2f61"/>
<stop offset="0.769" stop-color="#ff1f59"/>
<stop offset="0.795" stop-color="#ff0051"/>
<stop offset="0.821" stop-color="#ff0048"/>
<stop offset="0.846" stop-color="#ff0040"/>
<stop offset="0.872" stop-color="#ff0036"/>
<stop offset="0.897" stop-color="#ff002c"/>
<stop offset="0.923" stop-color="#ff001f"/>
<stop offset="0.949" stop-color="#ff000a"/>
<stop offset="0.974" stop-color="#ff0000"/>
<stop offset="1.000" stop-color="#ff0000"/>
</linearGradient>
<linearGradient id="g79" gradientUnits="userSpaceOnUse" x1="299.5" x2="496.5" y1="0" y2="0">
<stop offset="0.000" stop-color="#00e8ff"/>
<stop offset="0.026" stop-color="#00e7ff"/>
<stop offset="0.051" stop-color="#00e7ff"/>
<stop offset="0.077" stop-color="#00e6ff"/>
<stop offset="0.103" stop-color="#00e5ff"/>
<stop offset="0.128" stop-color="#00e4ff"/>
<stop offset="0.154" stop-color="#00e3ff"/>
<stop offset="0.179" stop-color="#00e2ff"/>
<stop offset="0.205" stop-color="#00e1ff"/>
<stop offset="0.231" stop-color="#00e0ff"/>
<stop offset="0.256" stop-color="#00deff"/>
<stop offset="0.282" stop-color="#68ddff"/>
<stop offset="0.308" stop-color="#93dbff"/>
<stop offset="0.333" stop-color="#b4daff"/>
<stop offset="0.359" stop-color="#d1d8ff"/>
<stop offset="0.385" stop-color="#ebd6ff"/>
<stop offset="0.410" stop-color="#ffd0fa"/>
<stop offset="0.436" stop-color="#ffbce5"/>
<stop offset="0.462" stop-color="#ffaad3"/>
<stop offset="0.487" stop-color="#ff9bc4"/>
<stop offset="0.513" stop-color="#ff8eb6"/>
<stop offset="0.538" stop-color="#ff81aa"/>
<stop offset="0.564" stop-color="#ff759f"/>
<stop offset="0.590" stop-color="#ff6a94"/>
<stop offset="0.615" stop-color="#ff5f8b"/>
<stop offset="0.641" stop-color="#ff5482"/>
<stop offset="0.667" stop-color="#ff4979"/>
<stop offset="0.692" stop-color="#ff3d71"/>
<stop offset="0.718" stop-color="#ff2f69"/>
<stop offset="0.744" stop-color="#ff1e61"/>
<stop offset="0.769" stop-color="#ff0059"/>
<stop offset="0.795" stop-color="#ff0051"/>
<stop offset="0.821" stop-color="#ff0049"/>
<stop offset="0.846" stop-color="#ff0040"/>
<stop offset="0.872" stop-color="#ff0037"/>
<stop offset="0.897" stop-color="#ff002d"/>
<stop offset="0.923" stop-color="#ff0020"/>
<stop offset="0.949" stop-color="#ff000d"/>
<stop offset="0.974" stop-color="#ff0000"/>
<stop offset="1.000" stop-color="#ff0000"/>
</linearGradient>
<linearGradient id="g80" gradientUnits="userSpaceOnUse" x1="300.0" x2="498.5" y1="0" y2="0">
<stop offset="0.000" stop-color="#00e4ff"/>
<stop offset="0.025" stop-color="#00e3ff"/>
<stop offset="0.050" stop-color="#00e2ff"/>
<stop offset="0.075" stop-color="#00e2ff"/>
<stop offset="0.100" stop-color="#00e1ff"/>
<stop offset="0.125" stop-color="#00e0ff"/>
<stop offset="0.150" stop-color="#00deff"/>
<stop offset="0.175" stop-color="#00ddff"/>
<stop offset="0.200" stop-color="#00dcff"/>
<stop offset="0.225" stop-color="#00dbff"/>
<stop offset="0.250" stop-color="#08d9ff"/>
<stop offset="0.275" stop-color="#68d8ff"/>
<stop offset="0.300" stop-color="#91d6ff"/>
<stop offset="0.325" stop-color="#b1d4ff"/>
<stop offset="0.350" stop-color="#cdd2ff"/>
<stop offset="0.375" stop-color="#e7d0ff"/>
<stop offset="0.400" stop-color="#ffcdff"/>
<stop offset="0.425" stop-color="#ffb9ea"/>
<stop offset="0.450" stop-color="#ffa8d8"/>
<stop offset="0.475" stop-color="#ff99c8"/>
<stop offset="0.500" stop-color="#ff8bbb"/>
<stop offset="0.525" stop-color="#ff7fae"/>
<stop offset="0.550" stop-color="#ff73a3"/>
<stop offset="0.575" stop-color="#ff6899"/>
<stop offset="0.600" stop-color="#ff5d90"/>
<stop offset="0.625" stop-color="#ff5287"/>
<stop offset="0.650" stop-color="#ff467e"/>
<stop offset="0.675" stop-color="#ff3a76"/>
<stop offset="0.700" stop-color="#ff2b6e"/>
<stop offset="0.725" stop-color="#ff1866"/>
<stop offset="0.750" stop-color="#ff005f"/>
<stop offset="0.775" stop-color="#ff0057"/>
<stop offset="0.800" stop-color="#ff004f"/>
<stop offset="0.825" stop-color="#ff0048"/>
<stop offset="0.850" stop-color="#ff003f"/>
<stop offset="0.875" stop-color="#ff0036"/>
<stop offset="0.900" stop-color="#ff002c"/>
<stop offset="0.925" stop-color="#ff0020"/>
<stop offset="0.950" stop-color="#ff000f"/>
<stop offset="0.975" stop-color="#ff0000"/>
<stop offset="1.000" stop-color="#ff0000"/>
</linearGradient>
<linearGradient id="g81" gradientUnits="userSpaceOnUse" x1="300.5" x2="500.5" y1="0" y2="0">
<stop offset="0.000" stop-color="#00e0ff"/>
<stop offset="0.025" stop-color="#00dfff"/>
<stop offset="0.050" stop-color="#00deff"/>
<stop offset="0.075" stop-color="#00ddff"/>
<stop offset="0.100" stop-color="#00dcff"/>
<stop offset="0.125" stop-color="#00dbff"/>
<stop offset="0.150" stop-color="#00daff"/>
<stop offset="0.175" stop-color="#00d8ff"/>
<stop offset="0.200" stop-color="#00d7ff"/>
<stop offset="0.225" stop-color="#00d5ff"/>
<stop offset="0.250" stop-color="#38d4ff"/>
<stop offset="0.275" stop-color="#75d2ff"/>
<stop offset="0.300" stop-color="#9ad0ff"/>
<stop offset="0.325" stop-color="#b8ceff"/>
<stop offset="0.350" stop-color="#d3cbff"/>
<stop offset="0.375" stop-color="#ecc9ff"/>
<stop offset="0.400" stop-color="#ffc2fb"/>
<stop offset="0.425" stop-color="#ffafe6"/>
<stop offset="0.450" stop-color="#ff9fd5"/>
<stop offset="0.475" stop-color="#ff90c6"/>
<stop offset="0.500" stop-color="#ff83b9"/>
<stop offset="0.525" stop-color="#ff76ad"/>
<stop offset="0.550" stop-color="#ff6aa2"/>
<stop offset="0.575" stop-color="#ff5f98"/>
<stop offset="0.600" stop-color="#ff538f"/>
<stop offset="0.625" stop-color="#ff4786"/>
<stop offset="0.650" stop-color="#ff3a7e"/>
<stop offset="0.675" stop-color="#ff2c76"/>
<stop offset="0.700" stop-color="#ff176e"/>
<stop offset="0.725" stop-color="#ff0066"/>
<stop offset="0.750" stop-color="#ff005f"/>
<stop offset="0.775" stop-color="#ff0057"/>
<stop offset="0.800" stop-color="#ff0050"/>
<stop offset="0.825" stop-color="#ff0048"/>
<stop offset="0.850" stop-color="#ff0040"/>
<stop offset="0.875" stop-color="#ff0037"/>
<stop offset="0.900" stop-color="#ff002d"/>
<stop offset="0.925" stop-color="#ff0022"/>
<stop offset="0.950" stop-color="#ff0011"/>
<stop offset="0.975" stop-color="#ff0000"/>
<stop offset="1.000" stop-color="#ff0000"/>
</linearGradient>
<linearGradient id="g82" gradientUnits="userSpaceOnUse" x1="301.0" x2="502.5" y1="0" y2="0">
<stop offset="0.000" stop-color="#00dcff"/>
<stop offset="0.025" stop-color="#00dbff"/>
<stop offset="0.050" stop-color="#00daff"/>
<stop offset="0.075" stop-color="#00d9ff"/>
<stop offset="0.100" stop-color="#00d8ff"/>
<stop offset="0.125" stop-color="#00d6ff"/>
<stop offset="0.150" stop-color="#00d5ff"/>
<stop offset="0.175" stop-color="#00d3ff"/>
<stop offset="0.200" stop-color="#00d2ff"/>
<stop offset="0.225" stop-color="#00d0ff"/>
<stop offset="0.250" stop-color="#4eceff"/>
<stop offset="0.275" stop-color="#7fccff"/>
<stop offset="0.300" stop-color="#a2caff"/>
<stop offset="0.325" stop-color="#bfc7ff"/>
<stop offset="0.350" stop-color="#d9c4ff"/>
<stop offset="0.375" stop-color="#f1c1ff"/>
<stop offset="0.400" stop-color="#ffb7f6"/>
<stop offset="0.425" stop-color="#ffa5e3"/>
<stop offset="0.450" stop-color="#ff95d2"/>
<stop offset="0.475" stop-color="#ff87c4"/>
<stop offset="0.500" stop-color="#ff7ab7"/>
<stop offset="0.525" stop-color="#ff6dab"/>
<stop offset="0.550" stop-color="#ff61a1"/>
<stop offset="0.575" stop-color="#ff5597"/>
<stop offset="0.600" stop-color="#ff498e"/>
<stop offset="0.625" stop-color="#ff3c85"/>
<stop offset="0.650" stop-color="#ff2c7d"/>
<stop offset="0.675" stop-color="#ff1775"/>
<stop offset="0.700" stop-color="#ff006e"/>
<stop offset="0.725" stop-color="#ff0066"/>
<stop offset="0.750" stop-color="#ff005f"/>
<stop offset="0.775" stop-color="#ff0057"/>
<stop offset="0.800" stop-color="#ff0050"/>
<stop offset="0.825" stop-color="#ff0048"/>
<stop offset="0.850" stop-color="#ff0040"/>
<stop offset="0.875" stop-color="#ff0038"/>
<stop offset="0.900" stop-color="#ff002e"/>
<stop offset="0.925" stop-color="#ff0023"/>
<stop offset="0.950" stop-color="#ff0013"/>
<stop offset="0.975" stop-color="#ff0000"/>
<stop offset="1.000" stop-color="#ff0000"/>
</linearGradient>
<linearGradient id="g83" gradientUnits="userSpaceOnUse" x1="301.5" x2="499.5" y1="0" y2="0">
<stop offset="0.000" stop-color="#00d8ff"/>
<stop offset="0.025" stop-color="#00d7ff"/>
<stop offset="0.050" stop-color="#00d6ff"/>
<stop offset="0.075" stop-color="#00d5ff"/>
<stop offset="0.100" stop-color="#00d3ff"/>
<stop offset="0.125" stop-color="#00d2ff"/>
<stop offset="0.150" stop-color="#00d0ff"/>
<stop offset="0.175" stop-color="#00cfff"/>
<stop offset="0.200" stop-color="#00cdff"/>
<stop offset="0.225" stop-color="#00cbff"/>
<stop offset="0.250" stop-color="#4fc9ff"/>
<stop offset="0.275" stop-color="#7fc7ff"/>
<stop offset="0.300" stop-color="#a0c4ff"/>
<stop offset="0.325" stop-color="#bcc1ff"/>
<stop offset="0.350" stop-color="#d6beff"/>
<stop offset="0.375" stop-color="#edbbff"/>
<stop offset="0.400" stop-color="#ffb4fb"/>
<stop offset="0.425" stop-color="#ffa2e7"/>
<stop offset="0.450" stop-color="#ff92d7"/>
<stop offset="0.475" stop-color="#ff84c8"/>
<stop offset="0.500" stop-color="#ff77bb"/>
<stop offset="0.525" stop-color="#ff6ab0"/>
<stop offset="0.550" stop-color="#ff5ea5"/>
<stop offset="0.575" stop-color="#ff529c"/>
<stop offset="0.600" stop-color="#ff4592"/>
<stop offset="0.625" stop-color="#ff378a"/>
<stop offset="0.650" stop-color="#ff2782"/>
<stop offset="0.675" stop-color="#ff0b7a"/>
<stop offset="0.700" stop-color="#ff0072"/>
<stop offset="0.725" stop-color="#ff006b"/>
<stop offset="0.750" stop-color="#ff0064"/>
<stop offset="0.775" stop-color="#ff005d"/>
<stop offset="0.800" stop-color="#ff0056"/>
<stop offset="0.825" stop-color="#ff004e"/>
<stop offset="0.850" stop-color="#ff0047"/>
<stop offset="0.875" stop-color="#ff003f"/>
<stop offset="0.900" stop-color="#ff0037"/>
<stop offset="0.925" stop-color="#ff002e"/>
<stop offset="0.950" stop-color="#ff0023"/>
<stop offset="0.975" stop-color="#ff0015"/>
<stop offset="1.000" stop-color="#ff0000"/>
</linearGradient>
<linearGradient id="g84" gradientUnits="userSpaceOnUse" x1="302.0" x2="495.5" y1="0" y2="0">
<stop offset="0.000" stop-color="#00d5ff"/>
<stop offset="0.026" stop-color="#00d3ff"/>
<stop offset="0.051" stop-color="#00d2ff"/>
<stop offset="0.077" stop-color="#00d1ff"/>
<stop offset="0.103" stop-color="#00cfff"/>
<stop offset="0.128" stop-color="#00cdff"/>
<stop offset="0.154" stop-color="#00ccff"/>
<stop offset="0.179" stop-color="#00caff"/>
<stop offset="0.205" stop-color="#00c8ff"/>
<stop offset="0.231" stop-color="#00c6ff"/>
<stop offset="0.256" stop-color="#5cc3ff"/>
<stop offset="0.282" stop-color="#86c1ff"/>
<stop offset="0.308" stop-color="#a6beff"/>
<stop offset="0.333" stop-color="#c1bbff"/>
<stop offset="0.359" stop-color="#d9b8ff"/>
<stop offset="0.385" stop-color="#f0b4ff"/>
<stop offset="0.410" stop-color="#ffabf8"/>
<stop offset="0.436" stop-color="#ff99e5"/>
<stop offset="0.462" stop-color="#ff8ad5"/>
<stop offset="0.487" stop-color="#ff7cc7"/>
<stop offset="0.513" stop-color="#ff6fbb"/>
<stop offset="0.538" stop-color="#ff62b0"/>
<stop offset="0.564" stop-color="#ff55a5"/>
<stop offset="0.590" stop-color="#ff489c"/>
<stop offset="0.615" stop-color="#ff3a93"/>
<stop offset="0.641" stop-color="#ff2a8a"/>
<stop offset="0.667" stop-color="#ff1082"/>
<stop offset="0.692" stop-color="#ff007b"/>
<stop offset="0.718" stop-color="#ff0073"/>
<stop offset="0.744" stop-color="#ff006c"/>
<stop offset="0.769" stop-color="#ff0065"/>
<stop offset="0.795" stop-color="#ff005e"/>
<stop offset="0.821" stop-color="#ff0057"/>
<stop offset="0.846" stop-color="#ff0050"/>
<stop offset="0.872" stop-color="#ff0049"/>
<stop offset="0.897" stop-color="#ff0041"/>
<stop offset="0.923" stop-color="#ff0039"/>
<stop offset="0.949" stop-color="#ff0030"/>
<stop offset="0.974" stop-color="#ff0026"/>
<stop offset="1.000" stop-color="#ff0019"/>
</linearGradient>
<linearGradient id="g85" gradientUnits="userSpaceOnUse" x1="302.5" x2="491.0" y1="0" y2="0">
<stop offset="0.000" stop-color="#00d1ff"/>
<stop offset="0.026" stop-color="#00cfff"/>
<stop offset="0.053" stop-color="#00ceff"/>
<stop offset="0.079" stop-color="#00ccff"/>
<stop offset="0.105" stop-color="#00cbff"/>
<stop offset="0.132" stop-color="#00c9ff"/>
<stop offset="0.158" stop-color="#00c7ff"/>
<stop offset="0.184" stop-color="#00c5ff"/>
<stop offset="0.211" stop-color="#00c3ff"/>
<stop offset="0.237" stop-color="#18c0ff"/>
<stop offset="0.263" stop-color="#66beff"/>
<stop offset="0.289" stop-color="#8cbbff"/>
<stop offset="0.316" stop-color="#aab8ff"/>
<stop offset="0.342" stop-color="#c4b4ff"/>
<stop offset="0.368" stop-color="#dcb1ff"/>
<stop offset="0.395" stop-color="#f2adff"/>
<stop offset="0.421" stop-color="#ffa2f7"/>
<stop offset="0.447" stop-color="#ff91e5"/>
<stop offset="0.474" stop-color="#ff82d5"/>
<stop offset="0.500" stop-color="#ff74c7"/>
<stop offset="0.526" stop-color="#ff67bb"/>
<stop offset="0.553" stop-color="#ff59b0"/>
<stop offset="0.579" stop-color="#ff4ca6"/>
<stop offset="0.605" stop-color="#ff3e9c"/>
<stop offset="0.632" stop-color="#ff2e93"/>
<stop offset="0.658" stop-color="#ff178b"/>
<stop offset="0.684" stop-color="#ff0083"/>
<stop offset="0.711" stop-color="#ff007c"/>
<stop offset="0.737" stop-color="#ff0074"/>
<stop offset="0.763" stop-color="#ff006d"/>
<stop offset="0.789" stop-color="#ff0066"/>
<stop offset="0.816" stop-color="#ff005f"/>
<stop offset="0.842" stop-color="#ff0059"/>
<stop offset="0.868" stop-color="#ff0052"/>
<stop offset="0.895" stop-color="#ff004b"/>
<stop offset="0.921" stop-color="#ff0043"/>
<stop offset="0.947" stop-color="#ff003c"/>
<stop offset="0.974" stop-color="#ff0033"/>
<stop offset="1.000" stop-color="#ff002a"/>
</linearGradient>
<linearGradient id="g86" gradientUnits="userSpaceOnUse" x1="303.0" x2="486.5" y1="0" y2="0">
<stop offset="0.000" stop-color="#00cdff"/>
<stop offset="0.027" stop-color="#00cbff"/>
<stop offset="0.054" stop-color="#00caff"/>
<stop offset="0.081" stop-color="#00c8ff"/>
<stop offset="0.108" stop-color="#00c6ff"/>
<stop offset="0.135" stop-color="#00c4ff"/>
<stop offset="0.162" stop-color="#00c2ff"/>
<stop offset="0.189" stop-color="#00c0ff"/>
<stop offset="0.216" stop-color="#00bdff"/>
<stop offset="0.243" stop-color="#33bbff"/>
<stop offset="0.270" stop-color="#6eb8ff"/>
<stop offset="0.297" stop-color="#91b5ff"/>
<stop offset="0.324" stop-color="#aeb2ff"/>
<stop offset="0.351" stop-color="#c7aeff"/>
<stop offset="0.378" stop-color="#deaaff"/>
<stop offset="0.405" stop-color="#f4a5ff"/>
<stop offset="0.432" stop-color="#ff9af5"/>
<stop offset="0.459" stop-color="#ff89e4"/>
<stop offset="0.486" stop-color="#ff7ad4"/>
<stop offset="0.514" stop-color="#ff6cc7"/>
<stop offset="0.541" stop-color="#ff5ebb"/>
<stop offset="0.568" stop-color="#ff50b0"/>
<stop offset="0.595" stop-color="#ff42a6"/>
<stop offset="0.622" stop-color="#ff329d"/>
<stop offset="0.649" stop-color="#ff1d94"/>
<stop offset="0.676" stop-color="#ff008c"/>
<stop offset="0.703" stop-color="#ff0084"/>
<stop offset="0.730" stop-color="#ff007d"/>
<stop offset="0.757" stop-color="#ff0076"/>
<stop offset="0.784" stop-color="#ff006f"/>
<stop offset="0.811" stop-color="#ff0068"/>
<stop offset="0.838" stop-color="#ff0061"/>
<stop offset="0.865" stop-color="#ff005a"/>
<stop offset="0.892" stop-color="#ff0053"/>
<stop offset="0.919" stop-color="#ff004d"/>
<stop offset="0.946" stop-color="#ff0046"/>
<stop offset="0.973" stop-color="#ff003e"/>
<stop offset="1.000" stop-color="#ff0036"/>
</linearGradient>
<linearGradient id="g87" gradientUnits="userSpaceOnUse" x1="303.5" x2="482.5" y1="0" y2="0">
<stop offset="0.000" stop-color="#00c9ff"/>
<stop offset="0.028" stop-color="#00c7ff"/>
<stop offset="0.056" stop-color="#00c5ff"/>
<stop offset="0.083" stop-color="#00c4ff"/>
<stop offset="0.111" stop-color="#00c2ff"/>
<stop offset="0.139" stop-color="#00bfff"/>
<stop offset="0.167" stop-color="#00bdff"/>
<stop offset="0.194" stop-color="#00bbff"/>
<stop offset="0.222" stop-color="#00b8ff"/>
<stop offset="0.250" stop-color="#45b5ff"/>
<stop offset="0.278" stop-color="#76b2ff"/>
<stop offset="0.306" stop-color="#97afff"/>
<stop offset="0.333" stop-color="#b3abff"/>
<stop offset="0.361" stop-color="#cba7ff"/>
<stop offset="0.389" stop-color="#e1a2ff"/>
<stop offset="0.417" stop-color="#f79dff"/>
<stop offset="0.444" stop-color="#ff90f3"/>
<stop offset="0.472" stop-color="#ff80e2"/>
<stop offset="0.500" stop-color="#ff71d3"/>
<stop offset="0.528" stop-color="#ff62c6"/>
<stop offset="0.556" stop-color="#ff54ba"/>
<stop offset="0.583" stop-color="#ff46b0"/>
<stop offset="0.611" stop-color="#ff35a6"/>
<stop offset="0.639" stop-color="#ff219d"/>
<stop offset="0.667" stop-color="#ff0094"/>
<stop offset="0.694" stop-color="#ff008c"/>
<stop offset="0.722" stop-color="#ff0085"/>
<stop offset="0.750" stop-color="#ff007d"/>
<stop offset="0.778" stop-color="#ff0076"/>
<stop offset="0.806" stop-color="#ff006f"/>
<stop offset="0.833" stop-color="#ff0069"/>
<stop offset="0.861" stop-color="#ff0062"/>
<stop offset="0.889" stop-color="#ff005b"/>
<stop offset="0.917" stop-color="#ff0055"/>
<stop offset="0.944" stop-color="#ff004e"/>
<stop offset="0.972" stop-color="#ff0047"/>
<stop offset="1.000" stop-color="#ff0040"/>
</linearGradient>
<linearGradient id="g88" gradientUnits="userSpaceOnUse" x1="304.0" x2="478.0" y1="0" y2="0">
<stop offset="0.000" stop-color="#00c5ff"/>
<stop offset="0.029" stop-color="#00c3ff"/>
<stop offset="0.057" stop-color="#00c1ff"/>
<stop offset="0.086" stop-color="#00bfff"/>
<stop offset="0.114" stop-color="#00bdff"/>
<stop offset="0.143" stop-color="#00bbff"/>
<stop offset="0.171" stop-color="#00b8ff"/>
<stop offset="0.200" stop-color="#00b6ff"/>
<stop offset="0.229" stop-color="#00b3ff"/>
<stop offset="0.257" stop-color="#52b0ff"/>
<stop offset="0.286" stop-color="#7dacff"/>
<stop offset="0.314" stop-color="#9ca9ff"/>
<stop offset="0.343" stop-color="#b6a4ff"/>
<stop offset="0.371" stop-color="#cea0ff"/>
<stop offset="0.400" stop-color="#e49bff"/>
<stop offset="0.429" stop-color="#f895ff"/>
<stop offset="0.457" stop-color="#ff87f2"/>
<stop offset="0.486" stop-color="#ff77e1"/>
<stop offset="0.514" stop-color="#ff68d3"/>
<stop offset="0.543" stop-color="#ff59c6"/>
<stop offset="0.571" stop-color="#ff4abb"/>
<stop offset="0.600" stop-color="#ff3ab0"/>
<stop offset="0.629" stop-color="#ff26a6"/>
<stop offset="0.657" stop-color="#ff009d"/>
<stop offset="0.686" stop-color="#ff0095"/>
<stop offset="0.714" stop-color="#ff008d"/>
<stop offset="0.743" stop-color="#ff0085"/>
<stop offset="0.771" stop-color="#ff007e"/>
<stop offset="0.800" stop-color="#ff0077"/>
<stop offset="0.829" stop-color="#ff0070"/>
<stop offset="0.857" stop-color="#ff006a"/>
<stop offset="0.886" stop-color="#ff0063"/>
<stop offset="0.914" stop-color="#ff005d"/>
<stop offset="0.943" stop-color="#ff0056"/>
<stop offset="0.971" stop-color="#ff0050"/>
<stop offset="1.000" stop-color="#ff0049"/>
</linearGradient>
<linearGradient id="g89" gradientUnits="userSpaceOnUse" x1="304.5" x2="474.0" y1="0" y2="0">
<stop offset="0.000" stop-color="#00c1ff"/>
<stop offset="0.029" stop-color="#00bfff"/>
<stop offset="0.059" stop-color="#00bdff"/>
<stop offset="0.088" stop-color="#00bbff"/>
<stop offset="0.118" stop-color="#00b8ff"/>
<stop offset="0.147" stop-color="#00b6ff"/>
<stop offset="0.176" stop-color="#00b3ff"/>
<stop offset="0.206" stop-color="#00b0ff"/>
<stop offset="0.235" stop-color="#00adff"/>
<stop offset="0.265" stop-color="#5daaff"/>
<stop offset="0.294" stop-color="#84a6ff"/>
<stop offset="0.324" stop-color="#a1a2ff"/>
<stop offset="0.353" stop-color="#bb9eff"/>
<stop offset="0.382" stop-color="#d199ff"/>
<stop offset="0.412" stop-color="#e793ff"/>
<stop offset="0.441" stop-color="#fb8dff"/>
<stop offset="0.471" stop-color="#ff7df0"/>
<stop offset="0.500" stop-color="#ff6de0"/>
<stop offset="0.529" stop-color="#ff5ed2"/>
<stop offset="0.559" stop-color="#ff4ec5"/>
<stop offset="0.588" stop-color="#ff3dba"/>
<stop offset="0.618" stop-color="#ff2ab0"/>
<stop offset="0.647" stop-color="#ff06a6"/>
<stop offset="0.676" stop-color="#ff009d"/>
<stop offset="0.706" stop-color="#ff0095"/>
<stop offset="0.735" stop-color="#ff008d"/>
<stop offset="0.765" stop-color="#ff0086"/>
<stop offset="0.794" stop-color="#ff007f"/>
<stop offset="0.824" stop-color="#ff0078"/>
<stop offset="0.853" stop-color="#ff0071"/>
<stop offset="0.882" stop-color="#ff006a"/>
<stop offset="0.912" stop-color="#ff0064"/>
<stop offset="0.941" stop-color="#ff005e"/>
<stop offset="0.971" stop-color="#ff0057"/>
<stop offset="1.000" stop-color="#ff0051"/>
</linearGradient>
<linearGradient id="g90" gradientUnits="userSpaceOnUse" x1="305.0" x2="469.5" y1="0" y2="0">
<stop offset="0.000" stop-color="#00bdff"/>
<stop offset="0.030" stop-color="#00bbff"/>
<stop offset="0.061" stop-color="#00b8ff"/>
<stop offset="0.091" stop-color="#00b6ff"/>
<stop offset="0.121" stop-color="#00b4ff"/>
<stop offset="0.152" stop-color="#00b1ff"/>
<stop offset="0.182" stop-color="#00aeff"/>
<stop offset="0.212" stop-color="#00abff"/>
<stop offset="0.242" stop-color="#26a8ff"/>
<stop offset="0.273" stop-color="#65a4ff"/>
<stop offset="0.303" stop-color="#89a0ff"/>
<stop offset="0.333" stop-color="#a59cff"/>
<stop offset="0.364" stop-color="#be97ff"/>
<stop offset="0.394" stop-color="#d491ff"/>
<stop offset="0.424" stop-color="#e98bff"/>
<stop offset="0.455" stop-color="#fd84ff"/>
<stop offset="0.485" stop-color="#ff74ef"/>
<stop offset="0.515" stop-color="#ff63df"/>
<stop offset="0.545" stop-color="#ff53d1"/>
<stop offset="0.576" stop-color="#ff42c5"/>
<stop offset="0.606" stop-color="#ff2fba"/>
<stop offset="0.636" stop-color="#ff11b0"/>
<stop offset="0.667" stop-color="#ff00a7"/>
<stop offset="0.697" stop-color="#ff009e"/>
<stop offset="0.727" stop-color="#ff0096"/>
<stop offset="0.758" stop-color="#ff008e"/>
<stop offset="0.788" stop-color="#ff0087"/>
<stop offset="0.818" stop-color="#ff0080"/>
<stop offset="0.848" stop-color="#ff0079"/>
<stop offset="0.879" stop-color="#ff0072"/>
<stop offset="0.909" stop-color="#ff006c"/>
<stop offset="0.939" stop-color="#ff0065"/>
<stop offset="0.970" stop-color="#ff005f"/>
<stop offset="1.000" stop-color="#ff0059"/>
</linearGradient>
<linearGradient id="g91" gradientUnits="userSpaceOnUse" x1="305.5" x2="465.5" y1="0" y2="0">
<stop offset="0.000" stop-color="#00b9ff"/>
<stop offset="0.031" stop-color="#00b6ff"/>
<stop offset="0.062" stop-color="#00b4ff"/>
<stop offset="0.094" stop-color="#00b2ff"/>
<stop offset="0.125" stop-color="#00afff"/>
<stop offset="0.156" stop-color="#00acff"/>
<stop offset="0.188" stop-color="#00a9ff"/>
<stop offset="0.219" stop-color="#00a6ff"/>
<stop offset="0.250" stop-color="#3ba2ff"/>
<stop offset="0.281" stop-color="#6e9eff"/>
<stop offset="0.312" stop-color="#8f9aff"/>
<stop offset="0.344" stop-color="#aa95ff"/>
<stop offset="0.375" stop-color="#c28fff"/>
<stop offset="0.406" stop-color="#d789ff"/>
<stop offset="0.438" stop-color="#ec83ff"/>
<stop offset="0.469" stop-color="#ff7bff"/>
<stop offset="0.500" stop-color="#ff69ed"/>
<stop offset="0.531" stop-color="#ff58de"/>
<stop offset="0.562" stop-color="#ff46d0"/>
<stop offset="0.594" stop-color="#ff33c4"/>
<stop offset="0.625" stop-color="#ff17b9"/>
<stop offset="0.656" stop-color="#ff00b0"/>
<stop offset="0.688" stop-color="#ff00a6"/>
<stop offset="0.719" stop-color="#ff009e"/>
<stop offset="0.750" stop-color="#ff0096"/>
<stop offset="0.781" stop-color="#ff008e"/>
<stop offset="0.812" stop-color="#ff0087"/>
<stop offset="0.844" stop-color="#ff0080"/>
<stop offset="0.875" stop-color="#ff0079"/>
<stop offset="0.906" stop-color="#ff0073"/>
<stop offset="0.938" stop-color="#ff006c"/>
<stop offset="0.969" stop-color="#ff0066"/>
<stop offset="1.000" stop-color="#ff0060"/>
</linearGradient>
<linearGradient id="g92" gradientUnits="userSpaceOnUse" x1="306.0" x2="461.0" y1="0" y2="0">
<stop offset="0.000" stop-color="#00b4ff"/>
<stop offset="0.032" stop-color="#00b2ff"/>
<stop offset="0.065" stop-color="#00b0ff"/>
<stop offset="0.097" stop-color="#00adff"/>
<stop offset="0.129" stop-color="#00aaff"/>
<stop offset="0.161" stop-color="#00a7ff"/>
<stop offset="0.194" stop-color="#00a4ff"/>
<stop offset="0.226" stop-color="#00a0ff"/>
<stop offset="0.258" stop-color="#499cff"/>
<stop offset="0.290" stop-color="#7598ff"/>
<stop offset="0.323" stop-color="#9493ff"/>
<stop offset="0.355" stop-color="#ae8eff"/>
<stop offset="0.387" stop-color="#c588ff"/>
<stop offset="0.419" stop-color="#da81ff"/>
<stop offset="0.452" stop-color="#ee7aff"/>
<stop offset="0.484" stop-color="#ff70fd"/>
<stop offset="0.516" stop-color="#ff5eec"/>
<stop offset="0.548" stop-color="#ff4cdd"/>
<stop offset="0.581" stop-color="#ff38d0"/>
<stop offset="0.613" stop-color="#ff1ec4"/>
<stop offset="0.645" stop-color="#ff00ba"/>
<stop offset="0.677" stop-color="#ff00b0"/>
<stop offset="0.710" stop-color="#ff00a7"/>
<stop offset="0.742" stop-color="#ff009e"/>
<stop offset="0.774" stop-color="#ff0096"/>
<stop offset="0.806" stop-color="#ff008f"/>
<stop offset="0.839" stop-color="#ff0088"/>
<stop offset="0.871" stop-color="#ff0081"/>
<stop offset="0.903" stop-color="#ff007a"/>
<stop offset="0.935" stop-color="#ff0074"/>
<stop offset="0.968" stop-color="#ff006d"/>
<stop offset="1.000" stop-color="#ff0067"/>
</linearGradient>
<linearGradient id="g93" gradientUnits="userSpaceOnUse" x1="306.5" x2="457.0" y1="0" y2="0">
<stop offset="0.000" stop-color="#00b0ff"/>
<stop offset="0.033" stop-color="#00aeff"/>
<stop offset="0.067" stop-color="#00abff"/>
<stop offset="0.100" stop-color="#00a8ff"/>
<stop offset="0.133" stop-color="#00a5ff"/>
<stop offset="0.167" stop-color="#00a2ff"/>
<stop offset="0.200" stop-color="#009eff"/>
<stop offset="0.233" stop-color="#009aff"/>
<stop offset="0.267" stop-color="#5596ff"/>
<stop offset="0.300" stop-color="#7c91ff"/>
<stop offset="0.333" stop-color="#998cff"/>
<stop offset="0.367" stop-color="#b286ff"/>
<stop offset="0.400" stop-color="#c880ff"/>
<stop offset="0.433" stop-color="#dd78ff"/>
<stop offset="0.467" stop-color="#f070ff"/>
<stop offset="0.500" stop-color="#ff64fb"/>
<stop offset="0.533" stop-color="#ff51ea"/>
<stop offset="0.567" stop-color="#ff3ddc"/>
<stop offset="0.600" stop-color="#ff23cf"/>
<stop offset="0.633" stop-color="#ff00c3"/>
<stop offset="0.667" stop-color="#ff00b9"/>
<stop offset="0.700" stop-color="#ff00af"/>
<stop offset="0.733" stop-color="#ff00a6"/>
<stop offset="0.767" stop-color="#ff009e"/>
<stop offset="0.800" stop-color="#ff0096"/>
<stop offset="0.833" stop-color="#ff008f"/>
<stop offset="0.867" stop-color="#ff0088"/>
<stop offset="0.900" stop-color="#ff0081"/>
<stop offset="0.933" stop-color="#ff007a"/>
<stop offset="0.967" stop-color="#ff0074"/>
<stop offset="1.000" stop-color="#ff006e"/>
</linearGradient>
<linearGradient id="g94" gradientUnits="userSpaceOnUse" x1="307.0" x2="452.5" y1="0" y2="0">
<stop offset="0.000" stop-color="#00acff"/>
<stop offset="0.034" stop-color="#00a9ff"/>
<stop offset="0.069" stop-color="#00a7ff"/>
<stop offset="0.103" stop-color="#00a4ff"/>
<stop offset="0.138" stop-color="#00a0ff"/>
<stop offset="0.172" stop-color="#009dff"/>
<stop offset="0.207" stop-color="#0099ff"/>
<stop offset="0.241" stop-color="#1395ff"/>
<stop offset="0.276" stop-color="#5e90ff"/>
<stop offset="0.310" stop-color="#828bff"/>
<stop offset="0.345" stop-color="#9e85ff"/>
<stop offset="0.379" stop-color="#b57fff"/>
<stop offset="0.414" stop-color="#cb78ff"/>
<stop offset="0.448" stop-color="#df6fff"/>
<stop offset="0.483" stop-color="#f265ff"/>
<stop offset="0.517" stop-color="#ff57fa"/>
<stop offset="0.552" stop-color="#ff43e9"/>
<stop offset="0.586" stop-color="#ff2adb"/>
<stop offset="0.621" stop-color="#ff00cf"/>
<stop offset="0.655" stop-color="#ff00c3"/>
<stop offset="0.690" stop-color="#ff00b9"/>
<stop offset="0.724" stop-color="#ff00b0"/>
<stop offset="0.759" stop-color="#ff00a7"/>
<stop offset="0.793" stop-color="#ff009f"/>
<stop offset="0.828" stop-color="#ff0097"/>
<stop offset="0.862" stop-color="#ff008f"/>
<stop offset="0.897" stop-color="#ff0088"/>
<stop offset="0.931" stop-color="#ff0082"/>
<stop offset="0.966" stop-color="#ff007b"/>
<stop offset="1.000" stop-color="#ff0075"/>
</linearGradient>
<linearGradient id="g95" gradientUnits="userSpaceOnUse" x1="308.0" x2="448.0" y1="0" y2="0">
<stop offset="0.000" stop-color="#00a7ff"/>
<stop offset="0.036" stop-color="#00a5ff"/>
<stop offset="0.071" stop-color="#00a2ff"/>
<stop offset="0.107" stop-color="#009eff"/>
<stop offset="0.143" stop-color="#009bff"/>
<stop offset="0.179" stop-color="#0097ff"/>
<stop offset="0.214" stop-color="#0093ff"/>
<stop offset="0.250" stop-color="#358eff"/>
<stop offset="0.286" stop-color="#6889ff"/>
<stop offset="0.321" stop-color="#8984ff"/>
<stop offset="0.357" stop-color="#a37eff"/>
<stop offset="0.393" stop-color="#ba77ff"/>
<stop offset="0.429" stop-color="#cf6eff"/>
<stop offset="0.464" stop-color="#e265ff"/>
<stop offset="0.500" stop-color="#f559ff"/>
<stop offset="0.536" stop-color="#ff48f7"/>
<stop offset="0.571" stop-color="#ff2fe8"/>
<stop offset="0.607" stop-color="#ff00da"/>
<stop offset="0.643" stop-color="#ff00ce"/>
<stop offset="0.679" stop-color="#ff00c3"/>
<stop offset="0.714" stop-color="#ff00b9"/>
<stop offset="0.750" stop-color="#ff00af"/>
<stop offset="0.786" stop-color="#ff00a7"/>
<stop offset="0.821" stop-color="#ff009f"/>
<stop offset="0.857" stop-color="#ff0097"/>
<stop offset="0.893" stop-color="#ff0090"/>
<stop offset="0.929" stop-color="#ff0089"/>
<stop offset="0.964" stop-color="#ff0083"/>
<stop offset="1.000" stop-color="#ff007c"/>
</linearGradient>
<linearGradient id="g96" gradientUnits="userSpaceOnUse" x1="308.5" x2="444.0" y1="0" y2="0">
<stop offset="0.000" stop-color="#00a3ff"/>
<stop offset="0.037" stop-color="#00a0ff"/>
<stop offset="0.074" stop-color="#009dff"/>
<stop offset="0.111" stop-color="#0099ff"/>
<stop offset="0.148" stop-color="#0096ff"/>
<stop offset="0.185" stop-color="#0091ff"/>
<stop offset="0.222" stop-color="#008dff"/>
<stop offset="0.259" stop-color="#4488ff"/>
<stop offset="0.296" stop-color="#7083ff"/>
<stop offset="0.333" stop-color="#8f7cff"/>
<stop offset="0.370" stop-color="#a876ff"/>
<stop offset="0.407" stop-color="#be6eff"/>
<stop offset="0.444" stop-color="#d264ff"/>
<stop offset="0.481" stop-color="#e559ff"/>
<stop offset="0.519" stop-color="#f74bff"/>
<stop offset="0.556" stop-color="#ff35f5"/>
<stop offset="0.593" stop-color="#ff0be6"/>
<stop offset="0.630" stop-color="#ff00d9"/>
<stop offset="0.667" stop-color="#ff00cd"/>
<stop offset="0.704" stop-color="#ff00c2"/>
<stop offset="0.741" stop-color="#ff00b8"/>
<stop offset="0.778" stop-color="#ff00af"/>
<stop offset="0.815" stop-color="#ff00a7"/>
<stop offset="0.852" stop-color="#ff009f"/>
<stop offset="0.889" stop-color="#ff0097"/>
<stop offset="0.926" stop-color="#ff0090"/>
<stop offset="0.963" stop-color="#ff0089"/>
<stop offset="1.000" stop-color="#ff0083"/>
</linearGradient>
<linearGradient id="g97" gradientUnits="userSpaceOnUse" x1="309.0" x2="439.5" y1="0" y2="0">
<stop offset="0.000" stop-color="#009fff"/>
<stop offset="0.038" stop-color="#009bff"/>
<stop offset="0.077" stop-color="#0098ff"/>
<stop offset="0.115" stop-color="#0094ff"/>
<stop offset="0.154" stop-color="#0090ff"/>
<stop offset="0.192" stop-color="#008cff"/>
<stop offset="0.231" stop-color="#0087ff"/>
<stop offset="0.269" stop-color="#4f82ff"/>
<stop offset="0.308" stop-color="#767cff"/>
<stop offset="0.346" stop-color="#9375ff"/>
<stop offset="0.385" stop-color="#ab6dff"/>
<stop offset="0.423" stop-color="#c164ff"/>
<stop offset="0.462" stop-color="#d45aff"/>
<stop offset="0.500" stop-color="#e74cff"/>
<stop offset="0.538" stop-color="#f93aff"/>
<stop offset="0.577" stop-color="#ff18f4"/>
<stop offset="0.615" stop-color="#ff00e5"/>
<stop offset="0.654" stop-color="#ff00d8"/>
<stop offset="0.692" stop-color="#ff00cd"/>
<stop offset="0.731" stop-color="#ff00c2"/>
<stop offset="0.769" stop-color="#ff00b8"/>
<stop offset="0.808" stop-color="#ff00af"/>
<stop offset="0.846" stop-color="#ff00a7"/>
<stop offset="0.885" stop-color="#ff009f"/>
<stop offset="0.923" stop-color="#ff0098"/>
<stop offset="0.962" stop-color="#ff0091"/>
<stop offset="1.000" stop-color="#ff008a"/>
</linearGradient>
<linearGradient id="g98" gradientUnits="userSpaceOnUse" x1="310.0" x2="435.5" y1="0" y2="0">
<stop offset="0.000" stop-color="#009aff"/>
<stop offset="0.040" stop-color="#0096ff"/>
<stop offset="0.080" stop-color="#0093ff"/>
<stop offset="0.120" stop-color="#008fff"/>
<stop offset="0.160" stop-color="#008aff"/>
<stop offset="0.200" stop-color="#0086ff"/>
<stop offset="0.240" stop-color="#1980ff"/>
<stop offset="0.280" stop-color="#5d7aff"/>
<stop offset="0.320" stop-color="#7f74ff"/>
<stop offset="0.360" stop-color="#9a6cff"/>
<stop offset="0.400" stop-color="#b164ff"/>
<stop offset="0.440" stop-color="#c559ff"/>
<stop offset="0.480" stop-color="#d84cff"/>
<stop offset="0.520" stop-color="#eb3bff"/>
<stop offset="0.560" stop-color="#fc1dff"/>
<stop offset="0.600" stop-color="#ff00f1"/>
<stop offset="0.640" stop-color="#ff00e3"/>
<stop offset="0.680" stop-color="#ff00d7"/>
<stop offset="0.720" stop-color="#ff00cb"/>
<stop offset="0.760" stop-color="#ff00c1"/>
<stop offset="0.800" stop-color="#ff00b7"/>
<stop offset="0.840" stop-color="#ff00af"/>
<stop offset="0.880" stop-color="#ff00a6"/>
<stop offset="0.920" stop-color="#ff009f"/>
<stop offset="0.960" stop-color="#ff0097"/>
<stop offset="1.000" stop-color="#ff0090"/>
</linearGradient>
<linearGradient id="g99" gradientUnits="userSpaceOnUse" x1="310.5" x2="431.0" y1="0" y2="0">
<stop offset="0.000" stop-color="#0095ff"/>
<stop offset="0.042" stop-color="#0092ff"/>
<stop offset="0.083" stop-color="#008eff"/>
<stop offset="0.125" stop-color="#0089ff"/>
<stop offset="0.167" stop-color="#0085ff"/>
<stop offset="0.208" stop-color="#007fff"/>
<stop offset="0.250" stop-color="#307aff"/>
<stop offset="0.292" stop-color="#6473ff"/>
<stop offset="0.333" stop-color="#846cff"/>
<stop offset="0.375" stop-color="#9e64ff"/>
<stop offset="0.417" stop-color="#b45aff"/>
<stop offset="0.458" stop-color="#c84dff"/>
<stop offset="0.500" stop-color="#db3dff"/>
<stop offset="0.542" stop-color="#ec24ff"/>
<stop offset="0.583" stop-color="#fe00ff"/>
<stop offset="0.625" stop-color="#ff00f0"/>
<stop offset="0.667" stop-color="#ff00e2"/>
<stop offset="0.708" stop-color="#ff00d6"/>
<stop offset="0.750" stop-color="#ff00cb"/>
<stop offset="0.792" stop-color="#ff00c1"/>
<stop offset="0.833" stop-color="#ff00b7"/>
<stop offset="0.875" stop-color="#ff00af"/>
<stop offset="0.917" stop-color="#ff00a7"/>
<stop offset="0.958" stop-color="#ff009f"/>
<stop offset="1.000" stop-color="#ff0098"/>
</linearGradient>
<linearGradient id="g100" gradientUnits="userSpaceOnUse" x1="311.0" x2="427.0" y1="0" y2="0">
<stop offset="0.000" stop-color="#0090ff"/>
<stop offset="0.043" stop-color="#008dff"/>
<stop offset="0.087" stop-color="#0088ff"/>
<stop offset="0.130" stop-color="#0084ff"/>
<stop offset="0.174" stop-color="#007fff"/>
<stop offset="0.217" stop-color="#0079ff"/>
<stop offset="0.261" stop-color="#4073ff"/>
<stop offset="0.304" stop-color="#6c6cff"/>
<stop offset="0.348" stop-color="#8a63ff"/>
<stop offset="0.391" stop-color="#a25aff"/>
<stop offset="0.435" stop-color="#b84eff"/>
<stop offset="0.478" stop-color="#cb3fff"/>
<stop offset="0.522" stop-color="#de27ff"/>
<stop offset="0.565" stop-color="#ef00ff"/>
<stop offset="0.609" stop-color="#ff00fe"/>
<stop offset="0.652" stop-color="#ff00ee"/>
<stop offset="0.696" stop-color="#ff00e1"/>
<stop offset="0.739" stop-color="#ff00d5"/>
<stop offset="0.783" stop-color="#ff00ca"/>
<stop offset="0.826" stop-color="#ff00c0"/>
<stop offset="0.870" stop-color="#ff00b7"/>
<stop offset="0.913" stop-color="#ff00ae"/>
<stop offset="0.957" stop-color="#ff00a6"/>
<stop offset="1.000" stop-color="#ff009f"/>
</linearGradient>
<linearGradient id="g101" gradientUnits="userSpaceOnUse" x1="312.0" x2="422.5" y1="0" y2="0">
<stop offset="0.000" stop-color="#008bff"/>
<stop offset="0.045" stop-color="#0087ff"/>
<stop offset="0.091" stop-color="#0082ff"/>
<stop offset="0.136" stop-color="#007dff"/>
<stop offset="0.182" stop-color="#0078ff"/>
<stop offset="0.227" stop-color="#0072ff"/>
<stop offset="0.273" stop-color="#4f6bff"/>
<stop offset="0.318" stop-color="#7463ff"/>
<stop offset="0.364" stop-color="#905aff"/>
<stop offset="0.409" stop-color="#a74eff"/>
<stop offset="0.455" stop-color="#bc40ff"/>
<stop offset="0.500" stop-color="#cf2aff"/>
<stop offset="0.545" stop-color="#e000ff"/>
<stop offset="0.591" stop-color="#f100ff"/>
<stop offset="0.636" stop-color="#ff00fc"/>
<stop offset="0.682" stop-color="#ff00ed"/>
<stop offset="0.727" stop-color="#ff00e0"/>
<stop offset="0.773" stop-color="#ff00d4"/>
<stop offset="0.818" stop-color="#ff00c9"/>
<stop offset="0.864" stop-color="#ff00c0"/>
<stop offset="0.909" stop-color="#ff00b7"/>
<stop offset="0.955" stop-color="#ff00ae"/>
<stop offset="1.000" stop-color="#ff00a6"/>
</linearGradient>
<linearGradient id="g102" gradientUnits="userSpaceOnUse" x1="312.5" x2="418.5" y1="0" y2="0">
<stop offset="0.000" stop-color="#0086ff"/>
<stop offset="0.048" stop-color="#0082ff"/>
<stop offset="0.095" stop-color="#007dff"/>
<stop offset="0.143" stop-color="#0077ff"/>
<stop offset="0.190" stop-color="#0071ff"/>
<stop offset="0.238" stop-color="#126aff"/>
<stop offset="0.286" stop-color="#5963ff"/>
<stop offset="0.333" stop-color="#7b5aff"/>
<stop offset="0.381" stop-color="#954fff"/>
<stop offset="0.429" stop-color="#ab41ff"/>
<stop offset="0.476" stop-color="#bf2dff"/>
<stop offset="0.524" stop-color="#d200ff"/>
<stop offset="0.571" stop-color="#e300ff"/>
<stop offset="0.619" stop-color="#f400ff"/>
<stop offset="0.667" stop-color="#ff00fa"/>
<stop offset="0.714" stop-color="#ff00eb"/>
<stop offset="0.762" stop-color="#ff00de"/>
<stop offset="0.810" stop-color="#ff00d3"/>
<stop offset="0.857" stop-color="#ff00c8"/>
<stop offset="0.905" stop-color="#ff00bf"/>
<stop offset="0.952" stop-color="#ff00b6"/>
<stop offset="1.000" stop-color="#ff00ae"/>
</linearGradient>
<linearGradient id="g103" gradientUnits="userSpaceOnUse" x1="313.5" x2="414.0" y1="0" y2="0">
<stop offset="0.000" stop-color="#0080ff"/>
<stop offset="0.050" stop-color="#007cff"/>
<stop offset="0.100" stop-color="#0076ff"/>
<stop offset="0.150" stop-color="#0070ff"/>
<stop offset="0.200" stop-color="#006aff"/>
<stop offset="0.250" stop-color="#3262ff"/>
<stop offset="0.300" stop-color="#6359ff"/>
<stop offset="0.350" stop-color="#814fff"/>
<stop offset="0.400" stop-color="#9a42ff"/>
<stop offset="0.450" stop-color="#af2fff"/>
<stop offset="0.500" stop-color="#c307ff"/>
<stop offset="0.550" stop-color="#d500ff"/>
<stop offset="0.600" stop-color="#e600ff"/>
<stop offset="0.650" stop-color="#f600ff"/>
<stop offset="0.700" stop-color="#ff00f8"/>
<stop offset="0.750" stop-color="#ff00ea"/>
<stop offset="0.800" stop-color="#ff00dd"/>
<stop offset="0.850" stop-color="#ff00d2"/>
<stop offset="0.900" stop-color="#ff00c8"/>
<stop offset="0.950" stop-color="#ff00bf"/>
<stop offset="1.000" stop-color="#ff00b6"/>
</linearGradient>
<linearGradient id="g104" gradientUnits="userSpaceOnUse" x1="314.0" x2="409.5" y1="0" y2="0">
<stop offset="0.000" stop-color="#007bff"/>
<stop offset="0.053" stop-color="#0076ff"/>
<stop offset="0.105" stop-color="#0070ff"/>
<stop offset="0.158" stop-color="#006aff"/>
<stop offset="0.211" stop-color="#0062ff"/>
<stop offset="0.263" stop-color="#3f5aff"/>
<stop offset="0.316" stop-color="#6950ff"/>
<stop offset="0.368" stop-color="#8643ff"/>
<stop offset="0.421" stop-color="#9e33ff"/>
<stop offset="0.474" stop-color="#b214ff"/>
<stop offset="0.526" stop-color="#c500ff"/>
<stop offset="0.579" stop-color="#d700ff"/>
<stop offset="0.632" stop-color="#e800ff"/>
<stop offset="0.684" stop-color="#f800ff"/>
<stop offset="0.737" stop-color="#ff00f7"/>
<stop offset="0.789" stop-color="#ff00e9"/>
<stop offset="0.842" stop-color="#ff00dd"/>
<stop offset="0.895" stop-color="#ff00d2"/>
<stop offset="0.947" stop-color="#ff00c8"/>
<stop offset="1.000" stop-color="#ff00be"/>
</linearGradient>
<linearGradient id="g105" gradientUnits="userSpaceOnUse" x1="315.0" x2="405.5" y1="0" y2="0">
<stop offset="0.000" stop-color="#0075ff"/>
<stop offset="0.056" stop-color="#006fff"/>
<stop offset="0.111" stop-color="#0069ff"/>
<stop offset="0.167" stop-color="#0062ff"/>
<stop offset="0.222" stop-color="#0059ff"/>
<stop offset="0.278" stop-color="#4e50ff"/>
<stop offset="0.333" stop-color="#7244ff"/>
<stop offset="0.389" stop-color="#8d33ff"/>
<stop offset="0.444" stop-color="#a317ff"/>
<stop offset="0.500" stop-color="#b700ff"/>
<stop offset="0.556" stop-color="#c900ff"/>
<stop offset="0.611" stop-color="#da00ff"/>
<stop offset="0.667" stop-color="#eb00ff"/>
<stop offset="0.722" stop-color="#fb00ff"/>
<stop offset="0.778" stop-color="#ff00f4"/>
<stop offset="0.833" stop-color="#ff00e7"/>
<stop offset="0.889" stop-color="#ff00db"/>
<stop offset="0.944" stop-color="#ff00d0"/>
<stop offset="1.000" stop-color="#ff00c7"/>
</linearGradient>
<linearGradient id="g106" gradientUnits="userSpaceOnUse" x1="316.0" x2="401.0" y1="0" y2="0">
<stop offset="0.000" stop-color="#006eff"/>
<stop offset="0.059" stop-color="#0068ff"/>
<stop offset="0.118" stop-color="#0061ff"/>
<stop offset="0.176" stop-color="#0059ff"/>
<stop offset="0.235" stop-color="#1f50ff"/>
<stop offset="0.294" stop-color="#5944ff"/>
<stop offset="0.353" stop-color="#7935ff"/>
<stop offset="0.412" stop-color="#921cff"/>
<stop offset="0.471" stop-color="#a700ff"/>
<stop offset="0.529" stop-color="#bb00ff"/>
<stop offset="0.588" stop-color="#cc00ff"/>
<stop offset="0.647" stop-color="#dd00ff"/>
<stop offset="0.706" stop-color="#ed00ff"/>
<stop offset="0.765" stop-color="#fc00ff"/>
<stop offset="0.824" stop-color="#ff00f3"/>
<stop offset="0.882" stop-color="#ff00e6"/>
<stop offset="0.941" stop-color="#ff00db"/>
<stop offset="1.000" stop-color="#ff00d0"/>
</linearGradient>
<linearGradient id="g107" gradientUnits="userSpaceOnUse" x1="316.5" x2="397.0" y1="0" y2="0">
<stop offset="0.000" stop-color="#0068ff"/>
<stop offset="0.062" stop-color="#0061ff"/>
<stop offset="0.125" stop-color="#0059ff"/>
<stop offset="0.188" stop-color="#0050ff"/>
<stop offset="0.250" stop-color="#3345ff"/>
<stop offset="0.312" stop-color="#6237ff"/>
<stop offset="0.375" stop-color="#7f20ff"/>
<stop offset="0.438" stop-color="#9700ff"/>
<stop offset="0.500" stop-color="#ab00ff"/>
<stop offset="0.562" stop-color="#be00ff"/>
<stop offset="0.625" stop-color="#cf00ff"/>
<stop offset="0.688" stop-color="#e000ff"/>
<stop offset="0.750" stop-color="#f000ff"/>
<stop offset="0.812" stop-color="#ff00ff"/>
<stop offset="0.875" stop-color="#ff00f1"/>
<stop offset="0.938" stop-color="#ff00e4"/>
<stop offset="1.000" stop-color="#ff00d9"/>
</linearGradient>
<linearGradient id="g108" gradientUnits="userSpaceOnUse" x1="317.5" x2="392.5" y1="0" y2="0">
<stop offset="0.000" stop-color="#0061ff"/>
<stop offset="0.067" stop-color="#0059ff"/>
<stop offset="0.133" stop-color="#0050ff"/>
<stop offset="0.200" stop-color="#0045ff"/>
<stop offset="0.267" stop-color="#4438ff"/>
<stop offset="0.333" stop-color="#6a23ff"/>
<stop offset="0.400" stop-color="#8500ff"/>
<stop offset="0.467" stop-color="#9b00ff"/>
<stop offset="0.533" stop-color="#af00ff"/>
<stop offset="0.600" stop-color="#c100ff"/>
<stop offset="0.667" stop-color="#d200ff"/>
<stop offset="0.733" stop-color="#e200ff"/>
<stop offset="0.800" stop-color="#f100ff"/>
<stop offset="0.867" stop-color="#ff00fe"/>
<stop offset="0.933" stop-color="#ff00f0"/>
<stop offset="1.000" stop-color="#ff00e4"/>
</linearGradient>
<linearGradient id="g109" gradientUnits="userSpaceOnUse" x1="318.5" x2="388.5" y1="0" y2="0">
<stop offset="0.000" stop-color="#0059ff"/>
<stop offset="0.071" stop-color="#0050ff"/>
<stop offset="0.143" stop-color="#0045ff"/>
<stop offset="0.214" stop-color="#0038ff"/>
<stop offset="0.286" stop-color="#5125ff"/>
<stop offset="0.357" stop-color="#7200ff"/>
<stop offset="0.429" stop-color="#8b00ff"/>
<stop offset="0.500" stop-color="#a100ff"/>
<stop offset="0.571" stop-color="#b400ff"/>
<stop offset="0.643" stop-color="#c500ff"/>
<stop offset="0.714" stop-color="#d600ff"/>
<stop offset="0.786" stop-color="#e500ff"/>
<stop offset="0.857" stop-color="#f400ff"/>
<stop offset="0.929" stop-color="#ff00fb"/>
<stop offset="1.000" stop-color="#ff00ee"/>
</linearGradient>
<linearGradient id="g110" gradientUnits="userSpaceOnUse" x1="319.5" x2="384.0" y1="0" y2="0">
<stop offset="0.000" stop-color="#0050ff"/>
<stop offset="0.077" stop-color="#0046ff"/>
<stop offset="0.154" stop-color="#0039ff"/>
<stop offset="0.231" stop-color="#2a26ff"/>
<stop offset="0.308" stop-color="#5b00ff"/>
<stop offset="0.385" stop-color="#7900ff"/>
<stop offset="0.462" stop-color="#9000ff"/>
<stop offset="0.538" stop-color="#a500ff"/>
<stop offset="0.615" stop-color="#b700ff"/>
<stop offset="0.692" stop-color="#c800ff"/>
<stop offset="0.769" stop-color="#d800ff"/>
<stop offset="0.846" stop-color="#e700ff"/>
<stop offset="0.923" stop-color="#f600ff"/>
<stop offset="1.000" stop-color="#ff00fa"/>
</linearGradient>
<linearGradient id="g111" gradientUnits="userSpaceOnUse" x1="320.5" x2="380.0" y1="0" y2="0">
<stop offset="0.000" stop-color="#0045ff"/>
<stop offset="0.083" stop-color="#0039ff"/>
<stop offset="0.167" stop-color="#0028ff"/>
<stop offset="0.250" stop-color="#3d00ff"/>
<stop offset="0.333" stop-color="#6500ff"/>
<stop offset="0.417" stop-color="#8000ff"/>
<stop offset="0.500" stop-color="#9600ff"/>
<stop offset="0.583" stop-color="#a900ff"/>
<stop offset="0.667" stop-color="#bb00ff"/>
<stop offset="0.750" stop-color="#cb00ff"/>
<stop offset="0.833" stop-color="#db00ff"/>
<stop offset="0.917" stop-color="#ea00ff"/>
<stop offset="1.000" stop-color="#f800ff"/>
</linearGradient>
<linearGradient id="g112" gradientUnits="userSpaceOnUse" x1="321.5" x2="375.5" y1="0" y2="0">
<stop offset="0.000" stop-color="#0039ff"/>
<stop offset="0.091" stop-color="#0029ff"/>
<stop offset="0.182" stop-color="#0006ff"/>
<stop offset="0.273" stop-color="#4a00ff"/>
<stop offset="0.364" stop-color="#6c00ff"/>
<stop offset="0.455" stop-color="#8500ff"/>
<stop offset="0.545" stop-color="#9a00ff"/>
<stop offset="0.636" stop-color="#ad00ff"/>
<stop offset="0.727" stop-color="#be00ff"/>
<stop offset="0.818" stop-color="#ce00ff"/>
<stop offset="0.909" stop-color="#dd00ff"/>
<stop offset="1.000" stop-color="#eb00ff"/>
</linearGradient>
<linearGradient id="g113" gradientUnits="userSpaceOnUse" x1="322.5" x2="371.0" y1="0" y2="0">
<stop offset="0.000" stop-color="#0029ff"/>
<stop offset="0.100" stop-color="#000aff"/>
<stop offset="0.200" stop-color="#1f00ff"/>
<stop offset="0.300" stop-color="#5500ff"/>
<stop offset="0.400" stop-color="#7300ff"/>
<stop offset="0.500" stop-color="#8a00ff"/>
<stop offset="0.600" stop-color="#9e00ff"/>
<stop offset="0.700" stop-color="#b000ff"/>
<stop offset="0.800" stop-color="#c000ff"/>
<stop offset="0.900" stop-color="#cf00ff"/>
<stop offset="1.000" stop-color="#de00ff"/>
</linearGradient>
<linearGradient id="g114" gradientUnits="userSpaceOnUse" x1="324.0" x2="367.0" y1="0" y2="0">
<stop offset="0.000" stop-color="#0007ff"/>
<stop offset="0.111" stop-color="#0000ff"/>
<stop offset="0.222" stop-color="#3a00ff"/>
<stop offset="0.333" stop-color="#6100ff"/>
<stop offset="0.444" stop-color="#7b00ff"/>
<stop offset="0.556" stop-color="#9000ff"/>
<stop offset="0.667" stop-color="#a300ff"/>
<stop offset="0.778" stop-color="#b400ff"/>
<stop offset="0.889" stop-color="#c400ff"/>
<stop offset="1.000" stop-color="#d200ff"/>
</linearGradient>
<linearGradient id="g115" gradientUnits="userSpaceOnUse" x1="325.0" x2="362.5" y1="0" y2="0">
<stop offset="0.000" stop-color="#0000ff"/>
<stop offset="0.125" stop-color="#0000ff"/>
<stop offset="0.250" stop-color="#4700ff"/>
<stop offset="0.375" stop-color="#6800ff"/>
<stop offset="0.500" stop-color="#8000ff"/>
<stop offset="0.625" stop-color="#9400ff"/>
<stop offset="0.750" stop-color="#a600ff"/>
<stop offset="0.875" stop-color="#b600ff"/>
<stop offset="1.000" stop-color="#c500ff"/>
</linearGradient>
<linearGradient id="g116" gradientUnits="userSpaceOnUse" x1="327.0" x2="358.5" y1="0" y2="0">
<stop offset="0.000" stop-color="#0000ff"/>
<stop offset="0.167" stop-color="#3700ff"/>
<stop offset="0.333" stop-color="#6100ff"/>
<stop offset="0.500" stop-color="#7d00ff"/>
<stop offset="0.667" stop-color="#9300ff"/>
<stop offset="0.833" stop-color="#a700ff"/>
<stop offset="1.000" stop-color="#b900ff"/>
</linearGradient>
<linearGradient id="g117" gradientUnits="userSpaceOnUse" x1="328.5" x2="354.0" y1="0" y2="0">
<stop offset="0.000" stop-color="#0000ff"/>
<stop offset="0.200" stop-color="#4900ff"/>
<stop offset="0.400" stop-color="#6b00ff"/>
<stop offset="0.600" stop-color="#8300ff"/>
<stop offset="0.800" stop-color="#9800ff"/>
<stop offset="1.000" stop-color="#ab00ff"/>
</linearGradient>
<linearGradient id="g118" gradientUnits="userSpaceOnUse" x1="331.0" x2="350.0" y1="0" y2="0">
<stop offset="0.000" stop-color="#3500ff"/>
<stop offset="0.250" stop-color="#5c00ff"/>
<stop offset="0.500" stop-color="#7600ff"/>
<stop offset="0.750" stop-color="#8b00ff"/>
<stop offset="1.000" stop-color="#9d00ff"/>
</linearGradient>
<linearGradient id="g119" gradientUnits="userSpaceOnUse" x1="333.0" x2="345.5" y1="0" y2="0">
<stop offset="0.000" stop-color="#4c00ff"/>
<stop offset="0.500" stop-color="#7200ff"/>
<stop offset="1.000" stop-color="#8e00ff"/>
</linearGradient>
</defs>
<line x1="288.7" y1="32.3" x2="288.7" y2="293.3" stroke="#f2f2f4" stroke-width="0.6"/>
<line x1="303.1" y1="32.3" x2="303.1" y2="293.3" stroke="#f2f2f4" stroke-width="0.6"/>
<line x1="317.5" y1="32.3" x2="317.5" y2="293.3" stroke="#f2f2f4" stroke-width="0.6"/>
<line x1="331.9" y1="32.3" x2="331.9" y2="293.3" stroke="#f2f2f4" stroke-width="0.6"/>
<line x1="346.3" y1="32.3" x2="346.3" y2="293.3" stroke="#f2f2f4" stroke-width="0.6"/>
<line x1="360.7" y1="32.3" x2="360.7" y2="293.3" stroke="#f2f2f4" stroke-width="0.6"/>
<line x1="375.1" y1="32.3" x2="375.1" y2="293.3" stroke="#f2f2f4" stroke-width="0.6"/>
<line x1="389.5" y1="32.3" x2="389.5" y2="293.3" stroke="#f2f2f4" stroke-width="0.6"/>
<line x1="403.9" y1="32.3" x2="403.9" y2="293.3" stroke="#f2f2f4" stroke-width="0.6"/>
<line x1="418.3" y1="32.3" x2="418.3" y2="293.3" stroke="#f2f2f4" stroke-width="0.6"/>
<line x1="432.7" y1="32.3" x2="432.7" y2="293.3" stroke="#f2f2f4" stroke-width="0.6"/>
<line x1="447.1" y1="32.3" x2="447.1" y2="293.3" stroke="#f2f2f4" stroke-width="0.6"/>
<line x1="461.5" y1="32.3" x2="461.5" y2="293.3" stroke="#f2f2f4" stroke-width="0.6"/>
<line x1="475.9" y1="32.3" x2="475.9" y2="293.3" stroke="#f2f2f4" stroke-width="0.6"/>
<line x1="490.3" y1="32.3" x2="490.3" y2="293.3" stroke="#f2f2f4" stroke-width="0.6"/>
<line x1="504.7" y1="32.3" x2="504.7" y2="293.3" stroke="#f2f2f4" stroke-width="0.6"/>
<line x1="519.1" y1="32.3" x2="519.1" y2="293.3" stroke="#f2f2f4" stroke-width="0.6"/>
<line x1="288.7" y1="293.3" x2="520.0" y2="293.3" stroke="#f2f2f4" stroke-width="0.6"/>
<line x1="288.7" y1="278.8" x2="520.0" y2="278.8" stroke="#f2f2f4" stroke-width="0.6"/>
<line x1="288.7" y1="264.3" x2="520.0" y2="264.3" stroke="#f2f2f4" stroke-width="0.6"/>
<line x1="288.7" y1="249.8" x2="520.0" y2="249.8" stroke="#f2f2f4" stroke-width="0.6"/>
<line x1="288.7" y1="235.3" x2="520.0" y2="235.3" stroke="#f2f2f4" stroke-width="0.6"/>
<line x1="288.7" y1="220.8" x2="520.0" y2="220.8" stroke="#f2f2f4" stroke-width="0.6"/>
<line x1="288.7" y1="206.3" x2="520.0" y2="206.3" stroke="#f2f2f4" stroke-width="0.6"/>
<line x1="288.7" y1="191.8" x2="520.0" y2="191.8" stroke="#f2f2f4" stroke-width="0.6"/>
<line x1="288.7" y1="177.3" x2="520.0" y2="177.3" stroke="#f2f2f4" stroke-width="0.6"/>
<line x1="288.7" y1="162.8" x2="520.0" y2="162.8" stroke="#f2f2f4" stroke-width="0.6"/>
<line x1="288.7" y1="148.3" x2="520.0" y2="148.3" stroke="#f2f2f4" stroke-width="0.6"/>
<line x1="288.7" y1="133.8" x2="520.0" y2="133.8" stroke="#f2f2f4" stroke-width="0.6"/>
<line x1="288.7" y1="119.3" x2="520.0" y2="119.3" stroke="#f2f2f4" stroke-width="0.6"/>
<line x1="288.7" y1="104.8" x2="520.0" y2="104.8" stroke="#f2f2f4" stroke-width="0.6"/>
<line x1="288.7" y1="90.3" x2="520.0" y2="90.3" stroke="#f2f2f4" stroke-width="0.6"/>
<line x1="288.7" y1="75.8" x2="520.0" y2="75.8" stroke="#f2f2f4" stroke-width="0.6"/>
<line x1="288.7" y1="61.3" x2="520.0" y2="61.3" stroke="#f2f2f4" stroke-width="0.6"/>
<line x1="288.7" y1="46.8" x2="520.0" y2="46.8" stroke="#f2f2f4" stroke-width="0.6"/>
<line x1="288.7" y1="32.3" x2="520.0" y2="32.3" stroke="#f2f2f4" stroke-width="0.6"/>
<g clip-path="url(#lc)">
<rect x="305.0" y="51" width="14.0" height="2.3" fill="url(#g0)"/>
<rect x="301.0" y="53" width="24.0" height="2.3" fill="url(#g1)"/>
<rect x="298.5" y="55" width="31.0" height="2.3" fill="url(#g2)"/>
<rect x="297.0" y="57" width="36.0" height="2.3" fill="url(#g3)"/>
<rect x="295.5" y="59" width="41.0" height="2.3" fill="url(#g4)"/>
<rect x="294.5" y="61" width="45.5" height="2.3" fill="url(#g5)"/>
<rect x="293.5" y="63" width="49.5" height="2.3" fill="url(#g6)"/>
<rect x="293.0" y="65" width="53.0" height="2.3" fill="url(#g7)"/>
<rect x="292.0" y="67" width="57.0" height="2.3" fill="url(#g8)"/>
<rect x="291.5" y="69" width="60.0" height="2.3" fill="url(#g9)"/>
<rect x="291.0" y="71" width="63.5" height="2.3" fill="url(#g10)"/>
<rect x="290.5" y="73" width="66.5" height="2.3" fill="url(#g11)"/>
<rect x="290.0" y="75" width="69.5" height="2.3" fill="url(#g12)"/>
<rect x="289.5" y="77" width="72.5" height="2.3" fill="url(#g13)"/>
<rect x="289.0" y="79" width="75.0" height="2.3" fill="url(#g14)"/>
<rect x="289.0" y="81" width="77.5" height="2.3" fill="url(#g15)"/>
<rect x="288.5" y="83" width="80.5" height="2.3" fill="url(#g16)"/>
<rect x="288.0" y="85" width="83.0" height="2.3" fill="url(#g17)"/>
<rect x="288.0" y="87" width="85.5" height="2.3" fill="url(#g18)"/>
<rect x="288.0" y="89" width="87.5" height="2.3" fill="url(#g19)"/>
<rect x="287.5" y="91" width="90.0" height="2.3" fill="url(#g20)"/>
<rect x="287.5" y="93" width="92.5" height="2.3" fill="url(#g21)"/>
<rect x="287.5" y="95" width="94.5" height="2.3" fill="url(#g22)"/>
<rect x="287.5" y="97" width="96.5" height="2.3" fill="url(#g23)"/>
<rect x="287.0" y="99" width="99.5" height="2.3" fill="url(#g24)"/>
<rect x="287.0" y="101" width="101.5" height="2.3" fill="url(#g25)"/>
<rect x="287.0" y="103" width="103.5" height="2.3" fill="url(#g26)"/>
<rect x="287.0" y="105" width="105.5" height="2.3" fill="url(#g27)"/>
<rect x="287.0" y="107" width="107.5" height="2.3" fill="url(#g28)"/>
<rect x="287.0" y="109" width="109.5" height="2.3" fill="url(#g29)"/>
<rect x="287.0" y="111" width="111.5" height="2.3" fill="url(#g30)"/>
<rect x="287.0" y="113" width="113.5" height="2.3" fill="url(#g31)"/>
<rect x="287.0" y="115" width="116.0" height="2.3" fill="url(#g32)"/>
<rect x="287.0" y="117" width="118.0" height="2.3" fill="url(#g33)"/>
<rect x="287.0" y="119" width="120.0" height="2.3" fill="url(#g34)"/>
<rect x="287.5" y="121" width="121.5" height="2.3" fill="url(#g35)"/>
<rect x="287.5" y="123" width="123.5" height="2.3" fill="url(#g36)"/>
<rect x="287.5" y="125" width="125.5" height="2.3" fill="url(#g37)"/>
<rect x="287.5" y="127" width="127.5" height="2.3" fill="url(#g38)"/>
<rect x="288.0" y="129" width="129.0" height="2.3" fill="url(#g39)"/>
<rect x="288.0" y="131" width="131.0" height="2.3" fill="url(#g40)"/>
<rect x="288.0" y="133" width="133.0" height="2.3" fill="url(#g41)"/>
<rect x="288.0" y="135" width="135.0" height="2.3" fill="url(#g42)"/>
<rect x="288.5" y="137" width="136.5" height="2.3" fill="url(#g43)"/>
<rect x="288.5" y="139" width="138.5" height="2.3" fill="url(#g44)"/>
<rect x="288.5" y="141" width="140.5" height="2.3" fill="url(#g45)"/>
<rect x="289.0" y="143" width="142.0" height="2.3" fill="url(#g46)"/>
<rect x="289.0" y="145" width="144.0" height="2.3" fill="url(#g47)"/>
<rect x="289.5" y="147" width="145.5" height="2.3" fill="url(#g48)"/>
<rect x="289.5" y="149" width="147.5" height="2.3" fill="url(#g49)"/>
<rect x="290.0" y="151" width="149.0" height="2.3" fill="url(#g50)"/>
<rect x="290.0" y="153" width="151.0" height="2.3" fill="url(#g51)"/>
<rect x="290.5" y="155" width="152.5" height="2.3" fill="url(#g52)"/>
<rect x="290.5" y="157" width="154.5" height="2.3" fill="url(#g53)"/>
<rect x="291.0" y="159" width="156.0" height="2.3" fill="url(#g54)"/>
<rect x="291.0" y="161" width="158.0" height="2.3" fill="url(#g55)"/>
<rect x="291.5" y="163" width="159.5" height="2.3" fill="url(#g56)"/>
<rect x="291.5" y="165" width="161.5" height="2.3" fill="url(#g57)"/>
<rect x="292.0" y="167" width="163.0" height="2.3" fill="url(#g58)"/>
<rect x="292.0" y="169" width="165.0" height="2.3" fill="url(#g59)"/>
<rect x="292.5" y="171" width="166.5" height="2.3" fill="url(#g60)"/>
<rect x="293.0" y="173" width="168.0" height="2.3" fill="url(#g61)"/>
<rect x="293.0" y="175" width="170.0" height="2.3" fill="url(#g62)"/>
<rect x="293.5" y="177" width="171.5" height="2.3" fill="url(#g63)"/>
<rect x="293.5" y="179" width="173.5" height="2.3" fill="url(#g64)"/>
<rect x="294.0" y="181" width="175.0" height="2.3" fill="url(#g65)"/>
<rect x="294.5" y="183" width="176.5" height="2.3" fill="url(#g66)"/>
<rect x="295.0" y="185" width="178.0" height="2.3" fill="url(#g67)"/>
<rect x="295.0" y="187" width="180.0" height="2.3" fill="url(#g68)"/>
<rect x="295.5" y="189" width="181.0" height="2.3" fill="url(#g69)"/>
<rect x="296.0" y="191" width="182.5" height="2.3" fill="url(#g70)"/>
<rect x="296.0" y="193" width="184.5" height="2.3" fill="url(#g71)"/>
<rect x="296.5" y="195" width="186.5" height="2.3" fill="url(#g72)"/>
<rect x="297.0" y="197" width="188.0" height="2.3" fill="url(#g73)"/>
<rect x="297.5" y="199" width="189.0" height="2.3" fill="url(#g74)"/>
<rect x="298.0" y="201" width="190.5" height="2.3" fill="url(#g75)"/>
<rect x="298.0" y="203" width="192.5" height="2.3" fill="url(#g76)"/>
<rect x="298.5" y="205" width="194.0" height="2.3" fill="url(#g77)"/>
<rect x="299.0" y="207" width="195.5" height="2.3" fill="url(#g78)"/>
<rect x="299.5" y="209" width="197.0" height="2.3" fill="url(#g79)"/>
<rect x="300.0" y="211" width="198.5" height="2.3" fill="url(#g80)"/>
<rect x="300.5" y="213" width="200.0" height="2.3" fill="url(#g81)"/>
<rect x="301.0" y="215" width="201.5" height="2.3" fill="url(#g82)"/>
<rect x="301.5" y="217" width="198.0" height="2.3" fill="url(#g83)"/>
<rect x="302.0" y="219" width="193.5" height="2.3" fill="url(#g84)"/>
<rect x="302.5" y="221" width="188.5" height="2.3" fill="url(#g85)"/>
<rect x="303.0" y="223" width="183.5" height="2.3" fill="url(#g86)"/>
<rect x="303.5" y="225" width="179.0" height="2.3" fill="url(#g87)"/>
<rect x="304.0" y="227" width="174.0" height="2.3" fill="url(#g88)"/>
<rect x="304.5" y="229" width="169.5" height="2.3" fill="url(#g89)"/>
<rect x="305.0" y="231" width="164.5" height="2.3" fill="url(#g90)"/>
<rect x="305.5" y="233" width="160.0" height="2.3" fill="url(#g91)"/>
<rect x="306.0" y="235" width="155.0" height="2.3" fill="url(#g92)"/>
<rect x="306.5" y="237" width="150.5" height="2.3" fill="url(#g93)"/>
<rect x="307.0" y="239" width="145.5" height="2.3" fill="url(#g94)"/>
<rect x="308.0" y="241" width="140.0" height="2.3" fill="url(#g95)"/>
<rect x="308.5" y="243" width="135.5" height="2.3" fill="url(#g96)"/>
<rect x="309.0" y="245" width="130.5" height="2.3" fill="url(#g97)"/>
<rect x="310.0" y="247" width="125.5" height="2.3" fill="url(#g98)"/>
<rect x="310.5" y="249" width="120.5" height="2.3" fill="url(#g99)"/>
<rect x="311.0" y="251" width="116.0" height="2.3" fill="url(#g100)"/>
<rect x="312.0" y="253" width="110.5" height="2.3" fill="url(#g101)"/>
<rect x="312.5" y="255" width="106.0" height="2.3" fill="url(#g102)"/>
<rect x="313.5" y="257" width="100.5" height="2.3" fill="url(#g103)"/>
<rect x="314.0" y="259" width="95.5" height="2.3" fill="url(#g104)"/>
<rect x="315.0" y="261" width="90.5" height="2.3" fill="url(#g105)"/>
<rect x="316.0" y="263" width="85.0" height="2.3" fill="url(#g106)"/>
<rect x="316.5" y="265" width="80.5" height="2.3" fill="url(#g107)"/>
<rect x="317.5" y="267" width="75.0" height="2.3" fill="url(#g108)"/>
<rect x="318.5" y="269" width="70.0" height="2.3" fill="url(#g109)"/>
<rect x="319.5" y="271" width="64.5" height="2.3" fill="url(#g110)"/>
<rect x="320.5" y="273" width="59.5" height="2.3" fill="url(#g111)"/>
<rect x="321.5" y="275" width="54.0" height="2.3" fill="url(#g112)"/>
<rect x="322.5" y="277" width="48.5" height="2.3" fill="url(#g113)"/>
<rect x="324.0" y="279" width="43.0" height="2.3" fill="url(#g114)"/>
<rect x="325.0" y="281" width="37.5" height="2.3" fill="url(#g115)"/>
<rect x="327.0" y="283" width="31.5" height="2.3" fill="url(#g116)"/>
<rect x="328.5" y="285" width="25.5" height="2.3" fill="url(#g117)"/>
<rect x="331.0" y="287" width="19.0" height="2.3" fill="url(#g118)"/>
<rect x="333.0" y="289" width="12.5" height="2.3" fill="url(#g119)"/>
</g>
<path d="M338.8,291.9 L338.8,291.9 L338.8,291.9 L338.8,291.9 L338.8,291.9 L338.8,291.9 L338.8,291.9 L338.8,291.9 L338.8,291.9 L338.8,291.9 L338.8,291.9 L338.7,291.9 L338.7,291.9 L338.7,291.9 L338.7,291.9 L338.7,291.9 L338.7,291.9 L338.7,291.9 L338.6,291.9 L338.6,291.9 L338.6,291.9 L338.6,291.9 L338.6,291.9 L338.6,291.9 L338.6,291.9 L338.5,291.9 L338.5,291.9 L338.5,291.9 L338.5,291.9 L338.4,291.9 L338.4,291.9 L338.4,291.9 L338.3,291.9 L338.3,291.9 L338.3,291.9 L338.3,291.9 L338.2,291.9 L338.2,291.9 L338.2,291.9 L338.1,291.8 L338.1,291.8 L338.0,291.8 L337.9,291.8 L337.9,291.7 L337.8,291.7 L337.7,291.6 L337.7,291.6 L337.6,291.5 L337.5,291.4 L337.4,291.4 L337.3,291.3 L337.2,291.2 L337.1,291.1 L337.0,291.0 L336.9,290.9 L336.8,290.8 L336.6,290.7 L336.5,290.6 L336.4,290.4 L336.2,290.3 L336.1,290.2 L335.9,290.0 L335.7,289.8 L335.5,289.7 L335.3,289.5 L335.1,289.3 L334.9,289.1 L334.6,288.9 L334.4,288.7 L334.1,288.4 L333.8,288.2 L333.5,287.9 L333.2,287.6 L332.9,287.3 L332.5,287.0 L332.2,286.7 L331.8,286.4 L331.4,286.0 L331.0,285.6 L330.6,285.1 L330.2,284.7 L329.7,284.2 L329.2,283.7 L328.8,283.1 L328.3,282.5 L327.7,281.7 L327.2,280.9 L326.5,280.0 L325.9,279.0 L325.2,277.8 L324.4,276.5 L323.7,275.1 L322.9,273.6 L322.1,272.0 L321.2,270.1 L320.3,268.1 L319.3,265.9 L318.3,263.5 L317.2,260.8 L316.1,257.9 L315.0,254.8 L313.8,251.4 L312.5,247.8 L311.2,243.9 L309.8,239.6 L308.5,235.1 L307.1,230.2 L305.8,225.1 L304.4,219.6 L303.1,213.8 L301.8,207.8 L300.4,201.4 L299.1,194.7 L297.8,187.9 L296.6,180.8 L295.5,173.6 L294.4,166.4 L293.4,159.0 L292.5,151.7 L291.7,144.4 L291.1,137.2 L290.5,130.0 L290.1,123.0 L289.8,116.3 L289.7,109.7 L289.8,103.4 L290.0,97.3 L290.4,91.4 L291.0,85.9 L291.8,80.6 L292.7,75.7 L293.8,71.3 L295.1,67.2 L296.6,63.6 L298.2,60.5 L299.9,57.8 L301.8,55.7 L303.7,54.0 L305.8,52.8 L307.9,51.9 L310.1,51.5 L312.3,51.4 L314.6,51.6 L316.9,52.1 L319.2,52.8 L321.6,53.7 L323.9,54.7 L326.3,55.8 L328.6,57.0 L331.0,58.3 L333.3,59.6 L335.5,60.9 L337.7,62.3 L339.9,63.7 L342.1,65.1 L344.2,66.6 L346.4,68.1 L348.5,69.7 L350.6,71.3 L352.7,72.9 L354.8,74.5 L356.9,76.2 L359.0,77.9 L361.1,79.7 L363.2,81.5 L365.2,83.2 L367.3,85.1 L369.4,86.9 L371.4,88.8 L373.5,90.6 L375.6,92.5 L377.6,94.4 L379.7,96.4 L381.7,98.3 L383.8,100.3 L385.9,102.2 L387.9,104.2 L390.0,106.2 L392.0,108.2 L394.1,110.2 L396.2,112.2 L398.2,114.2 L400.3,116.2 L402.3,118.3 L404.4,120.3 L406.4,122.3 L408.5,124.3 L410.5,126.4 L412.5,128.4 L414.6,130.4 L416.6,132.4 L418.6,134.4 L420.6,136.5 L422.6,138.5 L424.6,140.5 L426.6,142.4 L428.6,144.4 L430.5,146.4 L432.5,148.3 L434.4,150.3 L436.3,152.2 L438.2,154.1 L440.1,156.0 L441.9,157.8 L443.8,159.7 L445.6,161.5 L447.4,163.3 L449.2,165.1 L450.9,166.8 L452.6,168.6 L454.3,170.3 L456.0,172.0 L457.7,173.6 L459.3,175.2 L460.8,176.8 L462.3,178.3 L463.8,179.8 L465.2,181.2 L466.6,182.6 L468.0,184.0 L469.3,185.3 L470.6,186.6 L471.8,187.8 L473.1,189.1 L474.3,190.3 L475.4,191.4 L476.5,192.5 L477.5,193.5 L478.5,194.5 L479.5,195.5 L480.4,196.4 L481.3,197.3 L482.2,198.2 L483.0,199.0 L483.8,199.8 L484.6,200.6 L485.3,201.3 L486.0,202.0 L486.6,202.7 L487.3,203.3 L487.9,203.9 L488.4,204.5 L489.0,205.0 L489.5,205.5 L490.0,206.0 L490.5,206.5 L490.9,207.0 L491.4,207.4 L491.8,207.8 L492.2,208.2 L492.6,208.6 L493.0,209.0 L493.3,209.4 L493.7,209.7 L494.0,210.1 L494.3,210.4 L494.7,210.7 L495.0,211.0 L495.2,211.3 L495.5,211.6 L495.8,211.8 L496.0,212.1 L496.3,212.3 L496.5,212.6 L496.7,212.8 L496.9,213.0 L497.1,213.2 L497.3,213.4 L497.5,213.5 L497.6,213.7 L497.8,213.8 L497.9,214.0 L498.1,214.1 L498.2,214.3 L498.3,214.4 L498.4,214.5 L498.6,214.6 L498.7,214.7 L498.8,214.8 L498.8,214.9 L498.9,215.0 L499.0,215.1 L499.1,215.1 L499.1,215.2 L499.2,215.3 L499.3,215.3 L499.3,215.4 L499.4,215.4 L499.4,215.5 L499.5,215.5 L499.5,215.6 L499.6,215.6 L499.6,215.7 L499.6,215.7 L499.7,215.7 L499.7,215.8 L499.8,215.8 L499.8,215.9 L499.8,215.9 L499.9,216.0 L499.9,216.0 L500.0,216.0 L500.0,216.1 L500.0,216.1 L500.1,216.1 L500.1,216.2 L500.1,216.2 L500.2,216.2 L500.2,216.2 L500.2,216.3 L500.2,216.3 L500.2,216.3 L500.2,216.3 L500.2,216.3 L500.3,216.3 L500.3,216.3 L500.3,216.3 L500.3,216.3 L500.3,216.4 L500.3,216.4 L500.3,216.4 Z" fill="none" stroke="#2a2a1a" stroke-width="0.7" stroke-linejoin="miter"/>
<line x1="288.7" y1="46.8" x2="288.7" y2="293.8" stroke="#333" stroke-width="1"/>
<line x1="288.2" y1="293.3" x2="490.3" y2="293.3" stroke="#333" stroke-width="1"/>
<line x1="346.3" y1="293.3" x2="346.3" y2="290.3" stroke="#333" stroke-width="0.9"/>
<line x1="403.9" y1="293.3" x2="403.9" y2="290.3" stroke="#333" stroke-width="0.9"/>
<line x1="461.5" y1="293.3" x2="461.5" y2="290.3" stroke="#333" stroke-width="0.9"/>
<line x1="288.7" y1="235.3" x2="291.7" y2="235.3" stroke="#333" stroke-width="0.9"/>
<line x1="288.7" y1="177.3" x2="291.7" y2="177.3" stroke="#333" stroke-width="0.9"/>
<line x1="288.7" y1="119.3" x2="291.7" y2="119.3" stroke="#333" stroke-width="0.9"/>
<line x1="288.7" y1="61.3" x2="291.7" y2="61.3" stroke="#333" stroke-width="0.9"/>
<text x="287.8" y="315.7" font-size="12" text-anchor="middle" letter-spacing="1.2">0</text>
<text x="345.4" y="315.7" font-size="12" text-anchor="middle" letter-spacing="1.2">0.2</text>
<text x="403.0" y="315.7" font-size="12" text-anchor="middle" letter-spacing="1.2">0.4</text>
<text x="460.6" y="315.7" font-size="12" text-anchor="middle" letter-spacing="1.2">0.6</text>
<text x="280.5" y="301.3" font-size="12" text-anchor="end" letter-spacing="1.2">0</text>
<text x="280.5" y="243.3" font-size="12" text-anchor="end" letter-spacing="1.2">0.2</text>
<text x="280.5" y="185.3" font-size="12" text-anchor="end" letter-spacing="1.2">0.4</text>
<text x="280.5" y="127.3" font-size="12" text-anchor="end" letter-spacing="1.2">0.6</text>
<text x="280.5" y="69.3" font-size="12" text-anchor="end" letter-spacing="1.2">0.8</text>
<text x="379" y="330.8" font-size="12">x</text>
<text x="251" y="168.5" font-size="12">y</text>
<text x="252" y="9" font-size="10.5" font-weight="bold">(d)</text>
<text x="302.7" y="45.6" font-size="9.4" class="bl">520</text>
<text x="357.5" y="69.1" font-size="9.4" class="bl">540</text>
<text x="399.4" y="107.4" font-size="9.4" class="bl">560</text>
<text x="439.1" y="148.2" font-size="9.4" class="bl">580</text>
<text x="473.4" y="181.5" font-size="9.4" class="bl">600</text>
<text x="491.0" y="200.0" font-size="9.4" class="bl">620</text>
<text x="503.9" y="218.7" font-size="9.4" class="bl">700</text>
<text x="271.8" y="141.9" font-size="9.4" class="bl">500</text>
<text x="282.0" y="213.7" font-size="9.4" class="bl">490</text>
<text x="295.6" y="260.0" font-size="9.4" class="bl">480</text>
<text x="305.4" y="282.0" font-size="9.4" class="bl">470</text>
<text x="311.8" y="292.1" font-size="9.4" class="bl">460</text>
<text x="322.0" y="301.0" font-size="9.4" class="bl">380</text>
<line x1="310.1" y1="51.5" x2="309.7" y2="48.3" stroke="#5a6e9a" stroke-width="0.7"/>
<line x1="354.8" y1="74.5" x2="356.8" y2="72.0" stroke="#5a6e9a" stroke-width="0.7"/>
<line x1="396.2" y1="112.2" x2="398.4" y2="109.9" stroke="#5a6e9a" stroke-width="0.7"/>
<line x1="436.3" y1="152.2" x2="438.6" y2="149.9" stroke="#5a6e9a" stroke-width="0.7"/>
<line x1="469.3" y1="185.3" x2="471.6" y2="183.0" stroke="#5a6e9a" stroke-width="0.7"/>
<line x1="487.9" y1="203.9" x2="490.1" y2="201.6" stroke="#5a6e9a" stroke-width="0.7"/>
<line x1="500.3" y1="216.4" x2="502.6" y2="214.1" stroke="#5a6e9a" stroke-width="0.7"/>
<line x1="291.1" y1="137.2" x2="287.9" y2="137.4" stroke="#5a6e9a" stroke-width="0.7"/>
<line x1="301.8" y1="207.8" x2="298.6" y2="208.4" stroke="#5a6e9a" stroke-width="0.7"/>
<line x1="315.0" y1="254.8" x2="312.0" y2="255.9" stroke="#5a6e9a" stroke-width="0.7"/>
<line x1="324.4" y1="276.5" x2="321.7" y2="278.1" stroke="#5a6e9a" stroke-width="0.7"/>
<line x1="330.2" y1="284.7" x2="327.8" y2="286.9" stroke="#5a6e9a" stroke-width="0.7"/>
<line x1="338.8" y1="291.9" x2="337.8" y2="294.9" stroke="#5a6e9a" stroke-width="0.7"/>
<rect x="338.6" y="90.2" width="6.4" height="5.6" fill="#111"/>
<text x="346.9" y="92.2" font-size="8.7" class="ml">g</text>
<polygon points="427.10,178.60 428.25,181.72 431.57,181.85 428.95,183.90 429.86,187.10 427.10,185.25 424.34,187.10 425.25,183.90 422.63,181.85 425.95,181.72" fill="none" stroke="#222" stroke-width="1"/>
<text x="432.7" y="178.9" font-size="8.7" class="ml">r2</text>
<polygon points="461.00,200.00 461.94,202.71 464.80,202.76 462.52,204.49 463.35,207.24 461.00,205.60 458.65,207.24 459.48,204.49 457.20,202.76 460.06,202.71" fill="#111"/>
<text x="466.6" y="212.7" font-size="8.7" class="ml">r1</text>
<circle cx="354.8" cy="217.3" r="3.0" fill="none" stroke="#172a66" stroke-width="1.2"/>
<text x="341.0" y="212.7" font-size="8.7" class="ml">b2</text>
<circle cx="338.4" cy="274.7" r="2.8" fill="#111"/>
<text x="326.5" y="270.8" font-size="8.7" class="ml">b1</text>
<path d="M378.3,195.6 l2.6,2.6 m0,-2.6 l-2.6,2.6" stroke="#111" stroke-width="0.8" fill="none"/>
<text x="381.5" y="207.3" font-size="12.5">white point</text>
</svg>
</body></html>
